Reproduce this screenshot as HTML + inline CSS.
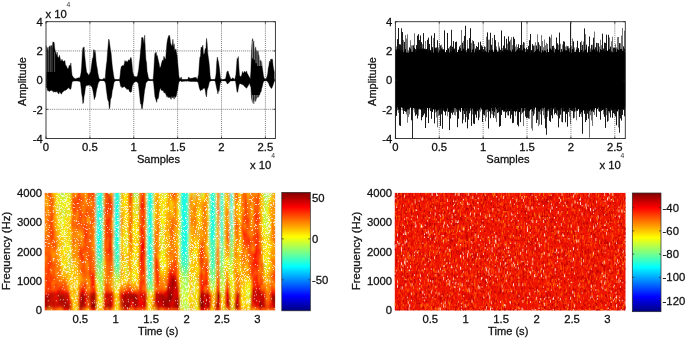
<!DOCTYPE html>
<html lang="en"><head><meta charset="utf-8"><title>Speech and noise: waveforms and spectrograms</title>
<style>html,body{margin:0;padding:0;background:#fff}svg{display:block}text{font-family:"Liberation Sans", Arial, sans-serif;fill:#111;stroke:#111;stroke-width:.28px}</style>
</head><body>
<svg width="685" height="339" viewBox="0 0 685 339">
<defs><linearGradient id="jet" x1="0" y1="1" x2="0" y2="0">
<stop offset="0" stop-color="#000080"/>
<stop offset="0.125" stop-color="#0000ff"/>
<stop offset="0.25" stop-color="#0080ff"/>
<stop offset="0.375" stop-color="#00ffff"/>
<stop offset="0.5" stop-color="#80ff80"/>
<stop offset="0.625" stop-color="#ffff00"/>
<stop offset="0.75" stop-color="#ff8000"/>
<stop offset="0.875" stop-color="#ff0000"/>
<stop offset="1" stop-color="#800000"/>
</linearGradient></defs>
<rect width="685" height="339" fill="#fff"/>
<path d="M89.88 21.7V138.5M133.76 21.7V138.5M177.64 21.7V138.5M221.52 21.7V138.5M265.4 21.7V138.5M46 50.9H275.4M46 80.1H275.4M46 109.3H275.4" stroke="#3a3a3a" stroke-width="0.75" stroke-dasharray="0.85 1.1" fill="none"/>
<path d="M46.3 45.63 46.9 48.15 47.5 47.59 48.1 51.07 48.7 46.96 49.3 46.73 49.9 45.73 50.5 46.87 51.1 45.27 51.7 46.08 52.3 47.76 52.9 41.84 53.5 42.32 54.1 42.37 54.7 48.17 55.3 51.01 55.9 53.1 56.5 55.92 57.1 52.08 57.7 56.73 58.3 57.71 58.9 56.92 59.5 55.13 60.1 58.02 60.7 60.77 61.3 61.09 61.9 59.21 62.5 60.31 63.1 61.29 63.7 61.43 64.3 61.08 64.9 60.55 65.5 65.24 66.1 65.4 66.7 66.44 67.3 68.82 67.9 68.24 68.5 68.58 69.1 65.42 69.7 65.43 70.3 66.1 70.9 62.96 71.5 70.2 72.1 75.39 72.7 76.11 73.3 77.25 73.9 78.06 74.5 78.22 75.1 78.77 75.7 78.64 76.3 78.38 76.9 78.27 77.5 78.11 78.1 77.98 78.7 77.79 79.3 78.07 79.9 77.3 80.5 75.57 81.1 72.25 81.7 65.21 82.3 53.34 82.9 47.68 83.5 47.95 84.1 46.82 84.7 55.38 85.3 60.96 85.9 66.78 86.5 71.47 87.1 73.36 87.7 73.35 88.3 75.14 88.9 74.58 89.5 74.37 90.1 72.91 90.7 71.42 91.3 67.27 91.9 62.83 92.5 58.2 93.1 57.38 93.7 49.46 94.3 53.52 94.9 50.09 95.5 53.69 96.1 61.2 96.7 65.65 97.3 68.68 97.9 73.3 98.5 76.11 99.1 78.42 99.7 78.97 100.3 79.24 100.9 79.54 101.5 79.63 102.1 79.59 102.7 79.62 103.3 78.92 103.9 77.94 104.5 78.6 105.1 79.52 105.7 72.01 106.3 65.37 106.9 61.24 107.5 52.66 108.1 45.86 108.7 39.07 109.3 40.73 109.9 45.59 110.5 49.9 111.1 53.11 111.7 59.82 112.3 66.18 112.9 70.52 113.5 74.7 114.1 78.04 114.7 79.59 115.3 79.56 115.9 79.56 116.5 79.58 117.1 79.63 117.7 79.55 118.3 79.62 118.9 79.59 119.5 79.63 120.1 75.66 120.7 69.7 121.3 66.6 121.9 66.12 122.5 65.46 123.1 66.11 123.7 65.43 124.3 63.92 124.9 60.52 125.5 61.35 126.1 62.6 126.7 60.8 127.3 61.96 127.9 61.76 128.5 59.81 129.1 59.93 129.7 60.47 130.3 58.47 130.9 57.34 131.5 59.3 132.1 65.17 132.7 72.29 133.3 73.82 133.9 75.94 134.5 76.4 135.1 76.46 135.7 76.75 136.3 76.89 136.9 76.24 137.5 75.95 138.1 72.38 138.7 69.26 139.3 63.06 139.9 58.69 140.5 51.62 141.1 45.89 141.7 37.54 142.3 37.81 142.9 37.23 143.5 40.33 144.1 44.49 144.7 35.12 145.3 49.49 145.9 59.61 146.5 62.5 147.1 71.52 147.7 74.1 148.3 77.54 148.9 78.6 149.5 79.32 150.1 79.62 150.7 79.6 151.3 79.66 151.9 79.64 152.5 79.6 153.1 79.56 153.7 72.73 154.3 61.82 154.9 53.31 155.5 53.38 156.1 51.88 156.7 56.04 157.3 55.54 157.9 58.41 158.5 61.19 159.1 63.59 159.7 67.45 160.3 67.37 160.9 66.35 161.5 63.13 162.1 61.37 162.7 60.03 163.3 61 163.9 56.29 164.5 57.46 165.1 59.34 165.7 58.97 166.3 51.03 166.9 43.76 167.5 39.65 168.1 37.45 168.7 35.84 169.3 35.1 169.9 37.11 170.5 42.86 171.1 44.19 171.7 46.09 172.3 45.51 172.9 39.26 173.5 47.56 174.1 43.86 174.7 50.74 175.3 50.13 175.9 48.81 176.5 52.76 177.1 55.75 177.7 62.61 178.3 69.27 178.9 76.09 179.5 78.52 180.1 78.82 180.7 77.86 181.3 76.97 181.9 79.69 182.5 79.6 183.1 79.57 183.7 79.6 184.3 79.54 184.9 79.55 185.5 79.58 186.1 79.55 186.7 79.46 187.3 79.55 187.9 79.07 188.5 77.37 189.1 77.35 189.7 78.17 190.3 78.6 190.9 78.31 191.5 78.33 192.1 78.25 192.7 78.07 193.3 77.82 193.9 77.85 194.5 77.47 195.1 77.48 195.7 77.49 196.3 77.51 196.9 78.92 197.5 79.47 198.1 76.38 198.7 73.87 199.3 63.52 199.9 57.13 200.5 56.2 201.1 47.01 201.7 47.48 202.3 47.43 202.9 45.1 203.5 55.07 204.1 53.73 204.7 52.81 205.3 48.43 205.9 48.75 206.5 38.33 207.1 42.64 207.7 52.78 208.3 57.13 208.9 61.16 209.5 67.04 210.1 75.48 210.7 79.2 211.3 79.56 211.9 79.53 212.5 79.64 213.1 79.58 213.7 79.61 214.3 79.58 214.9 79.6 215.5 77.54 216.1 74.05 216.7 62.69 217.3 57.05 217.9 59.78 218.5 61.9 219.1 65.91 219.7 70.95 220.3 77.37 220.9 79.61 221.5 79.6 222.1 79.62 222.7 79.63 223.3 79.61 223.9 79.32 224.5 79.2 225.1 78.79 225.7 78.62 226.3 75.04 226.9 72 227.5 71.17 228.1 70.89 228.7 73.27 229.3 75.08 229.9 76.65 230.5 78.31 231.1 79.61 231.7 78.87 232.3 78.35 232.9 77.74 233.5 78.53 234.1 79.04 234.7 79.4 235.3 77.6 235.9 74.75 236.5 66.84 237.1 58.42 237.7 59.27 238.3 56.56 238.9 67.44 239.5 74.9 240.1 76.54 240.7 76.52 241.3 76.28 241.9 74.57 242.5 71.53 243.1 73.02 243.7 73.25 244.3 71.17 244.9 71.88 245.5 72.81 246.1 71.25 246.7 71.47 247.3 73.71 247.9 74.29 248.5 75.64 249.1 76.68 249.7 78.05 250.3 79.03 250.9 70.72 251.5 51.41 252.1 40.63 252.7 38.55 253.3 44.2 253.9 40.89 254.5 52.7 255.1 48.45 255.7 46.82 256.3 50.63 256.9 50.64 257.5 51.49 258.1 50.69 258.7 54.78 259.3 56.49 259.9 60.78 260.5 60.46 261.1 60.68 261.7 61.99 262.3 67.87 262.9 71.55 263.5 76.05 264.1 78.08 264.7 78.63 265.3 79.29 265.9 79 266.5 77.91 267.1 76.26 267.7 73.68 268.3 67.93 268.9 65.84 269.5 61 270.1 62.85 270.7 58.96 271.3 59.84 271.9 58.87 272.5 59.56 273.1 65.87 273.7 69.2 274.3 72.11 L274.3 81.73 273.7 82.74 273.1 85.06 272.5 86.39 271.9 88.02 271.3 88.46 270.7 87.53 270.1 86.39 269.5 85.88 268.9 83.73 268.3 82.73 267.7 81.94 267.1 81.13 266.5 80.63 265.9 80.68 265.3 80.72 264.7 80.95 264.1 80.88 263.5 81.63 262.9 83.46 262.3 86.5 261.7 88.3 261.1 91.54 260.5 92.33 259.9 94.22 259.3 95.43 258.7 96.8 258.1 97.13 257.5 97.04 256.9 98.45 256.3 98.97 255.7 101.65 255.1 100.49 254.5 100.16 253.9 103.8 253.3 100 252.7 103.29 252.1 101.06 251.5 98.07 250.9 86.89 250.3 85.94 249.7 83.39 249.1 83.74 248.5 85.2 247.9 86.04 247.3 87.2 246.7 87.92 246.1 88.28 245.5 86.92 244.9 86.67 244.3 86.26 243.7 85.26 243.1 84.91 242.5 84.59 241.9 84.3 241.3 84.22 240.7 83.69 240.1 83.72 239.5 83.67 238.9 85.56 238.3 88.55 237.7 92.08 237.1 92.24 236.5 87.73 235.9 83.41 235.3 80.61 234.7 80.74 234.1 80.66 233.5 80.67 232.9 80.77 232.3 80.89 231.7 80.9 231.1 80.79 230.5 80.95 229.9 81.39 229.3 82.29 228.7 82.94 228.1 83.57 227.5 83.91 226.9 83.2 226.3 81.79 225.7 80.92 225.1 81.01 224.5 80.76 223.9 80.9 223.3 80.78 222.7 80.76 222.1 80.68 221.5 80.77 220.9 81.72 220.3 83.03 219.7 86.71 219.1 91.35 218.5 90.55 217.9 93.89 217.3 90.77 216.7 88.41 216.1 85.5 215.5 82.4 214.9 80.6 214.3 80.65 213.7 80.57 213.1 80.65 212.5 80.58 211.9 80.66 211.3 80.72 210.7 81.05 210.1 81.45 209.5 81.52 208.9 84.33 208.3 86.86 207.7 88.56 207.1 90.37 206.5 96.98 205.9 95.1 205.3 90.43 204.7 88.11 204.1 88.17 203.5 88.45 202.9 88.38 202.3 89.89 201.7 89.52 201.1 90.42 200.5 90.85 199.9 89.62 199.3 88.06 198.7 84.93 198.1 82.15 197.5 81.92 196.9 81.58 196.3 81.54 195.7 81.47 195.1 81.63 194.5 81.41 193.9 81.52 193.3 81.46 192.7 81.6 192.1 81.56 191.5 81.51 190.9 81.46 190.3 81.46 189.7 81.38 189.1 81.37 188.5 81.22 187.9 81.06 187.3 81.04 186.7 81.15 186.1 81.18 185.5 81.12 184.9 81.22 184.3 81.28 183.7 81.37 183.1 81.29 182.5 81.44 181.9 81.51 181.3 81.47 180.7 81.11 180.1 80.7 179.5 81.26 178.9 82.52 178.3 85.04 177.7 90.21 177.1 91.56 176.5 95.36 175.9 96.81 175.3 97.57 174.7 95.59 174.1 99.28 173.5 95.89 172.9 97.98 172.3 96.91 171.7 96.33 171.1 99.38 170.5 98.03 169.9 97.11 169.3 97.57 168.7 96.41 168.1 97.93 167.5 95.51 166.9 96.96 166.3 95.26 165.7 94.07 165.1 92.35 164.5 93.13 163.9 92.38 163.3 90.68 162.7 90.46 162.1 90.86 161.5 90.36 160.9 89.17 160.3 87.82 159.7 90.14 159.1 92.75 158.5 97.8 157.9 99.04 157.3 98.43 156.7 102.39 156.1 100.22 155.5 98.6 154.9 96.43 154.3 90.19 153.7 83.86 153.1 80.69 152.5 80.59 151.9 80.56 151.3 80.59 150.7 80.6 150.1 80.63 149.5 80.64 148.9 80.55 148.3 80.58 147.7 80.89 147.1 81.53 146.5 82.28 145.9 83.17 145.3 86.9 144.7 89.86 144.1 94.56 143.5 99.98 142.9 104.02 142.3 108.82 141.7 108.66 141.1 103.95 140.5 103.76 139.9 98.05 139.3 92.02 138.7 87.02 138.1 82.97 137.5 82.47 136.9 82.07 136.3 81.63 135.7 81.83 135.1 81.83 134.5 82.22 133.9 82.7 133.3 83.68 132.7 84.71 132.1 86.67 131.5 91.78 130.9 92.02 130.3 92.17 129.7 91.77 129.1 90.44 128.5 89 127.9 89.06 127.3 89.43 126.7 89.23 126.1 87.88 125.5 88.02 124.9 86.83 124.3 86.45 123.7 86.89 123.1 86.95 122.5 87.45 121.9 87.69 121.3 86.32 120.7 86.47 120.1 83.44 119.5 80.6 118.9 80.63 118.3 80.59 117.7 80.69 117.1 80.55 116.5 80.65 115.9 80.69 115.3 81.04 114.7 81.44 114.1 82.35 113.5 85.04 112.9 88.77 112.3 90.4 111.7 95.89 111.1 98.27 110.5 99.3 109.9 106.87 109.3 109 108.7 101.52 108.1 100.66 107.5 98.44 106.9 93.75 106.3 89.44 105.7 83.84 105.1 81.99 104.5 81.28 103.9 80.79 103.3 80.64 102.7 80.64 102.1 80.63 101.5 80.59 100.9 80.59 100.3 80.59 99.7 81.04 99.1 81.7 98.5 82.2 97.9 84.55 97.3 87.23 96.7 89.23 96.1 92.59 95.5 96.58 94.9 97.86 94.3 99.69 93.7 94.96 93.1 91.47 92.5 88.99 91.9 86.91 91.3 86.15 90.7 85.91 90.1 84.9 89.5 85.13 88.9 85.38 88.3 84.95 87.7 85.17 87.1 85.77 86.5 85.54 85.9 86.04 85.3 88.45 84.7 93.85 84.1 95.92 83.5 102.79 82.9 103.61 82.3 97.19 81.7 93.75 81.1 88.01 80.5 82.84 79.9 81.4 79.3 81.19 78.7 81.24 78.1 81.13 77.5 81.03 76.9 80.9 76.3 81.05 75.7 81.03 75.1 80.94 74.5 81.08 73.9 81.03 73.3 81.17 72.7 81.55 72.1 82.09 71.5 85.52 70.9 88.92 70.3 89.32 69.7 89.16 69.1 87.77 68.5 87.84 67.9 88.57 67.3 88.38 66.7 89.69 66.1 89.72 65.5 90.35 64.9 90.82 64.3 90.34 63.7 91.15 63.1 91.46 62.5 92.16 61.9 93.13 61.3 94.22 60.7 92.99 60.1 92.45 59.5 91.78 58.9 93.98 58.3 93.56 57.7 92.64 57.1 91.45 56.5 91.87 55.9 91.73 55.3 92.12 54.7 91.7 54.1 91.84 53.5 92.29 52.9 90.13 52.3 91.33 51.7 90.62 51.1 90.2 50.5 90.38 49.9 91.45 49.3 91.16 48.7 90.82 48.1 90.98 47.5 90.53 46.9 87.24 46.3 87.83Z" fill="#000" stroke="#000" stroke-width="0.4" stroke-linejoin="round"/>
<path d="M46 80.1H275.4" stroke="#000" stroke-width="0.8" fill="none"/>
<path d="M46.9 45V72M48.6 47V72M50.3 45.5V72M52 46.5V72M54.6 52V72" stroke="#fff" stroke-opacity="0.45" stroke-width="0.7" fill="none"/>
<path d="M252.6 40.93V58.43M252.6 95V104.63M254.3 42.37V59.87M254.3 95V103.24M256.1 45.72V63.22M256.1 95V102.07M257.9 50.55V66M257.9 95V99.17M259.6 55.8V66M259.6 95V95.93M261.2 58.73V66M261.2 95V92.71" stroke="#fff" stroke-opacity="0.75" stroke-width="0.7" fill="none"/>
<rect x="46" y="21.7" width="229.4" height="116.8" fill="none" stroke="#2a2a2a" stroke-width="0.9"/>
<path d="M46 138.5v-2M46 21.7v2M89.88 138.5v-2M89.88 21.7v2M133.76 138.5v-2M133.76 21.7v2M177.64 138.5v-2M177.64 21.7v2M221.52 138.5v-2M221.52 21.7v2M265.4 138.5v-2M265.4 21.7v2M46 21.7h2M275.4 21.7h-2M46 50.9h2M275.4 50.9h-2M46 80.1h2M275.4 80.1h-2M46 109.3h2M275.4 109.3h-2M46 138.5h2M275.4 138.5h-2" stroke="#2a2a2a" stroke-width="0.8" fill="none"/>
<text x="46" y="151.4" text-anchor="middle" font-size="11.3">0</text>
<text x="89.88" y="151.4" text-anchor="middle" font-size="11.3">0.5</text>
<text x="133.76" y="151.4" text-anchor="middle" font-size="11.3">1</text>
<text x="177.64" y="151.4" text-anchor="middle" font-size="11.3">1.5</text>
<text x="221.52" y="151.4" text-anchor="middle" font-size="11.3">2</text>
<text x="265.4" y="151.4" text-anchor="middle" font-size="11.3">2.5</text>
<text x="42.8" y="25.9" text-anchor="end" font-size="11.3">4</text>
<text x="42.8" y="55.1" text-anchor="end" font-size="11.3">2</text>
<text x="42.8" y="84.3" text-anchor="end" font-size="11.3">0</text>
<text x="42.8" y="113.5" text-anchor="end" font-size="11.3">-2</text>
<text x="42.8" y="142.7" text-anchor="end" font-size="11.3">-4</text>
<text x="45.4" y="17.7" text-anchor="start" font-size="11.3">x 10</text>
<text x="66.5" y="6.6" text-anchor="start" font-size="6.8" style="stroke:none;fill:#333">4</text>
<text x="250" y="168.5" text-anchor="start" font-size="11.3">x 10</text>
<text x="271.2" y="158" text-anchor="start" font-size="6.8" style="stroke:none;fill:#333">4</text>
<text x="158.5" y="163.1" text-anchor="middle" font-size="11.1">Samples</text>
<text transform="translate(26.4 81.5) rotate(-90)" text-anchor="middle" font-size="11">Amplitude</text>
<path d="M439.28 21.7V138.5M483.16 21.7V138.5M527.04 21.7V138.5M570.92 21.7V138.5M614.8 21.7V138.5M395.4 50.9H625.3M395.4 80.1H625.3M395.4 109.3H625.3" stroke="#3a3a3a" stroke-width="0.75" stroke-dasharray="0.85 1.1" fill="none"/>
<rect x="395.4" y="53.09" width="229.9" height="54.02" fill="#000"/>
<path d="M395.5 49.75V52.8M395.5 110.69V137.77M396.5 110.8V115.89M397.5 39.15V48.8M398.5 28.05V50.03M399.5 44.22V49.56M399.5 108.51V125.42M400.5 44.48V51.01M400.5 110.41V125.95M402.5 32.08V49.96M403.5 108.49V113.99M404.5 41.96V51.75M404.5 107.82V110.99M409.5 47.35V52.55M411.5 109.11V120.3M413.5 45.27V51.16M415.5 49.1V53.04M415.5 108.32V115.76M416.5 45.05V50.65M416.5 108.53V114.49M417.5 35.64V48.86M417.5 110.92V118.52M418.5 34.14V48.84M419.5 40.03V50.33M420.5 35.53V48.69M421.5 42.12V49.33M421.5 110.02V120.31M422.5 109.21V117.12M423.5 33.12V49.48M423.5 107.73V115.39M424.5 109.02V113.58M425.5 109.58V128.02M426.5 109.67V117.31M427.5 39.77V48.55M428.5 37.61V51.62M428.5 111.2V123.08M429.5 44.01V48.95M430.5 107.25V111.01M431.5 35.67V52.66M431.5 107.75V118.81M432.5 47.14V49.59M434.5 33.17V49.08M434.5 110.4V123.45M435.5 47.63V50.05M436.5 47.48V51.68M437.5 40.19V50.88M439.5 107.8V114.87M440.5 45.43V51.29M440.5 108.71V125.94M441.5 107.88V114.3M442.5 110.97V128.79M443.5 108.33V110.66M444.5 30.33V51.11M445.5 111.2V115.39M447.5 32.94V51.84M449.5 111.33V130.08M450.5 45.73V51.4M450.5 111.28V118.46M451.5 109.73V112.83M452.5 46.73V50.13M452.5 108.85V114.67M453.5 41.09V49.88M453.5 109.48V112.43M454.5 48.57V51.44M455.5 42.02V52.78M456.5 41.58V50.49M457.5 109.87V127.19M458.5 108.62V118.72M459.5 46.43V49.09M459.5 107.65V110.49M462.5 42.77V50.97M462.5 109.77V123.35M464.5 35.9V51.11M464.5 107.63V114.01M465.5 25.74V51.38M465.5 107.53V122.22M467.5 107.66V128.39M468.5 110.31V119.6M469.5 38.16V52.24M469.5 108.52V113.38M470.5 28.16V49.24M471.5 109.61V125.87M473.5 41.15V49.06M473.5 108.98V123.53M474.5 111.4V124.08M475.5 48.62V51.05M475.5 111.05V114.64M476.5 46.05V51.24M476.5 109.73V117.71M477.5 47.04V50.48M477.5 107.92V111.17M478.5 42.32V51.36M478.5 109V120.21M480.5 41.66V50.54M481.5 45.37V48.89M482.5 46.56V52.43M482.5 109.62V122.03M483.5 49.32V51.74M483.5 109.99V114.52M484.5 46.36V51.65M484.5 111.43V115.36M487.5 32.36V49.01M488.5 109.79V128.49M490.5 32.75V50.86M490.5 111.14V118.19M491.5 44.79V49.9M493.5 107.44V117.81M494.5 34.89V50.26M495.5 40.16V48.9M497.5 108.88V113.03M498.5 107.06V112.33M499.5 110.91V126.81M500.5 49.8V52.91M500.5 107.19V126.01M501.5 30.45V51.76M501.5 109.63V114.97M503.5 45.55V51.87M503.5 109.29V111.7M504.5 36.25V50.23M505.5 48.35V50.98M505.5 108.6V117.94M506.5 38.84V51.04M506.5 108.15V112.3M508.5 36.45V50.6M508.5 107.92V115.54M509.5 41.5V51.3M510.5 108.49V118.57M511.5 109.27V114.73M512.5 110.52V123.12M513.5 36.77V51.92M513.5 110.51V122.76M514.5 38.81V48.68M517.5 108V124.79M518.5 44.22V48.97M518.5 111.71V126.41M519.5 48V51.51M520.5 45.01V50.36M520.5 110V122.12M522.5 107.64V112.68M523.5 42.16V48.71M525.5 107.47V116.62M526.5 47.73V51.09M526.5 108.77V118.28M527.5 49.18V51.44M527.5 109.68V117.73M528.5 45.88V49.91M528.5 110.6V118.45M529.5 40.16V48.78M530.5 33.99V52.74M532.5 44.13V52.17M533.5 45.68V53.08M533.5 107.28V115.67M536.5 45.5V49.82M536.5 109.84V123.01M537.5 108.06V119.78M538.5 42.21V48.59M540.5 46.1V48.88M541.5 107.65V124.78M545.5 111.52V128.26M549.5 36.61V49.14M549.5 109.48V120.77M550.5 107.73V121.88M551.5 107.38V115.26M552.5 45.97V48.55M552.5 111.45V118.42M553.5 45.71V52.1M554.5 107.29V114.55M555.5 107.15V113.01M556.5 37.5V48.49M556.5 109.07V114.56M557.5 43.31V50.49M558.5 110.28V127.4M559.5 32.59V49.19M559.5 109.52V118.34M560.5 108.03V114.66M561.5 48.98V51.76M562.5 111.67V122.29M563.5 41.27V50.01M563.5 107.19V111.47M564.5 41.66V49.91M565.5 109.55V122.25M566.5 111.05V113.92M567.5 46.25V51.42M567.5 109V126.66M568.5 109.05V112.05M570.5 47.35V51.09M572.5 107.67V111.14M573.5 41.31V49.75M573.5 108.35V118.26M577.5 40.87V50.15M579.5 110.52V116.98M580.5 42.16V51.25M580.5 109.68V113.87M582.5 44.92V52.73M582.5 111.47V133.79M584.5 28.38V50.66M584.5 109.6V113.82M585.5 111.19V122.09M586.5 44.62V48.49M586.5 108.7V120.16M587.5 110.46V113.71M588.5 46.39V49.27M588.5 110.04V118.64M589.5 36.53V51.67M591.5 44.86V51.7M593.5 37.66V48.6M593.5 107.46V112.17M595.5 47.31V51.8M596.5 42.89V50.26M596.5 110.35V116.94M598.5 43.23V50.51M600.5 108.96V119.72M601.5 107.95V111.04M602.5 33.67V49.77M603.5 48.54V52.34M604.5 42.6V51.04M604.5 111.71V116.85M605.5 42.94V51.66M605.5 107.25V127.94M606.5 34.64V50.16M607.5 108.37V121.73M608.5 34.83V49.68M610.5 46.6V51.74M610.5 108.2V117.5M611.5 107.86V110.48M612.5 110.18V117.78M613.5 47.6V52.58M613.5 109.01V113.19M614.5 47.77V52.63M614.5 109.14V114.26M615.5 108.68V116.44M616.5 109.91V125.31M619.5 43.07V50.78M619.5 109.82V115.9M620.5 109.64V118.46M621.5 108.72V120.6M622.5 108.58V114.94M623.5 46.34V50.92M624.5 109.51V116.27" stroke="#000" stroke-opacity="0.9" stroke-width="1" fill="none"/>
<path d="M396.5 46.35V49.98M397.5 107.16V110.29M398.5 109.23V112.91M401.5 47.14V51.21M402.5 107.3V110.35M403.5 40.18V52.54M405.5 35.09V49.52M406.5 38.56V52.96M406.5 111.14V114.38M407.5 34.34V52.83M407.5 108.72V122.72M408.5 50.34V53.12M408.5 109.01V116.94M409.5 108.12V114.31M410.5 40.31V49.15M411.5 45.48V52.23M412.5 45.34V52.38M412.5 107.21V109.65M414.5 33.3V48.51M414.5 108.18V112.41M418.5 108.84V115.81M422.5 44.07V48.97M425.5 41.03V49.63M433.5 38.01V52.93M435.5 108.8V112.46M436.5 111.22V117.44M437.5 110.12V127.32M438.5 47.57V53.02M438.5 109.44V115.96M439.5 43.17V50.83M441.5 44.67V48.81M442.5 47.31V49.82M447.5 107.95V116.32M449.5 46.87V52.92M454.5 107.46V115.02M455.5 107.81V115.61M456.5 108.77V112.05M460.5 44.95V48.68M461.5 30.04V51.4M463.5 40.91V49.12M463.5 110.33V119.61M466.5 50.21V52.57M466.5 110.7V117.01M467.5 39.96V49.03M470.5 107.81V110.93M471.5 42.97V52.76M472.5 40.14V50.02M472.5 108.24V114.4M474.5 43.93V52.88M479.5 108.92V117.5M480.5 107.1V111.51M485.5 46.91V51.62M485.5 109.62V121.39M486.5 36.6V52.21M486.5 109.2V117.35M487.5 108.57V112.02M488.5 39.8V52.82M489.5 39.52V50.46M491.5 107.7V113.87M492.5 37.96V50.18M492.5 110.52V114.68M494.5 111.41V115.85M495.5 107.06V118.28M496.5 46.46V50.16M496.5 108.78V122.22M498.5 42.2V51.94M499.5 46.39V48.77M502.5 48.1V51.32M507.5 43.65V50.36M507.5 110.5V115.25M510.5 39.77V51.05M511.5 37.16V52.4M512.5 45.08V49.88M515.5 46.6V52.27M515.5 111.64V116.18M516.5 44.38V51.18M517.5 47.01V49.78M521.5 45.36V51.28M521.5 107.61V114.26M522.5 44.7V50.76M523.5 111.07V126.13M524.5 42.61V48.57M524.5 107.72V111.06M525.5 49.08V52.56M529.5 110.66V118.84M531.5 108.5V128.48M532.5 111.13V130.7M534.5 45.45V52.55M534.5 108.78V113.77M535.5 42.29V51.47M537.5 34.39V49.61M538.5 110.99V126.12M539.5 44.69V51.79M539.5 111.28V124.54M540.5 108.98V114.27M541.5 35.08V53.05M542.5 41.09V50.75M542.5 107.55V111.2M543.5 47.21V51.91M543.5 108.29V115.2M544.5 39.51V50.7M544.5 107.24V118.56M545.5 45.23V51.38M546.5 42.9V52.99M546.5 109.75V119.52M547.5 44.04V49.62M547.5 110.19V116.79M548.5 108.51V111.26M550.5 37.79V49.04M551.5 34.64V50.32M554.5 47.79V52.8M557.5 110.09V115.87M558.5 44.72V50.51M560.5 43.77V52.57M561.5 107.81V121.92M562.5 44.56V51.99M565.5 46.64V51.15M566.5 45.77V50.77M568.5 46.19V49.02M569.5 48.11V52.26M569.5 107.68V116.64M570.5 109.56V124.18M571.5 46.04V52.99M572.5 38.5V49.51M574.5 47.49V52.47M574.5 111.21V117.73M575.5 107.09V111.46M576.5 47.24V49.98M576.5 110.18V120.26M581.5 40.82V50.45M581.5 111.51V116.81M583.5 41.57V51.83M585.5 34.13V50.07M589.5 110.65V137.77M590.5 48.42V52.22M590.5 109.06V115.35M591.5 111.01V120.42M592.5 44.72V50.23M592.5 110.25V125.9M594.5 31.55V49.91M594.5 109.17V114.97M597.5 42.89V51.83M598.5 107.16V111.26M599.5 46.64V52.73M600.5 39.68V49.59M601.5 45.22V50.42M603.5 108.84V114.47M606.5 107.64V115.27M608.5 110.57V120.9M609.5 37.4V49.51M609.5 111V113.31M611.5 41.24V51.99M612.5 36.71V52.62M615.5 44.11V48.75M616.5 47.37V52.38M617.5 37.08V49.32M618.5 36.99V50.44M618.5 108.77V127.41M620.5 43.22V49.43M621.5 35.57V49.46M622.5 28V51.38M624.5 30.7V49.16" stroke="#000" stroke-opacity="0.55" stroke-width="1" fill="none"/>
<path d="M395.5 52.3V111.19M396.5 49.48V111.3M397.5 48.3V107.66M398.5 49.53V109.73M399.5 49.06V109.01M400.5 50.51V110.91M401.5 50.71V107.55M402.5 49.46V107.8M403.5 52.04V108.99M404.5 51.25V108.32M405.5 49.02V111.69M406.5 52.46V111.64M407.5 52.33V109.22M408.5 52.62V109.51M409.5 52.05V108.62M410.5 48.65V107.71M411.5 51.73V109.61M412.5 51.88V107.71M413.5 50.66V108.18M414.5 48.01V108.68M415.5 52.54V108.82M416.5 50.15V109.03M417.5 48.36V111.42M418.5 48.34V109.34M419.5 49.83V108.89M420.5 48.19V109.53M421.5 48.83V110.52M422.5 48.47V109.71M423.5 48.98V108.23M424.5 48.7V109.52M425.5 49.13V110.08M426.5 49.13V110.17M427.5 48.05V108.09M428.5 51.12V111.7M429.5 48.45V108.32M430.5 50.17V107.75M431.5 52.16V108.25M432.5 49.09V111.93M433.5 52.43V109.37M434.5 48.58V110.9M435.5 49.55V109.3M436.5 51.18V111.72M437.5 50.38V110.62M438.5 52.52V109.94M439.5 50.33V108.3M440.5 50.79V109.21M441.5 48.31V108.38M442.5 49.32V111.47M443.5 49.32V108.83M444.5 50.61V111.73M445.5 52.13V111.7M446.5 49.99V111.3M447.5 51.34V108.45M448.5 48.38V111.96M449.5 52.42V111.83M450.5 50.9V111.78M451.5 51.61V110.23M452.5 49.63V109.35M453.5 49.38V109.98M454.5 50.94V107.96M455.5 52.28V108.31M456.5 49.99V109.27M457.5 52.12V110.37M458.5 49.71V109.12M459.5 48.59V108.15M460.5 48.18V111.83M461.5 50.9V108.09M462.5 50.47V110.27M463.5 48.62V110.83M464.5 50.61V108.13M465.5 50.88V108.03M466.5 52.07V111.2M467.5 48.53V108.16M468.5 48.58V110.81M469.5 51.74V109.02M470.5 48.74V108.31M471.5 52.26V110.11M472.5 49.52V108.74M473.5 48.56V109.48M474.5 52.38V111.9M475.5 50.55V111.55M476.5 50.74V110.23M477.5 49.98V108.42M478.5 50.86V109.5M479.5 49.71V109.42M480.5 50.04V107.6M481.5 48.39V108.88M482.5 51.93V110.12M483.5 51.24V110.49M484.5 51.15V111.93M485.5 51.12V110.12M486.5 51.71V109.7M487.5 48.51V109.07M488.5 52.32V110.29M489.5 49.96V111.37M490.5 50.36V111.64M491.5 49.4V108.2M492.5 49.68V111.02M493.5 51.73V107.94M494.5 49.76V111.91M495.5 48.4V107.56M496.5 49.66V109.28M497.5 51.54V109.38M498.5 51.44V107.56M499.5 48.27V111.41M500.5 52.41V107.69M501.5 51.26V110.13M502.5 50.82V110.21M503.5 51.37V109.79M504.5 49.73V111.55M505.5 50.48V109.1M506.5 50.54V108.65M507.5 49.86V111M508.5 50.1V108.42M509.5 50.8V111.18M510.5 50.55V108.99M511.5 51.9V109.77M512.5 49.38V111.02M513.5 51.42V111.01M514.5 48.18V111.29M515.5 51.77V112.14M516.5 50.68V111.3M517.5 49.28V108.5M518.5 48.47V112.21M519.5 51.01V112.08M520.5 49.86V110.5M521.5 50.78V108.11M522.5 50.26V108.14M523.5 48.21V111.57M524.5 48.07V108.22M525.5 52.06V107.97M526.5 50.59V109.27M527.5 50.94V110.18M528.5 49.41V111.1M529.5 48.28V111.16M530.5 52.24V109.5M531.5 50.16V109M532.5 51.67V111.63M533.5 52.58V107.78M534.5 52.05V109.28M535.5 50.97V107.58M536.5 49.32V110.34M537.5 49.11V108.56M538.5 48.09V111.49M539.5 51.29V111.78M540.5 48.38V109.48M541.5 52.55V108.15M542.5 50.25V108.05M543.5 51.41V108.79M544.5 50.2V107.74M545.5 50.88V112.02M546.5 52.49V110.25M547.5 49.12V110.69M548.5 52.05V109.01M549.5 48.64V109.98M550.5 48.54V108.23M551.5 49.82V107.88M552.5 48.05V111.95M553.5 51.6V108.76M554.5 52.3V107.79M555.5 49.2V107.65M556.5 47.99V109.57M557.5 49.99V110.59M558.5 50.01V110.78M559.5 48.69V110.02M560.5 52.07V108.53M561.5 51.26V108.31M562.5 51.49V112.17M563.5 49.51V107.69M564.5 49.41V111.54M565.5 50.65V110.05M566.5 50.27V111.55M567.5 50.92V109.5M568.5 48.52V109.55M569.5 51.76V108.18M570.5 50.59V110.06M571.5 52.49V110.71M572.5 49.01V108.17M573.5 49.25V108.85M574.5 51.97V111.71M575.5 51.74V107.59M576.5 49.48V110.68M577.5 49.65V110.78M578.5 48.21V109.04M579.5 52.11V111.02M580.5 50.75V110.18M581.5 49.95V112.01M582.5 52.23V111.97M583.5 51.33V110.42M584.5 50.16V110.1M585.5 49.57V111.69M586.5 47.99V109.2M587.5 52.33V110.96M588.5 48.77V110.54M589.5 51.17V111.15M590.5 51.72V109.56M591.5 51.2V111.51M592.5 49.73V110.75M593.5 48.1V107.96M594.5 49.41V109.67M595.5 51.3V108.15M596.5 49.76V110.85M597.5 51.33V108.9M598.5 50.01V107.66M599.5 52.23V111.78M600.5 49.09V109.46M601.5 49.92V108.45M602.5 49.27V110.14M603.5 51.84V109.34M604.5 50.54V112.21M605.5 51.16V107.75M606.5 49.66V108.14M607.5 50.77V108.87M608.5 49.18V111.07M609.5 49.01V111.5M610.5 51.24V108.7M611.5 51.49V108.36M612.5 52.12V110.68M613.5 52.08V109.51M614.5 52.13V109.64M615.5 48.25V109.18M616.5 51.88V110.41M617.5 48.82V111.41M618.5 49.94V109.27M619.5 50.28V110.32M620.5 48.93V110.14M621.5 48.96V109.22M622.5 50.88V109.08M623.5 50.42V109.7M624.5 48.66V110.01" stroke="#000" stroke-width="1" fill="none"/>
<path d="M412.5 80.1V138.5M521.5 21.7V80.1M570.5 22.43V80.1M401.5 28.27V80.1M546.5 80.1V134.85M619.5 80.1V132.66M451.5 29.73V80.1" stroke="#000" stroke-opacity="0.85" stroke-width="1" fill="none"/>
<rect x="395.4" y="21.7" width="229.9" height="116.8" fill="none" stroke="#2a2a2a" stroke-width="0.9"/>
<path d="M395.4 138.5v-2M395.4 21.7v2M439.28 138.5v-2M439.28 21.7v2M483.16 138.5v-2M483.16 21.7v2M527.04 138.5v-2M527.04 21.7v2M570.92 138.5v-2M570.92 21.7v2M614.8 138.5v-2M614.8 21.7v2M395.4 21.7h2M625.3 21.7h-2M395.4 50.9h2M625.3 50.9h-2M395.4 80.1h2M625.3 80.1h-2M395.4 109.3h2M625.3 109.3h-2M395.4 138.5h2M625.3 138.5h-2" stroke="#2a2a2a" stroke-width="0.8" fill="none"/>
<text x="395.4" y="151.4" text-anchor="middle" font-size="11.3">0</text>
<text x="439.28" y="151.4" text-anchor="middle" font-size="11.3">0.5</text>
<text x="483.16" y="151.4" text-anchor="middle" font-size="11.3">1</text>
<text x="527.04" y="151.4" text-anchor="middle" font-size="11.3">1.5</text>
<text x="570.92" y="151.4" text-anchor="middle" font-size="11.3">2</text>
<text x="614.8" y="151.4" text-anchor="middle" font-size="11.3">2.5</text>
<text x="392.2" y="25.9" text-anchor="end" font-size="11.3">4</text>
<text x="392.2" y="55.1" text-anchor="end" font-size="11.3">2</text>
<text x="392.2" y="84.3" text-anchor="end" font-size="11.3">0</text>
<text x="392.2" y="113.5" text-anchor="end" font-size="11.3">-2</text>
<text x="392.2" y="142.7" text-anchor="end" font-size="11.3">-4</text>
<text x="599.4" y="168.5" text-anchor="start" font-size="11.3">x 10</text>
<text x="620.6" y="158" text-anchor="start" font-size="6.8" style="stroke:none;fill:#333">4</text>
<text x="507.9" y="163.1" text-anchor="middle" font-size="11.1">Samples</text>
<text transform="translate(375.8 81.5) rotate(-90)" text-anchor="middle" font-size="11">Amplitude</text>
<clipPath id="c1"><rect x="44.8" y="192.9" width="230.3" height="117.3"/></clipPath>
<filter id="bl" x="-2%" y="-2%" width="104%" height="104%"><feGaussianBlur stdDeviation="0.8"/></filter>
<rect x="44.8" y="192.9" width="230.3" height="117.3" fill="#ff7a00"/>
<g clip-path="url(#c1)"><g filter="url(#bl)">
<g fill="none" stroke-width="1.06" transform="translate(44.3 190.91) scale(1.00130 1.98814)">
<path stroke="#00f0ff" d="M58 0v2M70 0v4M73 4v1M73 6v3M103 30v3M105 37v2M107 16v1M139 26v1M139 28v3M141 14v6M141 23v1M142 0v3M186 0v4"/>
<path stroke="#1affe5" d="M52 0v7M52 8v24M53 3v31M54 0v9M54 11v4M54 17v13M55 0v34M56 0v5M56 7v22M56 30v1M57 0v13M57 16v11M57 28v6M58 2v10M58 18v4M58 23v1M58 28v1M70 4v16M70 23v8M71 0v33M72 0v28M73 0v4M73 5v1M73 9v18M73 28v4M74 0v34M75 0v27M75 28v11M103 2v3M103 6v7M103 18v1M103 20v10M103 33v7M104 3v31M104 35v5M105 0v8M105 9v28M105 39v4M106 0v25M106 29v10M107 0v10M107 11v1M107 13v3M107 17v19M107 41v1M108 0v2M108 3v17M108 23v19M137 0v15M137 20v3M137 24v1M137 26v6M138 0v20M138 21v15M139 0v17M139 18v8M139 27v1M139 31v2M139 34v1M140 0v27M140 28v4M141 0v14M141 20v3M141 24v11M142 3v3M142 13v23M143 0v29M166 0v27M167 0v6M167 10v7M167 18v7M168 3v23M168 27v3M169 0v20M169 21v3M170 0v3M170 4v7M170 12v1M170 15v9M176 0v3M176 4v23M177 0v23M178 0v24M186 4v12M186 19v1M187 0v19M188 0v19M224 0v2"/>
<path stroke="#42ffbd" d="M52 7v1M52 32v3M52 36v2M53 0v3M53 34v2M53 39v1M54 9v2M54 15v2M54 30v5M55 34v2M55 37v2M56 5v2M56 29v1M56 31v4M57 13v3M57 27v1M57 34v3M57 45v1M58 12v6M58 22v1M58 24v4M58 29v7M70 20v3M70 31v6M70 46v1M71 33v6M72 28v11M73 27v1M73 32v6M74 34v6M75 27v1M75 39v3M103 0v2M103 5v1M103 13v5M103 19v1M103 40v6M104 0v3M104 34v1M104 40v6M105 8v1M105 43v3M106 25v4M106 39v7M107 10v1M107 12v1M107 36v5M107 42v3M108 2v1M108 20v3M108 42v5M119 0v2M136 2v1M136 32v1M137 15v5M137 23v1M137 25v1M137 32v5M138 20v1M138 36v2M139 17v1M139 33v1M139 35v3M140 27v1M140 32v7M140 41v1M141 35v4M142 6v7M142 36v3M143 29v12M143 46v2M144 12v9M166 27v8M166 36v4M167 6v4M167 17v1M167 25v15M168 0v3M168 26v1M168 30v10M169 20v1M169 24v14M170 3v1M170 11v1M170 13v2M170 24v15M171 7v7M176 3v1M176 27v6M177 23v14M178 24v5M179 0v3M186 16v3M186 20v5M187 19v8M187 28v1M188 19v6M221 0v2M227 0v2"/>
<path stroke="#6bff94" d="M17 16v1M18 0v2M25 0v2M25 31v3M25 36v2M27 34v1M27 36v1M52 35v1M52 38v2M53 36v3M53 40v1M54 35v2M55 36v1M55 39v6M56 35v4M57 37v5M57 46v3M58 36v5M58 50v1M59 8v1M59 10v1M70 37v3M70 44v2M70 47v1M71 39v2M72 39v3M73 38v4M74 40v1M75 42v2M82 26v1M91 0v2M93 0v2M93 3v1M103 46v3M104 46v4M105 46v3M106 46v2M107 45v5M108 47v3M136 0v2M136 3v9M136 17v15M136 33v5M137 37v4M138 38v3M139 38v3M140 39v2M140 42v2M141 39v6M141 56v5M142 39v2M143 41v1M143 45v1M144 0v12M144 21v17M144 59v2M149 49v2M150 2v2M156 0v3M165 10v1M165 16v9M166 35v1M166 40v5M167 40v5M168 40v6M168 49v1M169 38v7M170 39v4M171 0v7M171 14v18M171 33v1M171 35v1M171 39v1M172 16v1M176 33v10M177 37v3M178 29v8M178 40v1M179 3v7M179 23v3M179 28v8M179 45v2M186 25v4M186 32v3M187 27v1M187 29v4M188 25v3M188 34v1M220 9v1M221 2v1M222 0v6M224 2v1M224 17v1M227 2v1"/>
<path stroke="#94ff6b" d="M13 8v2M15 7v3M15 12v1M17 0v2M17 18v1M18 2v1M18 9v4M18 14v1M19 4v1M19 9v1M20 24v1M20 26v3M21 9v1M22 3v1M24 9v1M25 12v1M25 30v1M25 34v2M25 38v1M27 33v1M27 35v1M52 40v3M53 41v2M54 37v4M55 45v1M56 39v7M56 49v1M57 42v3M57 49v1M57 53v1M58 41v9M58 51v3M59 0v3M59 9v1M59 11v5M70 40v4M70 48v1M71 41v1M72 42v1M72 48v1M73 42v1M73 44v1M74 41v3M75 44v1M76 0v2M76 4v1M80 17v1M81 30v1M82 20v1M82 22v1M82 25v1M82 27v1M82 34v1M82 40v2M82 43v2M89 0v2M90 0v3M90 10v1M91 2v1M93 2v1M93 4v2M93 7v2M93 34v1M103 49v1M104 50v3M105 49v1M106 48v2M108 50v1M109 0v5M109 6v1M109 8v1M109 28v2M117 19v1M117 21v1M117 23v1M117 26v1M118 19v1M119 2v1M119 28v2M134 6v2M136 12v5M136 38v2M137 41v4M137 50v7M137 58v3M138 41v1M138 57v1M139 41v3M139 48v1M139 53v1M140 44v3M141 45v5M141 55v1M142 41v2M142 57v2M143 42v3M143 48v4M144 38v2M144 45v1M144 58v1M146 35v1M150 0v2M151 59v2M153 21v1M153 44v1M158 0v2M165 0v10M165 11v5M165 25v3M165 29v1M166 45v2M167 45v2M168 46v3M168 50v1M169 45v4M170 43v4M171 32v1M171 34v1M171 36v3M171 40v2M172 15v1M172 17v1M176 43v2M176 46v1M177 40v5M178 37v3M178 41v2M179 10v13M179 26v2M179 36v3M179 40v1M179 44v1M179 47v1M179 50v2M180 43v1M185 35v2M185 39v2M186 29v3M186 35v2M187 33v1M188 28v6M188 35v1M205 55v1M219 28v1M220 4v5M220 10v4M221 36v2M222 6v1M222 15v3M222 21v1M223 14v1M224 3v1M224 16v1M224 18v1M224 20v3M225 44v1"/>
<path stroke="#bdff42" d="M11 5v1M15 6v1M15 10v2M15 13v2M16 0v5M17 2v1M17 5v1M17 7v1M17 15v1M17 17v1M17 19v2M18 13v1M18 35v1M19 0v4M19 5v2M19 11v1M19 27v1M20 0v2M20 3v2M20 10v2M20 22v2M20 25v1M20 29v1M21 3v2M21 10v2M21 13v1M21 17v1M21 20v3M21 38v3M22 2v1M22 20v1M22 31v1M23 6v1M23 8v1M24 0v2M24 8v1M24 10v2M24 37v4M25 2v1M25 23v1M25 27v3M25 39v1M26 3v1M26 5v1M26 23v4M26 30v1M27 0v2M27 37v2M33 51v2M52 43v3M53 43v1M54 41v4M54 46v1M55 46v5M56 46v3M56 50v1M57 50v3M58 54v1M58 56v2M59 3v2M59 6v1M59 16v1M59 22v2M59 26v1M59 30v1M59 32v3M70 49v1M71 42v2M72 43v3M72 47v1M72 49v1M73 43v1M73 45v2M74 44v1M74 56v1M75 45v1M76 2v2M76 5v2M80 0v2M80 16v1M80 18v1M81 25v1M81 27v1M81 31v2M81 36v2M82 19v1M82 21v1M82 24v1M82 28v1M82 35v2M82 38v2M82 42v1M83 26v1M83 38v4M88 45v1M89 2v1M89 13v1M89 20v1M89 43v1M90 3v1M90 9v1M90 32v1M90 35v3M91 3v3M91 7v2M91 10v2M91 14v1M92 0v4M92 32v2M93 6v1M93 24v1M93 35v1M94 0v2M94 7v7M94 22v2M102 14v2M104 53v1M105 50v1M105 57v1M107 50v1M109 5v1M109 7v1M109 9v1M109 17v2M109 21v4M109 30v1M109 34v1M109 48v3M111 59v2M116 3v1M116 18v1M116 23v2M116 30v1M117 18v1M117 20v1M117 22v1M117 24v2M117 27v2M117 31v1M117 35v3M118 7v4M118 17v2M118 20v2M118 37v1M119 3v1M119 25v3M119 30v1M121 25v1M134 8v1M134 25v1M135 25v1M135 31v1M136 40v1M136 47v2M137 45v5M137 57v1M138 42v2M138 45v9M138 55v2M138 58v1M139 44v4M139 49v4M139 56v1M139 58v1M140 47v3M140 55v2M141 50v4M142 43v14M142 59v2M143 52v3M144 40v2M144 43v2M144 46v1M144 49v1M144 56v2M145 0v2M145 59v2M146 36v1M149 31v3M149 43v3M149 47v2M149 51v2M150 4v1M150 32v2M150 46v1M150 49v2M151 46v1M151 56v3M153 19v2M153 22v1M153 43v1M153 45v1M153 56v1M156 3v1M158 2v1M165 28v1M165 30v2M165 34v3M165 38v1M165 40v1M165 42v1M166 47v2M167 47v3M168 51v1M169 49v1M170 47v2M171 42v2M172 12v1M172 14v1M172 18v1M176 45v1M176 47v3M177 45v5M177 51v1M177 53v1M178 43v4M178 48v3M179 39v1M179 41v3M179 48v2M179 52v1M179 58v3M180 42v1M180 44v1M180 59v2M181 37v1M182 37v1M185 37v1M186 37v3M186 41v1M186 47v4M187 34v10M187 58v3M188 36v1M188 38v5M188 45v1M188 50v1M188 52v1M189 3v2M189 24v1M189 32v1M189 58v3M190 45v1M195 0v2M196 27v1M196 38v1M202 52v1M203 49v4M204 52v2M204 59v2M205 56v1M219 0v3M219 14v4M219 27v1M219 29v1M220 0v4M220 14v3M220 35v1M220 37v3M221 3v4M221 12v3M221 38v1M222 7v8M222 19v2M223 7v3M223 13v1M223 33v1M224 4v2M224 19v1M224 23v2M225 33v1M225 45v1M227 3v1"/>
<path stroke="#e5ff1a" d="M4 59v2M11 0v5M11 6v2M12 6v1M13 6v2M13 10v1M13 18v1M14 0v5M14 16v2M14 30v1M15 0v6M15 15v1M16 5v4M16 18v1M16 21v5M16 33v1M16 35v1M17 3v2M17 6v1M17 14v1M17 21v1M18 3v2M18 7v2M18 15v5M18 36v3M19 7v2M19 10v1M19 12v4M19 26v1M19 28v1M19 34v3M19 38v2M20 2v1M20 5v2M20 9v1M20 12v4M20 20v2M21 2v1M21 5v2M21 8v1M21 12v1M21 14v3M21 18v2M21 23v2M21 41v1M22 0v2M22 4v2M22 16v1M22 18v2M22 21v1M22 28v3M22 32v7M23 3v3M23 7v1M23 9v1M24 2v1M24 12v2M24 31v3M24 35v2M24 42v1M25 3v4M25 10v2M25 16v3M25 20v3M25 24v2M25 40v5M26 2v1M26 4v1M26 6v7M26 17v1M26 22v1M26 27v1M26 29v1M26 31v2M27 32v1M27 39v2M27 47v1M28 47v3M28 52v2M29 41v1M29 53v2M29 57v1M30 57v1M31 36v1M31 47v1M32 46v5M32 52v2M33 46v3M33 53v1M33 58v1M35 43v1M51 22v3M52 46v1M53 44v3M53 57v1M54 45v1M54 47v3M55 51v1M56 51v6M56 58v1M57 54v2M58 55v1M58 58v1M59 5v1M59 7v1M59 17v5M59 24v2M59 27v3M59 31v1M59 35v12M60 36v1M69 26v3M70 50v1M70 59v2M71 44v1M71 51v1M71 56v1M72 46v1M73 47v3M73 56v2M74 55v1M74 57v4M75 46v1M76 7v1M76 24v2M76 36v2M77 0v2M77 23v2M77 35v1M78 6v1M79 4v1M80 2v1M80 14v1M80 19v1M80 21v4M80 26v2M81 0v2M81 24v1M81 26v1M81 28v2M81 33v2M81 38v1M81 45v1M82 9v1M82 12v3M82 18v1M82 23v1M82 29v2M82 32v2M82 37v1M82 45v1M83 11v1M83 21v2M83 24v1M83 42v1M84 25v1M84 30v1M87 42v3M88 44v1M88 46v1M89 3v3M89 10v3M89 15v1M89 19v1M89 21v1M89 25v2M89 31v1M89 35v2M89 38v1M89 40v3M89 44v2M90 4v5M90 11v1M90 15v2M90 21v2M90 34v1M90 38v5M90 44v1M91 6v1M91 9v1M91 12v2M91 15v1M91 29v1M92 4v2M92 17v1M92 34v2M92 37v3M93 9v1M93 20v2M93 23v1M93 25v1M93 27v1M93 33v1M93 36v1M93 42v2M94 2v2M94 5v2M94 14v4M94 21v1M94 24v2M94 28v2M102 0v4M102 13v1M102 16v1M102 27v1M102 29v1M102 34v4M103 50v1M104 54v1M105 54v3M105 58v3M106 50v1M106 58v1M107 51v1M108 51v1M109 10v7M109 19v2M109 25v3M109 31v3M109 35v1M109 40v1M109 42v1M109 45v2M110 9v1M110 13v1M115 3v3M116 0v3M116 7v2M116 19v1M116 25v2M116 29v1M116 31v1M117 16v2M117 29v2M117 32v3M117 38v3M118 6v1M118 11v6M118 32v2M118 36v1M118 38v2M119 10v5M119 16v1M119 23v2M119 31v2M119 35v3M120 12v1M120 31v1M121 0v7M121 24v1M121 29v3M121 35v1M121 37v1M122 2v3M122 10v1M123 0v2M124 27v1M126 3v5M131 19v1M134 5v1M134 10v1M134 12v1M134 18v7M134 29v1M135 8v2M135 21v1M135 23v1M135 26v2M135 30v1M135 32v2M136 41v3M136 45v2M136 49v3M138 44v1M138 54v1M139 54v2M139 57v1M140 50v5M140 57v2M141 54v1M143 55v4M144 42v1M144 47v2M144 50v2M144 55v1M145 58v1M146 22v3M146 34v1M146 37v1M146 52v1M146 54v1M147 38v1M147 43v1M147 45v1M148 32v2M148 54v4M149 29v2M149 42v1M149 46v1M149 53v1M150 34v1M150 40v6M150 47v2M150 51v1M151 45v1M151 47v1M151 51v1M151 54v2M152 26v1M153 13v2M153 23v2M153 38v1M153 40v1M153 42v1M153 46v3M153 50v1M153 54v2M153 57v4M154 8v5M154 40v1M154 49v1M156 17v1M159 2v2M163 30v1M164 9v1M164 14v1M164 18v3M164 22v1M165 32v2M165 37v1M165 39v1M165 41v1M165 43v1M166 49v1M168 52v1M168 55v2M169 50v1M170 49v1M171 44v4M172 11v1M172 13v1M172 19v1M177 50v1M177 52v1M177 54v1M178 47v1M178 51v2M179 53v1M179 56v2M180 0v3M180 9v1M180 15v1M180 45v1M181 34v3M181 38v1M182 36v1M183 0v3M185 8v1M185 38v1M185 41v3M186 40v1M186 42v5M187 44v4M187 50v8M188 37v1M188 43v2M188 46v4M188 51v1M189 5v3M189 16v3M189 20v1M189 22v2M189 25v1M189 31v1M189 33v1M189 57v1M190 47v3M194 29v2M195 6v2M195 36v2M196 0v2M196 11v1M196 13v1M196 25v2M196 28v3M196 37v1M196 39v2M199 49v1M202 37v1M202 44v6M202 51v1M202 53v2M203 47v2M203 53v1M204 0v3M204 5v1M204 49v3M204 54v1M204 57v2M205 48v1M205 50v3M205 54v1M217 0v4M218 33v1M219 3v1M219 10v4M219 18v4M219 23v1M219 25v2M219 30v2M220 17v7M220 25v1M220 36v1M220 40v1M220 43v1M221 7v5M221 15v4M221 25v2M221 33v3M221 40v2M222 18v1M222 22v2M222 27v1M222 35v1M222 37v4M223 2v5M223 10v3M223 15v3M223 32v1M223 34v1M223 37v1M224 6v1M224 15v1M224 25v4M224 34v1M224 38v1M225 2v2M225 15v2M225 29v2M225 32v1M225 43v1M226 20v1M226 37v1M229 4v1"/>
<path stroke="#fff000" d="M3 6v1M3 10v1M8 0v2M11 8v2M11 17v1M12 0v2M12 5v1M12 8v1M12 12v1M13 2v1M13 4v2M13 11v4M13 16v2M13 19v1M14 5v2M14 10v1M14 14v2M14 18v2M14 28v2M14 31v1M14 34v1M15 16v2M16 9v9M16 19v2M16 26v7M16 34v1M17 8v2M17 11v1M17 13v1M17 22v1M17 29v1M17 31v1M18 5v2M18 20v3M18 24v1M18 29v2M18 33v2M18 39v1M19 16v2M19 19v5M19 25v1M19 29v5M19 37v1M19 40v3M20 7v2M20 16v4M20 30v2M20 35v3M21 0v2M21 7v1M21 25v6M21 35v3M21 42v1M22 6v4M22 14v2M22 17v1M22 22v6M22 39v1M22 44v1M23 0v3M23 10v4M23 19v3M23 24v1M23 26v4M23 31v1M23 33v2M24 3v5M24 14v3M24 25v6M24 34v1M24 41v1M24 43v2M25 7v3M25 13v3M25 19v1M25 26v1M25 45v3M26 0v2M26 13v1M26 16v1M26 19v1M26 21v1M26 28v1M26 33v1M26 49v1M27 2v2M27 20v2M27 28v2M27 31v1M27 41v2M27 44v3M27 48v2M27 51v3M28 41v2M28 46v1M28 50v2M28 54v1M29 38v1M29 40v1M29 42v2M29 55v2M29 58v1M30 49v2M30 55v2M30 58v1M31 37v1M31 59v2M32 45v1M32 54v2M32 59v2M33 39v1M33 45v1M33 49v2M33 56v2M33 59v2M34 23v1M35 42v1M35 44v1M35 46v1M37 22v3M42 0v3M42 5v1M44 13v3M44 59v2M51 21v1M51 25v2M51 29v1M52 47v2M53 47v3M53 58v3M54 50v2M54 53v2M54 57v1M55 52v4M56 57v1M57 56v3M59 47v3M60 35v1M68 45v3M69 14v3M69 24v2M71 45v2M71 49v2M71 55v1M71 57v1M72 50v3M72 59v2M73 50v2M73 54v2M73 58v3M74 45v4M74 54v1M75 47v2M76 8v3M76 14v1M76 23v1M76 26v3M76 35v1M76 38v2M76 44v1M77 2v1M77 25v2M77 28v1M78 7v2M78 18v3M78 31v1M78 38v1M78 45v2M79 3v1M79 5v2M79 27v1M79 35v2M79 43v3M80 3v8M80 12v2M80 15v1M80 20v1M80 25v1M80 28v4M80 38v2M80 42v3M81 2v4M81 9v2M81 12v1M81 16v1M81 20v4M81 35v1M81 39v3M81 44v1M82 0v9M82 10v2M82 15v2M82 31v1M82 46v1M83 0v2M83 3v1M83 7v2M83 12v9M83 23v1M83 25v1M83 27v2M83 37v1M83 43v1M83 45v1M84 23v2M84 26v4M85 12v2M85 40v1M85 42v1M86 34v1M87 40v2M88 17v4M88 32v3M88 47v1M89 6v2M89 9v1M89 14v1M89 16v3M89 22v3M89 27v4M89 32v3M89 37v1M89 39v1M90 12v3M90 17v4M90 23v9M90 33v1M90 43v1M90 45v1M91 16v1M91 18v5M91 28v1M91 30v2M91 33v1M91 35v3M91 41v3M92 6v1M92 13v4M92 18v2M92 21v3M92 27v1M92 29v3M92 36v1M92 40v4M92 45v1M93 10v4M93 18v2M93 22v1M93 26v1M93 28v2M93 31v2M93 37v5M93 44v4M94 4v1M94 18v3M94 26v2M94 30v2M94 37v1M94 45v1M102 4v2M102 17v1M102 20v3M102 24v3M102 28v1M102 30v1M102 33v1M102 38v3M102 44v1M103 59v2M104 55v2M104 58v1M105 51v1M105 53v1M106 51v1M106 56v2M109 36v4M109 41v1M109 43v2M109 47v1M109 51v3M109 59v2M110 7v2M110 10v3M110 14v1M111 0v3M111 7v1M111 10v1M112 0v2M115 0v3M115 32v1M116 4v3M116 9v7M116 20v3M116 28v1M116 32v5M116 40v1M117 4v1M117 6v2M117 10v1M117 14v2M117 41v1M118 0v4M118 5v1M118 22v2M118 27v2M118 30v2M118 34v2M118 40v1M118 42v1M119 4v2M119 9v1M119 15v1M119 17v2M119 21v2M119 33v2M119 38v1M120 3v2M120 6v3M120 10v2M120 13v6M120 30v1M120 32v5M120 38v1M121 7v1M121 9v1M121 14v1M121 20v1M121 23v1M121 26v3M121 33v2M121 36v1M121 38v1M121 41v1M122 0v2M122 5v1M122 8v2M122 38v1M122 40v1M123 2v1M123 8v3M123 14v1M123 20v5M123 27v2M124 12v1M124 25v2M126 2v1M127 7v2M128 9v3M131 18v1M131 21v2M133 6v2M133 11v2M134 4v1M134 9v1M134 11v1M134 13v2M134 26v3M134 30v2M135 0v5M135 7v1M135 10v3M135 15v3M135 20v1M135 22v1M135 24v1M135 28v2M135 34v3M135 41v1M136 44v1M136 52v2M136 58v3M139 59v2M143 59v2M144 52v3M145 2v1M145 14v1M145 45v2M145 48v3M146 21v1M146 25v1M146 27v1M146 33v1M146 38v2M146 49v2M146 53v1M147 8v1M147 10v1M147 39v1M147 41v2M147 47v1M147 54v1M148 0v2M148 36v1M148 58v3M149 28v1M149 38v1M149 54v1M150 5v1M150 24v2M150 30v2M150 35v1M150 37v3M150 59v2M151 23v1M151 29v4M151 44v1M151 48v3M151 52v2M152 27v5M152 33v6M152 40v1M152 53v1M152 56v3M153 12v1M153 15v1M153 17v2M153 25v3M153 31v2M153 37v1M153 39v1M153 41v1M153 49v1M153 51v3M154 4v1M154 7v1M154 36v1M154 38v2M154 41v1M154 48v1M154 51v2M154 59v2M155 15v1M155 18v1M156 4v1M156 9v3M156 13v4M156 18v1M156 25v1M157 11v2M158 3v1M159 0v2M160 0v2M162 26v1M163 10v1M163 26v1M163 31v1M164 8v1M164 10v4M164 15v2M164 23v3M164 28v1M165 44v2M166 50v1M167 59v2M168 53v2M168 57v4M169 51v1M170 50v1M171 48v2M171 53v1M172 0v3M172 10v1M172 20v1M173 24v5M175 19v3M175 31v4M175 37v1M177 55v4M178 53v1M179 54v2M180 3v3M180 10v1M180 13v2M180 16v1M180 28v4M180 33v1M180 35v2M180 41v1M180 46v4M180 58v1M181 4v1M181 6v2M181 19v1M181 25v3M181 33v1M181 39v1M182 3v1M182 31v1M182 34v2M182 38v1M183 3v2M183 34v3M183 38v2M184 13v3M184 34v2M185 7v1M185 33v2M185 44v1M186 51v1M187 48v2M188 53v4M189 0v3M189 8v4M189 14v2M189 19v1M189 21v1M189 26v1M189 28v3M189 34v1M189 54v3M190 42v3M190 46v1M190 50v1M192 34v2M193 8v1M193 11v2M194 7v3M194 28v1M195 2v1M195 5v1M195 8v1M195 11v1M195 19v1M195 33v1M195 35v1M195 38v1M196 2v3M196 12v1M196 14v2M196 21v2M196 31v1M196 36v1M196 41v1M196 43v1M196 50v1M197 25v1M197 51v2M197 54v3M198 39v2M198 48v8M198 57v2M199 45v1M199 47v2M199 50v2M199 55v3M200 56v3M201 48v5M202 34v3M202 38v2M202 43v1M202 50v1M202 55v4M203 46v1M203 54v3M204 3v2M204 45v4M204 55v2M205 47v1M205 49v1M205 53v1M205 57v4M206 45v7M207 11v1M207 15v1M208 6v1M209 29v1M209 59v2M216 17v1M216 24v1M217 4v3M217 8v4M217 13v1M217 20v1M218 14v4M219 4v1M219 9v1M219 22v1M219 24v1M219 32v2M220 24v1M220 26v4M220 32v3M220 42v1M220 44v1M221 19v3M221 23v2M221 27v6M221 39v1M221 42v1M222 24v3M222 28v2M222 31v4M222 36v1M222 41v2M222 44v3M223 0v2M223 18v5M223 27v5M223 35v2M223 38v1M224 7v8M224 29v3M224 33v1M224 35v3M224 39v1M224 41v1M225 0v2M225 4v1M225 14v1M225 17v1M225 27v2M225 31v1M225 34v1M225 40v1M225 42v1M226 0v4M226 14v6M226 21v2M226 36v1M227 4v1M227 39v1M228 26v1M228 32v2M229 0v2M229 3v1M229 5v1"/>
<path stroke="#ffc700" d="M0 3v1M0 18v1M1 3v1M1 18v1M2 14v1M2 22v1M2 33v1M3 4v2M3 7v1M3 9v1M4 5v1M5 11v1M7 30v1M7 59v2M8 2v1M9 31v3M10 0v2M10 8v1M10 12v4M11 15v2M11 18v2M12 2v3M12 7v1M12 9v3M12 13v1M12 40v2M13 0v2M13 3v1M13 15v1M13 20v3M14 7v3M14 11v3M14 20v8M14 32v2M14 35v1M15 18v1M15 27v2M17 10v1M17 12v1M17 23v6M17 30v1M17 32v6M17 44v1M17 59v2M18 23v1M18 25v2M18 31v2M18 40v4M19 18v1M19 24v1M20 32v3M20 38v1M21 31v4M21 43v1M22 10v4M22 40v1M22 42v2M22 45v1M23 14v1M23 16v3M23 22v2M23 25v1M23 30v1M23 32v1M23 35v5M24 17v2M24 21v4M24 45v2M25 48v1M26 14v2M26 18v1M26 20v1M26 34v7M26 48v1M27 5v1M27 9v3M27 13v2M27 18v2M27 22v6M27 30v1M27 43v1M27 50v1M28 37v4M28 43v3M29 36v2M29 39v1M29 44v3M29 52v1M29 59v2M30 18v2M30 22v2M30 29v2M30 34v6M30 41v1M30 43v3M30 48v1M30 51v1M30 53v1M30 59v2M31 0v3M31 32v1M31 34v2M31 38v3M31 42v5M31 48v2M31 51v3M31 57v2M32 0v2M32 27v2M32 37v8M32 51v1M32 56v3M33 11v1M33 25v4M33 34v2M33 38v1M33 40v5M33 54v2M34 20v3M34 40v1M34 44v3M35 45v1M36 43v1M37 21v1M37 25v3M38 0v3M39 10v2M39 14v2M41 0v5M42 3v1M42 6v1M42 59v2M43 37v2M43 59v2M44 46v5M44 57v1M46 20v1M47 5v2M48 27v1M48 39v1M51 16v1M51 18v1M51 27v1M51 30v1M51 33v2M52 49v1M53 50v1M53 53v1M53 55v2M54 52v1M54 55v2M54 58v1M55 56v5M56 59v2M57 59v2M58 59v2M59 50v1M60 34v1M60 37v2M60 40v2M62 41v3M63 59v2M66 0v2M66 49v1M67 0v2M67 43v1M68 17v2M68 36v1M68 44v1M68 48v1M68 59v2M69 0v2M69 12v1M69 17v4M69 29v1M69 38v1M69 41v3M69 48v2M70 51v2M70 58v1M71 47v2M71 52v3M71 58v1M72 53v6M73 52v2M74 49v5M75 49v1M76 11v3M76 15v8M76 29v6M76 40v4M76 45v3M77 3v1M77 7v1M77 10v1M77 22v1M77 27v1M77 29v2M77 36v3M77 41v2M77 59v2M78 5v1M78 9v4M78 17v1M78 22v1M78 25v1M78 27v1M78 30v1M78 32v1M78 34v4M78 39v1M78 43v2M79 0v3M79 7v2M79 11v16M79 28v7M79 37v6M79 46v3M80 11v1M80 35v3M80 40v2M80 45v1M81 6v3M81 11v1M81 13v3M81 17v3M81 42v2M81 46v1M82 17v1M82 47v1M83 2v1M83 4v3M83 9v2M83 29v3M83 35v2M83 44v1M84 4v1M84 14v1M84 18v1M84 20v3M84 31v2M84 36v3M84 42v2M85 11v1M85 31v1M85 34v1M85 39v1M85 41v1M85 43v3M86 29v1M86 32v2M86 35v3M87 35v3M87 45v1M88 9v1M88 21v2M88 25v3M88 31v1M88 35v9M88 48v1M89 8v1M89 46v1M90 46v1M91 17v1M91 23v5M91 32v1M91 34v1M91 38v3M91 44v4M91 49v1M92 7v6M92 20v1M92 24v3M92 28v1M92 44v1M92 46v1M93 14v4M93 30v1M93 48v1M94 32v5M94 38v2M94 41v4M94 46v2M102 6v1M102 8v5M102 18v2M102 23v1M102 31v2M102 41v3M102 45v1M104 57v1M104 59v2M105 52v1M106 52v4M106 59v2M107 52v5M107 59v2M108 52v1M108 54v1M108 59v2M110 2v3M110 6v1M110 15v1M111 3v4M111 8v2M111 11v2M111 15v1M111 17v3M112 2v1M112 16v1M112 27v2M113 5v6M113 12v1M113 32v1M114 13v1M114 25v1M114 33v1M115 6v2M115 9v2M115 22v3M115 28v1M115 33v1M116 16v2M116 27v1M116 37v2M116 41v2M116 44v3M117 0v4M117 5v1M117 8v2M117 11v3M118 4v1M118 24v3M118 29v1M118 41v1M118 43v1M119 6v3M119 19v2M119 39v2M119 43v1M120 0v3M120 5v1M120 9v1M120 19v2M120 23v7M120 37v1M120 39v2M120 42v1M121 8v1M121 10v1M121 13v1M121 15v1M121 17v3M121 21v2M121 32v1M121 39v2M121 42v1M121 48v1M122 7v1M122 11v2M122 34v4M122 39v1M122 41v2M123 3v2M123 6v2M123 13v1M123 15v2M123 25v2M123 29v1M123 35v4M123 40v1M124 9v1M124 11v1M124 15v3M124 20v1M124 22v1M124 28v1M124 31v3M125 17v1M125 21v3M125 29v1M125 33v3M125 38v1M126 0v2M126 8v3M126 17v1M127 5v2M127 9v2M127 12v1M128 5v2M128 12v1M128 33v3M129 6v2M130 5v1M131 12v4M131 20v1M131 23v4M132 2v2M132 26v1M133 5v1M133 8v3M133 13v1M134 0v4M134 15v3M134 32v2M134 37v1M135 5v2M135 13v2M135 18v2M135 37v4M136 54v4M138 59v2M140 59v2M145 3v1M145 12v1M145 21v2M145 24v9M145 37v3M145 44v1M145 47v1M145 51v7M146 16v1M146 18v1M146 26v1M146 28v5M146 40v3M146 45v4M146 51v1M146 55v2M147 0v3M147 23v3M147 33v5M147 40v1M147 44v1M147 46v1M147 48v2M147 53v1M147 55v1M148 2v6M148 17v4M148 30v2M148 34v2M148 37v2M148 40v5M148 46v1M148 48v1M148 52v2M149 6v1M149 11v3M149 19v1M149 25v3M149 34v2M149 37v1M149 40v2M149 55v3M150 6v1M150 8v1M150 21v3M150 26v1M150 28v2M150 36v1M150 52v1M150 57v2M151 0v3M151 24v2M151 27v2M151 33v1M151 43v1M152 9v4M152 25v1M152 32v1M152 39v1M152 41v2M152 49v4M152 54v2M152 59v2M153 10v2M153 16v1M153 28v3M153 33v4M154 0v4M154 5v2M154 13v2M154 26v3M154 31v1M154 33v1M154 35v1M154 37v1M154 47v1M154 50v1M154 53v1M155 0v3M155 4v1M155 6v1M155 8v1M155 12v1M155 14v1M155 16v2M155 19v1M155 28v1M156 5v1M156 12v1M156 19v6M156 39v1M157 2v1M157 4v1M157 8v3M157 13v1M157 16v1M158 4v4M158 13v1M159 4v1M159 17v1M159 21v4M160 2v3M160 14v1M160 29v1M161 3v3M162 7v1M162 11v1M162 13v1M162 25v1M162 27v2M163 2v1M163 4v1M163 6v1M163 9v1M163 11v1M163 18v1M163 20v2M163 23v1M163 25v1M163 28v2M163 32v1M164 0v8M164 17v1M164 21v1M164 26v2M164 29v2M164 33v1M165 46v3M167 50v1M170 51v1M171 50v3M172 3v2M172 8v2M172 21v5M172 38v3M173 20v1M173 22v1M173 30v1M175 4v4M175 17v2M175 22v2M175 25v3M175 30v1M175 35v1M175 38v2M176 50v1M177 59v2M178 54v4M180 8v1M180 11v2M180 17v1M180 22v1M180 24v4M180 32v1M180 34v1M180 37v4M180 50v1M181 5v1M181 8v1M181 11v1M181 17v2M181 20v5M181 28v2M181 32v1M181 40v1M181 42v1M182 2v1M182 4v3M182 32v2M182 39v1M183 5v4M183 33v1M183 37v1M183 40v1M183 59v2M184 7v3M184 11v2M184 16v1M184 19v1M184 29v1M184 33v1M184 36v1M184 38v3M185 6v1M185 9v1M185 25v1M185 45v1M186 52v1M188 57v4M189 12v2M189 27v1M189 35v4M189 40v1M189 42v3M189 47v7M190 6v3M190 12v1M190 22v3M190 34v1M190 37v3M190 41v1M190 51v3M191 24v4M191 35v1M191 37v1M192 33v1M192 36v1M192 40v2M193 7v1M193 9v2M193 13v2M193 28v4M193 34v1M193 38v3M193 45v1M193 47v1M193 49v1M194 5v2M194 27v1M194 34v1M194 36v1M194 39v2M195 3v2M195 9v2M195 12v5M195 18v1M195 20v2M195 31v2M195 34v1M195 39v3M196 5v6M196 16v2M196 19v2M196 23v2M196 32v4M196 42v1M196 44v2M196 49v1M197 23v2M197 27v3M197 45v6M197 53v1M197 57v4M198 8v2M198 38v1M198 41v1M198 43v5M198 56v1M199 42v3M199 46v1M199 52v3M199 58v3M200 30v2M200 37v4M200 50v6M200 59v2M201 42v6M201 53v3M202 30v4M202 42v1M202 59v2M203 37v9M203 57v2M204 6v2M204 20v1M204 44v1M205 42v5M206 52v1M207 9v2M207 12v3M207 16v3M208 3v1M208 5v1M208 7v5M209 27v2M211 0v2M215 19v1M216 0v2M216 3v1M216 5v2M216 10v2M216 16v1M216 25v1M216 34v1M216 40v1M217 7v1M217 12v1M217 14v1M217 19v1M217 21v1M218 5v9M218 18v2M218 21v2M218 27v6M218 34v1M218 48v1M219 5v4M219 34v2M220 30v2M220 41v1M220 45v1M221 22v1M221 43v1M222 30v1M222 43v1M222 48v1M223 23v4M223 39v1M224 32v1M224 40v1M225 5v1M225 7v7M225 18v9M225 35v5M225 41v1M225 49v1M226 4v4M226 23v3M226 27v3M226 32v1M226 35v1M227 12v1M227 25v4M227 37v2M227 40v1M227 45v1M228 10v1M228 27v5M229 2v1M229 6v1M229 22v1M229 25v2M229 37v1M230 0v2M230 13v1M230 15v3M230 30v1M231 0v2M231 13v1M231 15v3M231 30v1"/>
<path stroke="#ff9e00" d="M0 2v1M0 4v4M0 13v2M0 19v2M0 34v1M1 2v1M1 4v4M1 13v2M1 19v2M1 34v1M2 3v11M2 16v1M2 18v1M2 20v2M2 24v1M2 26v1M3 0v4M3 8v1M3 11v1M4 3v2M4 6v2M4 9v2M4 25v1M4 29v1M4 31v1M5 7v1M5 12v1M7 26v1M7 28v2M7 40v2M8 3v2M8 8v2M9 0v2M9 28v1M9 30v1M9 34v2M9 43v1M9 45v2M10 2v1M10 7v1M10 9v3M10 16v3M10 22v2M10 31v2M10 35v1M11 10v1M11 12v3M11 20v1M12 14v1M12 21v5M12 27v1M12 30v1M12 32v1M12 37v3M12 42v1M12 44v2M13 24v1M13 26v1M13 30v4M13 37v1M14 36v2M14 42v1M15 19v8M15 29v2M15 59v2M16 36v4M17 38v6M18 27v2M18 44v2M19 43v1M20 39v4M21 45v1M22 41v1M22 46v1M23 15v1M23 40v2M24 19v2M24 47v1M24 49v1M25 49v1M26 41v5M26 47v1M26 50v1M27 4v1M27 6v2M27 12v1M27 54v1M27 59v2M28 11v2M28 30v7M28 55v1M29 20v2M29 23v1M29 29v1M29 34v2M29 47v3M29 51v1M30 15v3M30 20v1M30 28v1M30 31v3M30 40v1M30 42v1M30 46v2M30 52v1M30 54v1M31 13v3M31 26v3M31 30v2M31 33v1M31 41v1M31 50v1M31 54v3M32 2v1M32 12v1M32 14v1M32 20v3M32 29v2M32 33v4M33 12v2M33 22v1M33 24v1M33 29v5M33 36v2M34 19v1M34 24v1M34 29v1M34 33v3M34 38v2M34 41v3M34 47v1M35 21v1M35 35v2M35 41v1M35 47v2M36 19v4M36 37v2M36 40v3M36 44v1M37 5v4M37 20v1M37 28v1M37 44v1M38 3v1M38 22v3M38 44v2M39 8v2M39 13v1M39 16v1M39 19v1M39 41v1M39 43v3M39 59v2M40 5v2M40 8v2M41 33v1M41 35v1M41 44v1M42 4v1M42 7v1M42 34v3M43 14v2M43 36v1M43 40v1M43 43v3M43 48v1M44 10v1M44 12v1M44 16v1M44 35v2M44 40v1M44 44v2M44 51v1M44 55v2M44 58v1M45 44v3M46 4v5M46 16v1M46 18v1M46 21v2M47 7v1M47 29v1M48 12v1M48 23v4M48 28v1M48 40v1M49 7v1M49 9v1M49 16v3M49 25v2M49 29v5M50 17v3M50 29v1M51 0v4M51 10v6M51 17v1M51 19v2M51 28v1M51 31v2M51 35v1M53 51v2M53 54v1M54 59v2M60 0v3M60 22v1M60 33v1M60 39v1M60 42v5M60 50v1M61 33v1M62 12v2M62 39v2M62 44v1M64 24v1M64 33v1M64 38v2M64 44v3M65 11v2M65 44v1M66 38v1M66 42v1M66 46v3M67 2v1M67 44v2M68 4v2M68 12v3M68 16v1M68 26v1M68 33v2M68 37v2M68 41v3M68 49v1M69 2v3M69 6v1M69 8v4M69 13v1M69 21v3M69 30v2M69 35v3M69 39v2M69 44v4M70 54v1M70 56v1M71 59v2M75 50v2M76 48v1M77 4v1M77 6v1M77 8v2M77 11v1M77 21v1M77 34v1M77 39v2M77 43v4M78 4v1M78 13v4M78 21v1M78 23v2M78 26v1M78 28v2M78 33v1M78 40v3M78 47v4M79 9v2M79 49v1M80 32v3M80 46v1M81 47v1M82 48v1M83 32v3M83 46v1M84 0v3M84 6v8M84 15v3M84 19v1M84 33v3M84 39v3M84 44v1M85 6v1M85 10v1M85 14v3M85 27v1M85 29v2M85 33v1M85 35v1M85 38v1M85 46v1M86 28v1M86 30v2M86 38v5M87 7v3M87 19v1M87 30v3M87 34v1M87 38v2M87 46v2M87 59v2M88 6v1M88 8v1M88 10v2M88 16v1M88 23v2M88 28v1M88 49v1M88 59v2M89 47v1M90 47v3M91 48v1M92 47v3M94 40v1M94 49v1M95 39v1M96 3v1M97 0v2M97 12v1M99 42v2M100 17v3M101 2v1M101 4v1M101 6v1M101 8v2M102 7v1M102 46v2M103 51v1M103 56v3M107 57v2M108 53v1M108 55v4M109 54v5M110 0v2M110 5v1M110 16v1M110 18v3M110 41v1M111 13v2M111 16v1M111 20v1M111 44v1M111 46v2M111 49v1M111 58v1M112 4v1M112 14v2M112 17v3M112 25v2M112 29v2M113 0v5M113 11v1M113 13v1M113 24v1M113 31v1M114 3v1M114 9v4M114 14v1M114 23v2M114 31v2M115 8v1M115 11v6M115 20v2M115 25v3M115 29v3M115 34v3M116 39v1M116 43v1M116 47v2M117 42v1M117 59v2M118 44v1M119 41v2M119 44v2M120 21v2M120 41v1M120 43v6M121 11v2M121 16v1M121 43v1M121 46v2M121 49v1M122 6v1M122 13v6M122 21v1M122 29v2M122 33v1M122 43v3M123 5v1M123 11v2M123 18v2M123 30v2M123 33v2M123 39v1M123 42v1M124 4v2M124 7v2M124 10v1M124 13v2M124 18v2M124 21v1M124 23v2M124 29v1M124 34v1M125 13v1M125 15v2M125 18v1M125 24v1M125 28v1M125 30v1M125 36v2M125 39v1M126 11v3M126 16v1M126 18v1M127 3v2M127 11v1M127 13v2M127 27v4M127 32v1M128 7v2M128 13v1M128 31v1M129 8v6M129 20v2M129 24v3M129 28v2M129 39v1M130 4v1M130 6v1M130 8v1M130 20v1M130 25v3M130 30v2M131 7v2M131 11v1M131 17v1M131 27v3M132 0v2M132 4v1M132 9v1M132 27v1M133 14v14M133 31v7M134 34v3M134 38v2M134 42v2M135 42v4M145 4v4M145 10v2M145 13v1M145 15v4M145 20v1M145 23v1M145 33v4M145 40v4M146 8v1M146 14v2M146 17v1M146 19v2M146 43v2M146 57v2M147 6v2M147 9v1M147 11v2M147 18v5M147 26v3M147 31v2M147 50v3M147 56v3M148 9v5M148 21v2M148 24v6M148 39v1M148 45v1M148 47v1M148 49v3M149 4v2M149 7v1M149 14v5M149 20v5M149 36v1M149 39v1M149 58v3M150 7v1M150 15v1M150 20v1M150 27v1M150 53v4M151 17v3M151 21v2M151 26v1M151 34v9M152 0v9M152 13v1M152 24v1M152 43v6M153 0v10M154 15v3M154 19v1M154 25v1M154 29v2M154 32v1M154 34v1M154 42v5M154 54v5M155 3v1M155 5v1M155 7v1M155 9v3M155 13v1M155 20v4M155 27v1M155 29v1M156 6v3M156 38v1M157 3v1M157 5v3M157 14v2M157 17v1M158 8v5M158 14v1M158 20v2M159 16v1M159 18v3M159 25v1M159 39v3M160 5v1M160 10v1M160 12v1M160 15v2M160 18v2M160 21v1M160 27v2M160 30v2M160 33v1M160 36v2M161 2v1M161 6v1M161 32v4M161 48v3M162 0v2M162 6v1M162 8v2M162 12v1M162 14v2M162 29v2M163 0v2M163 3v1M163 5v1M163 7v2M163 12v2M163 16v2M163 19v1M163 22v1M163 24v1M163 27v1M163 33v1M164 31v2M164 35v2M164 40v1M165 49v1M166 51v1M167 58v1M169 52v9M170 52v7M171 54v2M172 5v3M172 26v3M172 34v1M172 37v1M172 44v2M173 4v1M173 12v3M173 16v2M173 19v1M173 21v1M173 23v1M173 29v1M173 31v1M173 38v1M173 41v2M174 4v5M174 12v3M174 24v1M174 28v1M175 2v2M175 8v2M175 14v3M175 24v1M175 28v2M175 36v1M175 41v1M178 58v3M180 6v2M180 18v1M180 20v2M180 23v1M180 51v7M181 3v1M181 9v2M181 12v1M181 16v1M181 30v2M181 41v1M181 43v3M182 0v2M182 7v1M182 9v1M182 15v1M182 29v2M182 40v6M183 9v1M183 13v1M183 30v3M183 41v3M184 5v2M184 10v1M184 17v2M184 27v2M184 30v3M184 37v1M184 41v3M185 0v3M185 4v2M185 10v2M185 14v1M185 24v1M185 27v6M185 46v1M186 55v1M189 39v1M189 41v1M189 45v2M190 0v6M190 9v3M190 13v2M190 16v1M190 18v4M190 25v5M190 33v1M190 35v2M190 40v1M190 59v2M191 5v2M191 10v1M191 22v2M191 28v1M191 30v1M191 32v2M191 36v1M191 45v3M192 11v1M192 32v1M192 37v1M192 39v1M192 42v1M193 5v2M193 15v1M193 21v1M193 27v1M193 32v1M193 35v3M193 44v1M193 50v1M194 0v3M194 4v1M194 10v2M194 13v3M194 21v1M194 24v3M194 31v3M194 35v1M194 37v2M195 17v1M195 22v9M195 42v4M196 18v1M196 46v3M196 51v1M196 53v4M197 21v2M197 26v1M197 31v1M197 35v3M197 41v4M198 5v1M198 10v1M198 42v1M198 59v2M199 0v6M199 8v4M199 37v1M199 40v2M200 17v1M200 29v1M200 32v2M200 35v2M200 41v9M201 17v2M201 41v1M201 56v3M202 0v2M202 40v2M203 28v2M203 59v2M204 8v6M204 19v1M204 21v1M204 43v1M205 38v4M206 0v2M206 44v1M206 53v1M206 55v1M206 59v2M207 7v2M207 19v6M207 44v1M207 46v2M208 2v1M208 4v1M208 12v6M208 21v1M209 0v3M209 26v1M209 30v1M210 16v3M210 59v2M212 0v2M213 59v2M215 7v1M215 17v2M215 20v1M215 38v3M215 42v3M216 2v1M216 4v1M216 7v3M216 12v2M216 15v1M216 18v1M216 22v2M216 26v3M216 33v1M216 35v2M216 38v2M217 15v4M217 22v1M217 25v1M217 27v2M218 0v5M218 20v1M218 23v1M218 25v2M218 35v1M218 41v3M218 49v1M219 36v2M220 46v2M221 44v4M222 47v1M222 49v2M223 41v1M223 43v11M223 59v2M224 42v1M224 44v4M224 49v1M225 6v1M225 46v3M225 50v1M226 8v6M226 26v1M226 30v2M226 33v2M226 38v2M227 5v1M227 9v3M227 13v1M227 29v1M227 36v1M227 44v1M227 46v2M228 4v6M228 11v3M228 25v1M228 34v1M229 7v5M229 14v2M229 20v2M229 23v2M229 27v2M229 33v1M229 38v3M229 46v2M230 2v2M230 5v1M230 9v4M230 14v1M230 18v1M230 28v2M230 31v4M230 47v1M231 2v2M231 5v1M231 9v4M231 14v1M231 18v1M231 28v2M231 31v4M231 47v1"/>
<path stroke="#ff7500" d="M0 0v2M0 8v1M0 15v3M0 21v1M0 29v2M0 32v2M0 35v2M0 40v3M0 45v3M1 0v2M1 8v1M1 15v3M1 21v1M1 29v2M1 32v2M1 35v2M1 40v3M1 45v3M2 2v1M2 15v1M2 17v1M2 19v1M2 23v1M2 25v1M2 27v4M2 32v1M2 34v1M2 37v2M3 12v12M3 39v1M4 0v3M4 8v1M4 11v2M4 14v1M4 16v3M4 22v3M4 26v2M4 30v1M4 32v2M4 42v1M4 49v2M4 58v1M5 6v1M5 8v3M5 13v2M5 17v12M5 34v1M5 44v1M6 17v1M7 4v3M7 27v1M7 31v2M7 35v1M7 37v3M8 6v2M8 10v2M8 26v1M8 30v5M8 39v2M8 46v4M8 59v2M9 2v3M9 16v1M9 29v1M9 36v1M9 38v1M9 42v1M9 44v1M9 47v1M9 49v1M10 3v4M10 19v3M10 24v2M10 29v2M10 33v2M10 46v1M11 11v1M11 21v3M11 31v2M11 34v2M11 39v4M11 49v1M11 59v2M12 15v6M12 26v1M12 28v2M12 31v1M12 33v4M12 43v1M12 46v1M13 23v1M13 25v1M13 27v3M13 34v3M13 38v2M13 41v3M13 47v2M13 59v2M14 38v4M14 43v2M14 59v2M15 31v6M15 38v10M16 40v6M16 47v1M17 45v1M18 46v1M19 44v1M20 43v2M20 47v1M21 44v1M22 47v3M23 42v5M24 48v1M25 50v1M26 46v1M26 51v1M27 8v1M27 15v1M27 17v1M27 55v1M27 57v2M28 0v2M28 10v1M28 15v1M28 27v3M28 56v1M28 59v2M29 6v1M29 10v3M29 19v1M29 22v1M29 24v5M29 30v4M29 50v1M30 0v2M30 14v1M30 21v1M30 24v1M30 26v2M31 3v2M31 11v2M31 19v4M31 24v2M31 29v1M32 3v2M32 7v3M32 11v1M32 13v1M32 17v1M32 19v1M32 23v4M32 31v2M33 9v2M33 20v2M33 23v1M34 10v2M34 17v2M34 25v1M34 27v2M34 30v3M34 36v2M34 48v4M34 59v2M35 7v1M35 14v5M35 20v1M35 22v1M35 34v1M35 37v4M35 49v2M36 0v2M36 18v1M36 35v2M36 39v1M36 45v2M37 0v2M37 9v1M37 36v1M37 42v2M37 45v3M38 4v2M38 18v1M38 20v2M38 25v3M38 37v1M38 41v3M39 6v2M39 12v1M39 17v2M39 20v3M39 26v2M39 30v1M39 42v1M39 46v2M40 7v1M40 10v1M40 26v1M40 31v2M40 37v1M40 39v1M41 5v1M41 31v2M41 34v1M41 45v1M42 8v1M42 13v1M42 24v1M42 26v1M42 31v3M42 37v3M42 41v5M42 49v2M43 6v2M43 13v1M43 16v4M43 30v1M43 39v1M43 41v2M43 46v2M44 6v1M44 8v2M44 11v1M44 17v3M44 21v1M44 23v12M44 37v3M44 41v3M44 52v3M45 14v1M45 42v2M45 47v3M46 0v4M46 9v2M46 14v2M46 17v1M46 19v1M46 23v3M46 30v1M46 32v1M46 34v1M47 2v3M47 8v1M47 12v3M47 21v1M47 26v3M47 30v3M47 35v3M47 49v2M48 11v1M48 13v2M48 17v3M48 21v1M48 29v1M48 37v2M48 41v1M49 6v1M49 8v1M49 10v2M49 19v6M49 28v1M49 34v1M49 36v2M50 3v3M50 10v1M50 12v1M50 14v1M50 16v1M50 20v3M50 27v2M50 30v1M50 35v3M51 4v6M51 36v6M52 50v1M52 59v2M59 52v3M60 3v3M60 15v2M60 18v3M60 23v1M60 29v4M60 47v3M61 3v4M61 9v1M61 35v3M61 40v3M62 14v1M62 27v1M62 31v1M62 36v3M62 45v5M63 3v1M63 25v4M63 33v1M63 44v2M64 0v3M64 4v1M64 7v2M64 19v1M64 23v1M64 25v1M64 35v3M64 40v2M64 43v1M64 47v1M65 10v1M65 13v1M65 18v1M65 42v2M65 45v2M65 48v1M66 2v1M66 15v2M66 36v1M66 40v2M66 43v3M66 50v1M67 3v1M67 41v2M67 46v2M68 0v4M68 6v2M68 9v3M68 15v1M68 19v6M68 29v4M68 35v1M68 39v2M69 5v1M69 7v1M69 32v3M69 50v1M69 59v2M70 53v1M70 55v1M70 57v1M76 49v1M76 59v2M77 5v1M77 12v1M77 17v2M77 20v1M77 31v1M77 33v1M77 47v2M77 55v1M77 58v1M78 0v4M79 50v1M80 47v2M82 49v1M83 47v3M84 3v1M84 5v1M84 45v3M85 0v2M85 8v1M85 17v1M85 21v4M85 28v1M85 32v1M85 36v2M85 47v1M85 59v2M86 26v2M86 43v6M87 6v1M87 10v2M87 13v2M87 20v2M87 23v2M87 29v1M87 33v1M87 48v1M88 4v2M88 7v1M88 12v4M88 29v2M88 50v1M89 48v2M93 49v1M94 48v1M94 59v2M95 2v4M95 7v2M95 15v1M95 20v4M95 29v2M95 40v3M95 59v2M96 0v3M96 4v2M96 16v1M97 2v1M97 9v3M97 13v4M97 43v2M98 23v2M99 41v1M99 47v3M99 59v2M100 11v1M100 16v1M100 20v2M100 48v2M101 0v2M101 3v1M101 5v1M101 7v1M101 10v1M101 25v1M102 48v2M102 59v2M103 53v3M110 17v1M110 21v7M110 48v2M111 21v3M111 42v2M111 45v1M111 48v1M111 57v1M112 3v1M112 5v5M112 11v3M112 20v5M112 31v3M112 40v1M113 14v5M113 20v1M113 22v2M113 25v6M113 33v1M113 49v1M114 0v3M114 4v5M114 15v8M114 26v5M114 34v1M114 48v2M114 59v2M115 17v3M115 37v4M115 43v1M115 49v1M117 43v6M118 45v3M118 49v1M118 59v2M119 46v4M120 59v2M121 44v2M122 19v2M122 22v1M122 27v2M122 31v2M122 46v2M123 17v1M123 32v1M123 41v1M124 0v4M124 6v1M124 30v1M124 35v2M124 38v1M125 5v3M125 9v4M125 14v1M125 19v2M125 25v3M125 31v2M126 14v2M126 19v1M126 24v6M126 32v1M126 35v2M127 0v3M127 15v2M127 21v6M127 31v1M127 33v2M128 3v2M128 14v4M128 21v1M128 23v8M128 32v1M128 36v1M128 59v2M129 4v2M129 14v3M129 18v2M129 22v2M129 27v1M129 30v3M129 37v2M129 40v1M130 2v2M130 7v1M130 9v2M130 15v5M130 21v1M130 24v1M130 28v2M130 32v2M131 3v4M131 9v2M131 16v1M131 30v4M131 59v2M132 5v4M132 10v1M132 13v2M132 19v4M132 25v1M132 28v2M132 32v3M133 0v5M133 28v3M133 38v1M133 40v3M134 40v2M134 44v4M135 46v4M145 8v2M145 19v1M146 0v8M146 9v5M146 59v2M147 3v3M147 13v2M147 16v2M147 29v2M147 59v2M148 8v1M148 14v3M148 23v1M149 0v4M149 8v3M150 9v3M150 16v4M151 3v5M151 11v1M151 13v1M151 15v2M151 20v1M152 14v5M152 22v2M154 18v1M154 20v2M154 23v2M155 24v3M155 30v1M155 38v1M156 26v2M156 40v1M156 45v1M157 0v2M157 18v5M157 24v1M158 15v2M158 19v1M158 22v2M158 36v2M159 5v3M159 11v1M159 15v1M159 26v2M159 32v2M159 43v3M160 6v1M160 8v2M160 11v1M160 13v1M160 17v1M160 20v1M160 22v5M160 32v1M160 34v2M160 38v1M160 40v2M161 0v2M161 7v8M161 17v1M161 20v12M161 36v1M162 2v4M162 10v1M162 16v9M162 31v1M163 14v2M163 34v1M163 48v1M164 34v1M164 37v3M164 41v2M164 59v2M165 50v1M167 51v1M167 54v1M167 56v2M170 59v2M171 56v1M172 29v2M172 32v2M172 35v2M172 41v1M172 43v1M173 0v4M173 5v2M173 8v1M173 11v1M173 15v1M173 18v1M173 32v4M173 40v1M174 0v2M174 15v1M174 18v3M174 22v2M174 25v3M175 0v2M175 10v4M175 40v1M175 42v5M176 51v1M180 19v1M181 2v1M181 13v3M181 46v3M181 59v2M182 8v1M182 10v5M182 16v2M182 19v1M182 21v1M182 23v3M182 27v2M182 46v3M183 10v3M183 14v8M183 25v5M183 44v3M184 0v5M184 20v2M184 25v2M184 44v3M184 59v2M185 3v1M185 12v2M185 15v7M185 23v1M185 26v1M185 47v1M186 53v2M186 56v1M190 15v1M190 17v1M190 30v3M190 54v2M191 0v5M191 7v3M191 11v5M191 17v5M191 29v1M191 31v1M191 34v1M191 38v2M191 41v4M191 48v2M192 4v7M192 12v2M192 25v7M192 38v1M192 43v7M193 0v5M193 16v1M193 19v2M193 22v5M193 33v1M193 41v3M193 46v1M193 48v1M193 51v1M194 3v1M194 12v1M194 16v5M194 22v2M194 41v2M194 44v5M194 59v2M195 46v3M195 59v2M196 52v1M196 57v1M197 2v1M197 14v3M197 18v1M197 30v1M197 32v3M197 38v3M198 4v1M198 6v2M198 11v2M198 29v1M198 33v5M199 6v2M199 12v2M199 15v3M199 23v1M199 25v3M199 31v3M199 35v2M199 38v2M200 18v1M200 27v2M200 34v1M201 0v2M201 19v2M201 28v3M201 32v1M201 37v4M201 59v2M202 2v2M202 9v1M202 11v1M202 29v1M203 26v2M203 32v5M204 17v2M204 32v5M204 42v1M205 9v1M205 15v3M205 21v2M205 34v4M206 2v1M206 8v1M206 12v3M206 18v2M206 21v1M206 26v1M206 28v2M206 40v1M206 42v2M206 54v1M206 56v3M207 0v7M207 25v7M207 33v3M207 43v1M207 45v1M207 48v1M208 0v2M208 18v3M208 22v1M208 38v1M209 3v1M209 6v6M209 25v1M209 58v1M210 14v2M210 19v1M210 21v1M210 40v2M211 2v1M211 4v2M211 7v1M211 20v1M211 59v2M212 2v2M212 7v5M212 17v1M212 24v1M213 0v4M213 41v1M214 10v1M214 14v1M214 59v2M215 3v4M215 8v3M215 16v1M215 21v2M215 37v1M215 41v1M215 45v2M216 14v1M216 19v3M216 32v1M216 37v1M216 41v1M216 45v1M217 23v2M217 26v1M217 29v2M218 24v1M218 38v3M218 44v1M218 47v1M218 59v2M219 39v1M219 41v1M219 45v1M219 47v1M219 59v2M221 48v3M222 51v1M222 53v4M222 59v2M223 40v1M223 42v1M223 54v4M224 43v1M224 48v1M224 50v1M224 52v3M225 51v1M225 53v3M225 59v2M226 40v2M226 43v1M227 6v3M227 14v1M227 17v5M227 23v2M227 30v4M227 35v1M227 41v3M227 48v1M227 59v2M228 2v2M228 14v3M228 19v3M228 24v1M228 35v7M228 45v1M228 59v2M229 12v2M229 16v4M229 29v4M229 34v3M229 41v1M229 44v2M229 48v1M230 4v1M230 6v3M230 19v4M230 27v1M230 35v2M230 38v1M230 46v1M230 48v1M231 4v1M231 6v3M231 19v4M231 27v1M231 35v2M231 38v1M231 46v1M231 48v1"/>
<path stroke="#ff4c00" d="M0 9v4M0 22v2M0 25v4M0 31v1M0 37v2M0 43v2M0 48v3M0 59v2M1 9v4M1 22v2M1 25v4M1 31v1M1 37v2M1 43v2M1 48v3M1 59v2M2 0v2M2 31v1M2 35v2M3 24v6M3 34v5M3 40v1M4 13v1M4 15v1M4 19v3M4 28v1M4 35v3M4 41v1M4 43v2M4 48v1M5 0v6M5 15v2M5 29v3M5 33v1M5 35v1M5 43v1M5 45v3M6 6v11M6 18v4M6 24v10M6 40v1M7 0v4M7 7v8M7 22v4M7 33v2M7 36v1M7 42v1M7 58v1M8 5v1M8 12v9M8 24v2M8 27v3M8 35v1M8 37v2M8 41v1M8 45v1M8 50v1M9 5v6M9 12v4M9 17v2M9 24v4M9 37v1M9 39v3M9 48v1M10 26v3M10 36v4M10 45v1M10 47v3M11 24v7M11 33v1M11 36v3M11 45v1M12 59v2M13 40v1M13 44v1M13 46v1M13 49v1M14 45v2M14 48v1M15 37v1M16 46v1M16 49v1M16 59v2M17 46v2M18 47v1M18 49v1M18 59v2M19 45v4M20 45v2M20 48v2M21 46v4M23 47v3M24 50v1M26 52v1M26 59v2M27 16v1M27 56v1M28 2v8M28 13v2M28 22v5M28 57v2M29 3v3M29 7v3M29 13v1M29 16v3M30 2v2M30 12v2M30 25v1M31 5v6M31 16v3M31 23v1M32 5v2M32 10v1M32 15v2M32 18v1M33 0v3M33 7v2M33 14v6M34 5v2M34 9v1M34 12v5M34 26v1M34 52v2M34 55v4M35 2v5M35 8v2M35 11v3M35 19v1M35 23v3M35 29v5M36 2v2M36 5v7M36 14v4M36 23v6M36 33v2M36 47v2M37 2v3M37 10v6M37 17v3M37 29v1M37 34v2M37 37v5M37 48v2M38 6v6M38 13v5M38 19v1M38 28v2M38 31v2M38 36v1M38 38v3M38 46v2M39 0v6M39 23v3M39 28v2M39 31v4M39 36v5M39 48v1M40 0v2M40 4v1M40 11v6M40 22v4M40 27v2M40 30v1M40 35v2M40 38v1M40 40v7M40 59v2M41 6v6M41 14v4M41 20v1M41 27v4M41 36v5M41 42v2M41 46v1M41 48v2M41 59v2M42 9v4M42 14v1M42 23v1M42 25v1M42 27v4M42 40v1M42 46v1M42 48v1M43 2v4M43 8v5M43 20v4M43 25v5M43 31v3M43 35v1M43 49v1M43 58v1M44 5v1M44 7v1M44 20v1M44 22v1M45 0v14M45 15v8M45 25v3M45 38v1M45 59v2M46 11v3M46 27v3M46 31v1M46 33v1M46 35v2M46 45v3M47 0v2M47 9v3M47 15v1M47 19v2M47 24v2M47 33v2M47 38v1M47 48v1M47 59v2M48 0v3M48 4v1M48 6v5M48 15v2M48 20v1M48 22v1M48 31v6M49 4v2M49 12v2M49 15v1M49 27v1M49 35v1M49 39v2M49 44v1M50 0v3M50 6v4M50 11v1M50 13v1M50 15v1M50 23v4M50 31v4M50 39v1M51 42v5M51 49v1M52 51v6M59 51v1M59 55v6M60 6v4M60 12v3M60 17v1M60 21v1M60 24v5M61 2v1M61 7v2M61 10v2M61 16v1M61 30v3M61 34v1M61 38v2M61 43v7M62 4v1M62 11v1M62 15v2M62 20v1M62 24v3M62 28v3M62 32v4M62 59v2M63 2v1M63 4v4M63 20v5M63 31v2M63 34v7M63 43v1M63 46v5M63 58v1M64 3v1M64 5v2M64 9v1M64 12v1M64 18v1M64 20v3M64 26v4M64 31v2M64 34v1M64 42v1M64 48v2M65 8v2M65 17v1M65 32v1M65 35v7M65 47v1M65 49v1M66 17v2M66 20v2M66 32v1M66 34v2M66 37v1M66 39v1M66 59v2M67 4v1M67 17v1M67 24v1M67 39v2M67 48v2M67 59v2M68 8v1M68 25v1M68 28v1M68 50v1M75 52v9M76 50v1M77 13v4M77 19v1M77 32v1M77 49v1M77 56v2M80 49v1M80 59v2M81 48v2M84 48v1M85 2v4M85 7v1M85 9v1M85 18v3M85 25v2M85 48v1M86 2v7M86 13v9M86 25v1M86 49v1M87 0v4M87 5v1M87 12v1M87 15v4M87 22v1M87 25v4M87 49v1M90 50v1M91 50v1M92 50v1M92 59v2M93 50v1M94 50v2M95 0v2M95 6v1M95 9v2M95 12v3M95 16v2M95 24v2M95 28v1M95 31v1M95 36v3M95 43v2M96 6v1M96 10v1M96 15v1M96 17v1M96 21v7M96 36v1M97 17v2M97 39v2M97 42v1M97 45v2M98 11v1M98 17v2M98 21v1M98 47v4M98 59v2M99 0v5M99 31v8M99 40v1M99 44v3M99 50v1M100 12v2M100 15v1M100 22v1M100 44v4M100 50v1M100 59v2M101 11v3M101 23v1M101 26v1M101 36v1M101 48v2M101 59v2M102 50v1M102 52v2M102 58v1M103 52v1M110 28v1M110 30v1M110 34v7M110 42v6M110 50v1M111 24v5M111 30v1M111 50v1M112 10v1M112 34v6M112 41v1M112 48v2M113 19v1M113 21v1M113 34v1M113 47v2M113 50v1M114 35v7M114 47v1M115 41v2M115 44v5M116 49v2M116 59v2M117 49v1M118 48v1M119 50v1M120 49v1M122 23v4M123 43v2M123 59v2M124 37v1M124 39v1M125 0v5M125 8v1M125 40v1M125 59v2M126 20v2M126 23v1M126 30v2M126 33v2M126 37v1M127 17v4M127 35v4M127 59v2M128 0v3M128 18v3M128 22v1M128 37v1M129 2v2M129 17v1M129 33v4M129 41v1M130 0v2M130 11v4M130 22v2M130 34v2M131 0v3M131 34v2M132 12v1M132 15v1M132 17v2M132 23v2M132 30v2M132 35v6M133 39v1M133 43v2M134 48v1M135 50v1M135 59v2M147 15v1M150 12v3M151 8v3M151 12v1M151 14v1M152 19v3M154 22v1M155 31v7M155 39v3M156 28v6M156 35v1M156 37v1M156 41v1M156 43v2M156 46v3M156 50v1M157 23v1M157 25v4M157 32v1M158 17v2M158 24v4M158 33v3M159 8v3M159 12v3M159 28v2M159 38v1M159 42v1M160 7v1M160 39v1M160 42v2M161 15v2M161 18v2M161 37v1M161 47v1M161 51v1M162 32v2M162 43v1M162 59v2M163 35v4M163 43v1M163 47v1M163 49v1M164 43v4M165 51v1M166 52v1M166 59v2M167 55v1M171 57v1M172 31v1M172 42v1M172 46v1M172 59v2M173 7v1M173 9v2M173 36v2M173 39v1M173 43v1M174 2v2M174 9v3M174 16v2M174 21v1M174 29v2M174 32v9M175 59v2M176 59v2M181 0v2M181 49v1M181 58v1M182 18v1M182 20v1M182 22v1M182 26v1M182 49v2M183 22v1M183 24v1M183 47v2M183 58v1M184 22v2M184 47v3M185 22v1M185 48v1M186 57v1M186 59v2M190 57v2M191 16v1M191 40v1M192 2v2M192 14v3M192 18v7M192 50v1M193 17v2M194 43v1M194 49v1M195 49v1M196 58v3M197 0v2M197 3v2M197 8v6M197 17v1M197 20v1M198 0v2M198 3v1M198 13v3M198 25v1M198 27v2M198 30v3M199 14v1M199 18v2M199 24v1M199 28v3M199 34v1M200 6v4M200 13v4M200 19v2M201 2v4M201 15v2M201 22v1M201 24v4M201 31v1M201 33v4M202 4v1M202 6v3M202 10v1M202 12v6M202 24v1M202 28v1M203 0v5M203 7v3M203 22v3M203 30v2M204 14v3M204 22v1M204 30v2M204 37v5M205 0v2M205 3v3M205 7v2M205 10v2M205 18v1M205 20v1M205 23v1M205 30v4M206 3v5M206 10v2M206 15v3M206 20v1M206 22v4M206 27v1M206 30v1M206 34v6M206 41v1M207 32v1M207 42v1M208 33v2M208 37v1M208 59v2M209 4v2M209 12v3M209 16v3M209 21v2M209 24v1M209 31v1M209 42v3M209 57v1M210 2v5M210 11v3M210 20v1M210 22v1M210 38v2M210 42v1M211 3v1M211 6v1M211 8v2M211 14v1M211 18v2M211 21v4M211 39v1M211 41v1M211 45v4M212 4v3M212 12v1M212 16v1M212 18v4M212 25v1M212 41v1M212 59v2M213 4v2M213 7v3M213 16v1M213 18v1M213 28v1M213 32v3M213 40v1M214 9v1M214 11v3M214 15v3M214 27v1M215 2v1M215 11v2M215 14v2M215 24v3M215 29v4M215 35v2M215 47v1M216 42v2M217 31v3M217 35v1M217 37v1M217 41v1M217 47v3M218 36v2M218 45v2M218 50v2M219 38v1M219 40v1M219 42v3M219 46v1M219 48v2M220 48v1M221 51v1M222 52v1M222 57v2M223 58v1M224 51v1M225 52v1M225 56v2M226 42v1M226 44v2M226 47v1M226 49v1M227 15v2M227 22v1M227 34v1M227 49v1M228 0v2M228 17v2M228 22v2M228 43v2M228 46v1M229 42v2M229 49v1M229 59v2M230 23v4M230 37v1M230 43v1M230 45v1M230 49v1M231 23v4M231 37v1M231 43v1M231 45v1M231 49v1"/>
<path stroke="#ff2400" d="M0 24v1M0 39v1M1 24v1M1 39v1M2 39v4M2 46v1M2 48v2M3 30v4M3 41v3M3 48v3M4 34v1M4 38v3M4 45v3M4 57v1M5 32v1M5 36v1M5 39v1M5 41v2M5 48v2M6 3v3M6 22v2M6 34v6M6 41v8M6 59v2M7 15v2M7 18v1M7 20v2M7 43v1M7 45v1M7 49v1M7 57v1M8 21v3M8 36v1M8 42v3M9 11v1M9 19v5M9 59v2M10 40v5M10 59v2M11 43v2M11 46v3M11 50v1M11 57v2M12 47v4M13 45v1M14 47v1M14 49v1M15 48v1M15 58v1M16 48v1M16 50v2M17 48v2M17 58v1M18 48v1M19 49v1M20 50v1M21 50v1M22 50v1M22 59v2M25 51v4M28 16v6M29 2v1M29 14v2M30 4v3M30 11v1M33 3v4M34 0v5M34 7v2M34 54v1M35 0v2M35 10v1M35 26v3M35 51v1M35 59v2M36 4v1M36 12v2M36 29v1M36 49v2M37 16v1M37 30v4M37 59v2M38 12v1M38 30v1M38 33v3M38 48v1M39 35v1M39 49v1M40 2v2M40 17v5M40 29v1M40 33v2M40 47v2M41 12v2M41 18v2M41 21v6M41 41v1M41 47v1M41 50v1M42 15v8M42 47v1M42 51v1M42 55v4M43 0v2M43 24v1M43 34v1M43 50v1M43 57v1M44 0v5M45 23v2M45 28v4M45 36v2M45 40v2M45 51v1M46 26v1M46 37v2M46 41v1M46 43v2M46 48v2M46 59v2M47 16v3M47 22v2M47 39v2M47 42v3M47 46v2M48 3v1M48 5v1M48 30v1M48 42v2M48 46v4M49 0v4M49 14v1M49 38v1M49 41v3M49 45v2M49 48v1M50 38v1M50 40v3M50 48v2M51 47v2M52 57v2M60 10v2M60 51v1M60 54v2M61 0v2M61 12v4M61 17v1M61 20v7M61 28v2M61 50v1M61 59v2M62 0v4M62 5v6M62 17v3M62 21v1M62 23v1M63 0v2M63 8v3M63 17v3M63 29v2M63 41v2M63 51v1M63 54v3M64 10v2M64 13v5M64 30v1M65 7v1M65 14v3M65 28v1M65 30v2M65 33v2M65 50v1M66 3v8M66 12v3M66 19v1M66 22v2M66 30v2M66 33v1M66 51v1M67 5v1M67 9v2M67 12v5M67 18v6M67 25v6M67 35v1M67 37v2M67 50v1M68 27v1M68 51v2M68 58v1M69 57v2M77 54v1M78 51v1M79 51v1M80 50v1M82 50v1M83 50v1M84 49v1M84 59v2M85 49v2M86 0v2M86 9v4M86 22v3M86 59v2M87 4v1M87 50v1M87 56v1M87 58v1M88 3v1M88 57v2M89 59v2M90 59v2M91 59v2M92 51v1M93 59v2M94 52v3M95 11v1M95 18v2M95 26v2M95 32v4M95 45v3M95 49v1M95 58v1M96 7v1M96 9v1M96 11v4M96 18v3M96 28v2M96 31v1M96 35v1M96 37v1M96 42v1M96 47v4M96 59v2M97 3v3M97 8v1M97 19v3M97 23v2M97 37v2M97 41v1M97 47v3M97 59v2M98 6v2M98 9v2M98 12v2M98 19v2M98 22v1M98 25v2M98 35v1M98 38v2M98 43v1M98 51v1M98 54v1M99 5v2M99 15v5M99 29v2M99 39v1M99 55v1M100 0v4M100 5v3M100 9v2M100 14v1M100 23v1M100 37v1M100 41v3M101 14v2M101 18v5M101 24v1M101 27v4M101 35v1M101 37v1M101 41v3M101 45v3M101 50v1M102 51v1M102 54v4M110 29v1M110 31v3M111 29v1M111 31v4M111 41v1M111 54v1M111 56v1M112 42v6M112 50v1M112 59v2M113 35v2M113 39v1M113 43v4M114 42v1M114 46v1M114 50v1M115 50v1M117 50v1M118 50v2M119 51v1M119 59v2M120 50v1M121 50v1M121 59v2M122 48v1M123 45v1M124 40v3M124 45v2M124 59v2M125 41v3M126 22v1M126 38v3M126 59v2M127 39v2M128 38v1M129 0v2M129 42v1M130 36v3M131 36v5M132 11v1M132 16v1M132 41v1M133 45v1M134 49v3M135 51v1M155 42v4M155 47v1M156 34v1M156 36v1M156 42v1M156 49v1M157 29v3M157 33v1M157 44v3M157 48v1M158 28v2M158 31v2M158 38v5M158 49v1M159 30v2M159 34v2M159 37v1M159 46v4M160 44v1M160 47v3M161 38v1M161 42v5M161 53v2M161 59v2M162 34v9M162 44v2M162 49v1M163 39v1M163 41v2M163 44v3M164 47v3M165 59v2M166 53v1M167 52v2M171 58v3M172 47v3M173 44v5M174 31v1M174 41v6M174 48v1M175 47v1M175 56v1M175 58v1M181 50v1M181 57v1M182 59v2M183 23v1M183 49v2M183 57v1M184 24v1M184 50v1M185 49v2M185 59v2M186 58v1M190 56v1M191 50v1M192 0v2M192 17v1M192 51v1M192 59v2M193 52v1M194 50v1M195 50v1M197 5v3M197 19v1M198 2v1M198 16v1M198 19v3M198 23v2M198 26v1M199 20v3M200 0v6M200 10v3M200 21v6M201 6v4M201 11v4M201 21v1M201 23v1M202 5v1M202 18v6M202 25v3M203 5v2M203 10v4M203 15v2M203 20v2M203 25v1M204 23v7M205 2v1M205 6v1M205 12v3M205 19v1M205 28v2M206 9v1M206 31v3M207 36v2M207 39v3M207 49v1M208 23v6M208 30v3M208 35v2M208 39v4M208 48v1M209 15v1M209 19v2M209 23v1M209 32v5M209 41v1M209 45v3M209 56v1M210 0v2M210 7v4M210 23v7M210 31v7M210 43v1M210 58v1M211 10v4M211 15v3M211 25v3M211 34v1M211 37v2M211 40v1M211 42v3M211 49v3M212 13v2M212 22v2M212 26v1M212 28v3M212 34v5M212 40v1M212 42v4M213 6v1M213 10v1M213 12v4M213 17v1M213 19v4M213 26v2M213 29v3M213 35v5M213 42v2M213 58v1M214 2v1M214 6v3M214 18v2M214 24v3M214 28v8M214 39v3M214 44v2M214 55v1M214 57v1M215 0v2M215 13v1M215 23v1M215 27v2M215 33v2M215 48v1M216 29v3M216 44v1M216 46v2M217 34v1M217 36v1M217 38v3M217 42v5M218 52v1M218 56v1M218 58v1M220 49v2M220 59v2M221 52v3M221 59v2M224 55v1M224 59v2M225 58v1M226 46v1M226 48v1M226 53v1M226 55v1M226 59v2M227 50v1M228 42v1M228 47v3M229 50v1M230 39v1M230 42v1M230 44v1M230 50v1M231 39v1M231 42v1M231 44v1M231 50v1"/>
<path stroke="#fa0000" d="M0 51v1M1 51v1M2 43v3M2 47v1M2 50v1M2 59v2M3 44v4M4 51v1M4 55v2M5 37v2M5 40v1M5 50v2M6 2v1M6 49v2M7 17v1M7 19v1M7 44v1M7 46v3M7 56v1M8 51v1M8 53v2M9 50v1M10 50v1M11 51v1M11 53v1M11 56v1M12 51v5M13 50v2M13 54v2M14 50v1M14 58v1M18 50v2M19 50v1M20 51v1M20 59v2M21 53v1M21 59v2M22 51v1M23 50v1M23 59v2M24 51v1M26 53v4M29 0v2M30 7v4M35 52v5M36 30v3M37 50v1M38 49v1M39 50v1M39 58v1M40 49v3M41 51v5M43 56v1M45 32v4M45 39v1M45 50v1M46 39v2M46 42v1M46 56v1M47 41v1M47 45v1M47 51v1M48 44v2M48 50v1M48 59v2M49 47v1M49 49v2M50 43v5M50 50v1M50 59v2M51 50v2M51 59v2M60 52v1M60 56v2M60 59v2M61 18v2M61 27v1M61 51v1M62 22v1M62 50v1M63 11v6M63 57v1M64 50v1M64 59v2M65 6v1M65 19v2M65 22v6M65 29v1M65 59v2M66 11v1M66 24v1M66 27v1M66 52v2M67 6v3M67 11v1M67 31v3M67 36v1M68 53v4M69 51v1M69 54v3M76 51v2M76 58v1M77 50v1M77 53v1M78 53v2M80 58v1M81 50v1M81 59v2M82 51v1M83 51v1M84 50v1M86 50v1M87 54v2M87 57v1M88 0v3M88 51v1M88 55v2M89 50v1M90 51v1M91 51v1M94 55v2M94 58v1M95 48v1M95 51v1M95 53v1M95 55v3M96 8v1M96 30v1M96 32v3M96 38v4M96 43v4M96 52v4M97 6v2M97 22v1M97 25v2M97 28v4M97 33v4M97 50v1M97 55v4M98 0v6M98 8v1M98 14v1M98 16v1M98 27v3M98 32v3M98 36v2M98 40v3M98 44v3M98 52v2M98 55v4M99 7v5M99 13v2M99 20v3M99 25v4M99 51v1M99 54v1M99 56v3M100 4v1M100 8v1M100 24v7M100 33v1M100 35v2M100 38v3M100 51v2M101 16v2M101 31v4M101 38v1M101 40v1M101 44v1M110 51v1M110 59v2M111 35v2M111 38v3M111 51v1M111 53v1M111 55v1M113 37v2M113 40v3M113 51v1M113 54v1M113 59v2M114 43v3M114 58v1M115 51v1M116 51v1M116 54v3M117 58v1M122 49v4M122 59v2M123 46v1M124 43v2M124 47v1M125 44v1M126 41v3M127 41v1M128 39v2M128 56v3M129 54v1M129 59v2M130 39v4M130 48v4M130 53v1M131 41v2M131 44v1M131 48v2M131 58v1M132 42v1M132 51v2M132 59v2M133 46v2M133 59v2M134 52v1M135 52v2M155 46v1M155 48v2M155 59v2M156 51v1M156 59v2M157 34v1M157 37v4M157 42v2M157 47v1M157 49v1M157 59v2M158 30v1M158 43v1M158 46v3M158 50v1M159 36v1M159 59v2M160 45v1M160 55v1M160 57v1M160 59v2M161 39v3M161 52v1M161 55v1M161 58v1M162 46v3M162 50v1M163 40v1M163 50v1M163 59v2M164 50v1M165 52v1M166 54v4M172 50v1M172 54v1M173 49v2M174 47v1M174 49v1M175 48v3M175 54v2M175 57v1M176 52v3M176 56v3M181 51v1M181 53v4M182 51v2M182 54v1M183 53v1M183 56v1M184 51v1M184 53v2M185 51v1M191 54v1M193 53v2M195 51v1M195 58v1M198 17v2M198 22v1M201 10v1M203 14v1M203 17v3M205 24v4M207 38v1M207 50v1M207 59v2M208 29v1M208 43v5M208 49v1M208 54v5M209 37v4M209 48v1M209 51v2M209 54v2M210 30v1M210 44v4M211 28v6M211 35v2M211 52v3M211 56v1M211 58v1M212 15v1M212 27v1M212 31v3M212 39v1M212 46v3M213 11v1M213 23v3M213 44v6M213 55v3M214 0v2M214 3v3M214 20v4M214 36v3M214 42v2M214 46v1M214 56v1M214 58v1M215 49v2M215 52v3M215 59v2M216 48v1M216 50v1M216 59v2M217 59v2M218 53v3M218 57v1M219 50v2M220 51v1M220 54v1M221 55v2M224 56v2M226 50v2M226 54v1M226 56v1M227 51v2M227 55v1M227 57v1M228 50v1M228 56v3M229 51v1M230 40v2M230 51v1M230 59v2M231 40v2M231 51v1M231 59v2"/>
<path stroke="#d10000" d="M0 52v1M0 58v1M1 52v1M1 58v1M2 51v1M3 51v1M3 59v2M4 52v2M5 52v1M5 59v2M6 0v2M6 51v1M6 54v2M6 57v1M7 50v1M7 55v1M8 52v1M8 55v1M8 58v1M9 51v1M9 53v2M9 57v1M10 51v1M10 53v2M11 52v1M11 55v1M12 56v3M13 53v1M13 58v1M14 51v1M14 55v3M15 49v1M15 57v1M16 52v1M16 58v1M17 50v1M17 57v1M18 52v7M19 51v1M19 59v2M20 57v1M21 51v2M21 54v1M22 52v1M22 54v1M22 56v1M23 51v1M24 52v5M24 59v2M25 55v2M25 59v2M26 57v2M35 57v2M36 51v4M37 51v1M38 50v2M38 59v2M39 57v1M40 52v1M40 58v1M41 56v2M42 52v3M43 51v1M43 54v2M45 52v7M46 50v2M46 55v1M46 57v1M47 52v1M47 54v5M48 51v1M49 51v1M49 55v2M49 59v2M51 52v1M60 53v1M60 58v1M61 52v6M62 51v1M62 53v1M63 52v2M64 51v1M64 53v1M65 5v1M65 21v1M65 51v1M65 54v2M66 25v2M66 28v2M66 54v1M66 57v1M67 34v1M67 51v1M67 54v1M67 56v3M68 57v1M69 53v1M76 53v1M76 57v1M77 51v1M78 52v1M78 55v2M78 59v2M79 52v1M80 51v1M80 57v1M81 51v1M81 55v1M81 57v1M82 55v1M82 59v2M83 53v2M83 59v2M84 51v1M84 53v1M85 51v1M85 58v1M86 51v1M86 56v1M87 51v1M88 52v1M89 51v1M89 57v2M90 58v1M91 55v1M92 52v2M92 58v1M93 51v1M93 58v1M94 57v1M95 50v1M95 52v1M95 54v1M96 51v1M96 56v1M97 27v1M97 32v1M97 51v1M97 54v1M98 15v1M98 30v2M99 12v1M99 23v2M99 52v2M100 31v2M100 34v1M100 58v1M101 39v1M101 51v1M110 53v5M111 37v1M111 52v1M112 51v1M112 57v2M113 52v2M113 55v2M114 51v1M114 53v1M114 56v2M115 59v2M116 57v2M117 51v1M117 53v1M117 56v2M118 56v3M120 51v2M120 58v1M121 51v3M121 58v1M122 53v2M123 47v2M123 58v1M125 45v1M125 49v1M126 44v2M126 47v3M126 55v3M127 42v6M127 49v3M127 56v3M128 41v1M128 55v1M129 43v1M129 51v3M129 55v2M130 43v1M130 45v3M130 52v1M130 54v2M130 59v2M131 43v1M131 46v2M131 50v2M131 56v2M132 43v2M132 50v1M132 53v1M134 53v1M134 59v2M135 54v5M155 50v2M155 55v1M155 57v1M156 52v1M157 35v2M157 41v1M157 50v1M158 44v2M158 51v1M158 53v2M159 50v1M160 46v1M160 50v5M160 56v1M160 58v1M161 56v2M162 51v1M162 57v2M163 54v1M164 51v2M164 54v1M164 57v2M165 53v4M166 58v1M172 51v1M172 53v1M172 55v1M173 51v1M173 55v1M173 59v2M174 50v1M174 59v2M175 51v1M176 55v1M181 52v1M182 53v1M183 51v2M183 54v1M184 52v1M184 55v1M184 57v2M191 51v1M191 53v1M191 59v2M192 52v5M193 55v2M193 59v2M194 54v3M194 58v1M195 54v4M208 50v4M209 49v2M209 53v1M210 48v1M210 56v2M211 55v1M211 57v1M212 49v2M212 57v2M213 50v2M213 53v2M214 47v2M214 53v2M215 51v1M215 55v1M216 49v1M217 50v1M219 56v1M219 58v1M220 52v2M220 58v1M221 57v2M224 58v1M226 52v1M226 57v1M227 53v2M227 56v1M227 58v1M228 51v1"/>
<path stroke="#a80000" d="M0 53v5M1 53v5M2 52v5M3 52v5M4 54v1M5 53v1M6 52v2M6 56v1M6 58v1M7 51v1M7 53v2M8 56v2M9 52v1M9 55v2M9 58v1M10 52v1M10 55v4M11 54v1M13 52v1M13 56v2M14 52v3M15 50v3M15 55v2M16 53v5M17 51v1M17 56v1M20 52v5M20 58v1M21 55v4M22 53v1M22 55v1M22 57v2M23 52v6M24 57v1M25 57v2M36 55v1M36 59v2M37 52v4M37 57v2M38 52v1M38 56v1M39 51v1M39 55v2M40 53v5M41 58v1M43 52v2M46 52v3M46 58v1M47 53v1M48 52v1M48 54v1M49 52v3M50 54v1M50 56v1M51 53v3M61 58v1M62 52v1M62 54v5M64 52v1M64 54v3M65 3v2M65 53v1M65 56v1M66 55v2M66 58v1M67 52v2M67 55v1M69 52v1M76 54v3M77 52v1M78 57v1M79 53v1M79 59v2M80 52v5M81 52v3M81 56v1M81 58v1M82 52v3M82 56v2M83 52v1M83 55v1M84 52v1M84 54v5M85 55v3M86 53v3M86 57v2M87 52v2M88 53v2M89 55v2M90 52v1M90 56v2M91 53v2M91 56v3M92 54v4M93 57v1M96 57v2M97 52v2M100 53v5M101 52v1M101 54v5M110 52v1M110 58v1M112 52v1M112 56v1M113 57v2M114 52v1M114 54v2M115 52v2M115 57v1M116 52v2M117 52v1M117 54v2M118 52v4M119 52v1M119 54v5M120 53v5M121 54v1M121 56v2M122 55v1M123 49v4M123 56v2M124 48v5M124 54v1M124 56v3M125 46v3M125 50v2M125 55v4M126 46v1M126 50v1M126 58v1M127 48v1M127 52v1M127 55v1M128 42v1M128 53v2M129 44v7M129 57v1M130 44v1M130 56v1M131 45v1M131 52v4M132 45v1M132 54v2M132 57v2M133 48v9M134 54v4M155 52v3M155 56v1M155 58v1M156 53v3M156 58v1M157 51v2M157 58v1M158 52v1M158 55v1M159 51v1M159 53v1M162 52v5M163 51v3M163 55v2M164 53v1M164 55v2M165 57v2M172 52v1M172 56v3M173 52v3M173 56v2M174 51v1M174 55v2M175 52v2M182 55v4M183 55v1M184 56v1M185 53v1M185 58v1M191 52v1M191 55v1M192 57v2M193 57v1M194 51v1M194 53v1M194 57v1M195 52v2M207 51v5M207 58v1M210 49v1M210 52v1M210 54v2M212 51v6M213 52v1M214 49v4M216 51v2M216 54v1M216 58v1M217 51v4M219 52v4M219 57v1M220 55v3M226 58v1M228 52v1M228 55v1M229 52v1M229 55v4M230 52v2M230 57v2M231 52v2M231 57v2"/>
<path stroke="#800000" d="M2 57v2M3 57v2M5 54v5M7 52v1M15 53v2M17 52v4M19 52v7M23 58v1M24 58v1M36 56v3M37 56v1M38 53v3M38 57v2M39 52v3M48 53v1M48 55v4M49 57v2M50 51v3M50 55v1M50 57v2M51 56v3M64 57v2M65 0v3M65 52v1M65 57v2M78 58v1M79 54v5M82 58v1M83 56v3M85 52v3M86 52v1M89 52v3M90 53v3M91 52v1M93 52v5M101 53v1M112 53v3M115 54v3M115 58v1M119 53v1M121 55v1M122 56v3M123 53v3M124 53v1M124 55v1M125 52v3M126 51v4M127 53v2M128 43v10M129 58v1M130 57v2M132 46v4M132 56v1M133 57v2M134 58v1M156 56v2M157 53v5M158 56v5M159 52v1M159 54v5M163 57v2M173 58v1M174 52v3M174 57v2M185 52v1M185 54v4M191 56v3M193 58v1M194 52v1M207 56v2M210 50v2M210 53v1M215 56v3M216 53v1M216 55v3M217 55v4M228 53v2M229 53v2M230 54v3M231 54v3"/>
</g>
</g>
<path fill="none" stroke="#fff" stroke-width="1" stroke-opacity="0.72" transform="translate(45.3 192.9) scale(1.00130 1.00256)" d="M0 10v1M0 19v1M0 31v2M0 46v1M0 49v1M0 52v2M1 6v1M1 21v2M1 30v1M1 34v1M1 37v1M1 44v1M1 49v1M1 80v1M1 87v1M1 100v1M2 0v1M2 2v1M2 10v1M2 12v1M2 26v1M2 42v1M2 46v1M2 103v1M3 3v1M3 17v1M3 19v1M3 21v1M3 27v1M3 36v1M3 42v2M3 50v1M3 53v1M3 70v1M3 95v1M3 101v1M3 107v1M4 7v1M4 12v1M4 22v1M4 32v1M4 34v1M4 39v1M4 43v1M4 50v1M4 113v1M5 4v2M5 12v1M5 19v1M5 68v1M5 76v1M6 9v1M6 28v1M6 37v1M6 41v1M6 52v1M6 77v1M6 116v1M7 4v1M7 28v1M7 49v1M7 54v1M8 13v1M8 17v3M8 27v1M8 47v1M8 65v3M9 4v1M9 12v1M9 48v2M9 53v1M9 65v1M9 86v1M9 93v1M10 9v1M10 13v1M10 29v1M10 33v1M11 2v1M11 5v1M11 7v1M11 16v2M11 19v2M11 36v2M11 48v1M11 57v2M11 60v1M11 70v1M11 107v1M12 2v1M12 4v1M12 6v1M12 8v1M12 11v1M12 13v2M12 17v1M12 19v1M12 23v2M12 31v1M12 43v1M12 47v1M12 56v1M12 60v2M12 66v1M12 73v1M12 80v1M12 84v1M13 0v1M13 3v1M13 9v2M13 17v1M13 19v2M13 26v2M13 29v1M13 32v1M13 36v1M13 43v2M13 51v1M13 54v2M13 57v1M13 67v2M13 71v1M13 79v1M13 82v1M13 102v1M14 4v1M14 11v1M14 13v4M14 22v1M14 24v1M14 26v1M14 28v2M14 33v1M14 42v2M14 45v2M14 56v2M14 61v2M14 66v1M14 82v1M14 87v1M15 0v2M15 6v1M15 8v2M15 11v1M15 15v1M15 17v2M15 23v1M15 27v1M15 36v1M15 39v1M15 42v1M15 44v1M15 49v1M15 54v3M15 58v2M15 61v1M15 63v1M15 65v1M15 67v1M15 72v1M15 76v2M15 82v1M15 106v1M16 2v1M16 6v1M16 14v1M16 22v1M16 26v2M16 31v3M16 35v1M16 39v2M16 43v1M16 47v1M16 53v1M16 56v1M16 63v1M16 65v3M16 69v4M16 80v1M16 82v1M16 87v1M17 2v2M17 7v2M17 12v1M17 15v1M17 20v1M17 22v2M17 25v2M17 28v3M17 33v3M17 37v2M17 41v1M17 43v1M17 47v2M17 52v1M17 62v1M17 64v1M17 70v2M17 78v4M17 95v1M18 2v2M18 8v2M18 13v1M18 17v1M18 20v2M18 29v2M18 32v1M18 42v2M18 48v1M18 53v4M18 71v1M18 75v3M18 83v1M18 85v1M18 90v1M18 93v1M18 106v1M19 0v2M19 3v1M19 6v1M19 8v1M19 10v1M19 16v1M19 18v1M19 21v2M19 35v1M19 37v5M19 43v1M19 45v1M19 47v1M19 49v1M19 53v1M19 58v5M19 67v1M19 72v3M19 77v1M19 96v1M19 112v1M20 2v1M20 6v3M20 14v1M20 27v1M20 34v1M20 39v1M20 41v1M20 43v1M20 45v1M20 50v4M20 60v1M20 64v1M20 66v1M20 71v1M20 73v3M20 78v1M20 83v1M20 109v1M21 2v1M21 4v4M21 10v4M21 20v1M21 24v1M21 28v1M21 30v1M21 33v1M21 40v1M21 43v1M21 46v1M21 57v1M21 60v1M21 63v1M21 74v1M21 78v3M21 87v1M22 1v1M22 3v2M22 9v1M22 12v2M22 16v1M22 21v3M22 29v1M22 34v2M22 37v1M22 39v1M22 43v1M22 49v1M22 51v1M22 53v1M22 58v1M22 61v2M22 66v1M22 68v1M22 73v1M22 78v2M22 85v1M22 91v1M22 106v1M23 9v1M23 11v1M23 15v2M23 21v1M23 28v1M23 31v1M23 34v1M23 47v1M23 53v1M23 60v2M23 64v2M23 67v1M23 69v2M23 73v1M23 78v1M23 88v1M23 90v1M24 1v1M24 4v1M24 10v2M24 15v2M24 22v1M24 27v1M24 33v1M24 35v1M24 43v1M24 45v1M24 53v1M24 57v1M24 61v1M24 63v2M24 70v1M24 72v1M24 74v3M24 79v1M24 81v1M24 87v1M24 98v1M24 116v1M25 5v1M25 8v1M25 10v1M25 13v1M25 20v3M25 25v1M25 31v2M25 36v1M25 39v1M25 47v1M25 52v1M25 54v6M25 62v1M25 77v1M25 79v1M25 85v2M25 89v1M25 92v1M25 95v1M25 101v1M25 111v1M26 7v1M26 17v1M26 40v1M26 47v1M26 52v1M26 57v2M26 63v1M26 66v3M26 70v2M26 73v1M26 82v1M26 84v3M26 88v1M26 92v3M26 96v1M26 104v1M27 21v1M27 39v1M27 49v1M27 56v1M27 66v1M27 68v2M27 71v1M27 76v2M27 81v3M27 85v2M27 88v1M27 91v1M27 94v1M27 96v1M27 99v1M27 104v2M28 4v1M28 10v1M28 14v1M28 60v1M28 68v1M28 73v2M28 76v2M28 79v2M28 90v1M28 93v1M28 105v1M28 110v1M28 112v1M28 114v1M29 11v1M29 14v1M29 22v1M29 27v1M29 45v1M29 52v1M29 60v1M29 68v1M29 71v1M29 84v2M29 87v1M29 89v6M29 101v1M29 107v2M29 111v1M30 2v2M30 38v1M30 47v2M30 51v1M30 53v1M30 57v1M30 65v2M30 68v1M30 72v2M30 78v3M30 84v2M30 89v1M30 91v1M30 94v2M30 102v1M30 104v2M30 107v1M30 111v1M30 115v1M31 27v2M31 36v1M31 45v1M31 73v1M31 83v1M31 87v2M31 92v1M31 94v1M31 96v1M31 98v1M31 100v1M31 104v1M31 106v2M31 114v1M31 116v1M32 10v1M32 17v1M32 31v1M32 38v1M32 46v1M32 69v1M32 72v1M32 74v1M32 77v2M32 80v2M32 83v1M32 85v1M32 87v4M32 92v2M32 98v4M32 107v1M32 109v1M32 113v1M33 10v1M33 28v1M33 30v1M33 41v1M33 47v1M33 50v1M33 58v1M33 63v1M33 70v1M33 97v1M33 104v1M33 114v1M34 6v1M34 14v1M34 30v1M34 52v1M34 56v1M34 80v1M34 90v1M35 16v1M35 23v1M35 50v1M35 67v1M35 77v2M36 7v1M36 31v1M36 43v1M36 47v1M36 79v1M36 93v1M36 104v1M36 106v1M37 19v1M37 69v1M38 12v1M38 34v1M38 44v1M38 61v1M38 68v2M38 91v1M39 31v1M39 42v1M39 94v1M39 101v1M40 1v1M40 4v1M40 22v1M40 35v1M40 68v2M40 99v1M40 109v1M41 7v2M41 23v1M41 32v1M41 36v1M41 39v1M41 63v1M41 65v1M41 86v1M41 90v1M41 96v2M41 101v1M41 105v1M42 6v1M42 10v1M42 19v1M42 29v1M42 36v1M42 53v1M42 59v1M42 66v1M42 89v2M42 107v1M43 12v1M43 22v1M43 54v1M43 62v1M43 74v1M43 76v1M43 103v1M43 110v2M43 116v1M44 6v1M44 9v1M44 24v1M44 35v1M44 46v1M44 48v1M44 94v1M45 4v1M45 28v3M45 40v1M45 47v2M46 8v1M46 12v1M46 82v1M47 2v1M47 19v1M47 25v1M47 30v1M47 54v1M47 68v1M47 109v1M48 16v1M48 33v1M48 56v1M48 64v1M48 66v1M48 93v1M49 5v1M49 8v1M49 14v1M49 17v2M49 23v1M49 29v1M49 34v1M49 41v1M49 74v1M49 107v1M49 109v1M50 0v1M50 20v1M50 22v1M50 43v1M50 50v1M50 61v1M50 67v1M50 71v1M50 76v1M50 83v1M50 86v1M50 113v1M51 3v1M51 25v1M51 33v2M51 36v2M51 40v1M51 46v1M51 48v1M51 53v2M51 57v1M51 60v1M51 62v1M51 67v1M51 69v2M51 74v1M51 78v1M51 85v2M51 88v1M51 90v1M51 98v1M51 109v1M51 116v1M52 3v1M52 12v2M52 30v1M52 40v1M52 48v1M52 51v1M52 66v1M52 70v1M52 75v1M52 83v1M52 87v3M52 94v1M52 99v2M52 111v3M52 115v2M53 2v1M53 7v1M53 12v1M53 15v3M53 34v2M53 41v2M53 44v1M53 52v1M53 55v1M53 60v1M53 63v2M53 75v4M53 81v1M53 86v1M53 89v1M53 91v1M53 94v1M53 96v2M53 99v1M53 101v1M53 104v1M53 108v3M53 112v1M53 115v1M54 1v1M54 20v1M54 24v3M54 32v1M54 38v1M54 48v1M54 51v1M54 56v2M54 64v1M54 67v1M54 71v1M54 79v1M54 91v1M54 93v1M54 99v1M54 103v3M54 110v2M54 113v2M55 13v1M55 15v2M55 25v2M55 28v2M55 31v1M55 36v1M55 46v1M55 60v1M55 82v1M55 96v1M55 99v1M55 105v1M55 110v1M55 113v2M56 19v1M56 25v1M56 30v1M56 33v1M56 35v1M56 37v1M56 70v1M56 72v1M56 76v2M56 81v1M56 89v2M56 97v1M56 101v3M56 107v1M56 110v2M56 113v2M57 3v1M57 8v2M57 11v2M57 16v1M57 28v1M57 30v2M57 36v1M57 42v1M57 44v1M57 59v1M57 74v1M57 86v1M57 92v1M57 109v1M57 112v1M57 115v1M58 3v1M58 12v1M58 14v2M58 20v1M58 22v3M58 26v3M58 32v1M58 37v1M58 39v1M58 41v1M58 43v1M58 45v3M58 49v1M58 51v1M58 53v2M58 58v1M58 61v1M58 64v1M58 73v3M58 78v1M58 93v3M58 97v1M58 102v1M58 106v1M58 108v1M58 111v1M58 116v1M59 5v1M59 14v1M59 21v1M59 32v1M59 37v1M59 40v1M59 45v1M59 62v1M59 79v2M59 82v1M59 86v1M59 93v1M59 98v2M59 109v1M59 112v1M60 19v1M60 25v1M60 59v1M60 72v1M60 74v1M60 83v1M60 105v1M61 10v1M61 32v1M61 86v2M61 89v1M62 17v2M62 20v1M62 34v1M62 39v1M63 0v1M63 10v1M63 15v1M63 61v1M63 83v1M64 0v1M64 36v1M64 89v1M65 15v2M65 78v1M65 86v1M66 11v1M66 37v1M66 39v1M66 73v1M66 75v1M66 78v1M66 93v1M66 103v1M66 107v1M67 25v2M67 78v1M67 84v1M67 93v1M67 97v1M68 21v1M68 52v2M68 63v1M68 83v1M69 4v2M69 15v1M69 19v2M69 22v2M69 30v1M69 36v1M69 47v1M69 53v1M69 55v1M69 64v1M69 72v1M69 79v2M69 84v1M69 86v2M69 92v1M69 94v1M70 4v1M70 28v1M70 32v1M70 36v1M70 43v1M70 54v1M70 70v2M70 81v2M70 84v1M70 92v1M70 95v2M70 98v2M70 106v1M70 109v2M70 114v3M71 8v1M71 11v1M71 19v1M71 32v1M71 34v1M71 39v1M71 58v1M71 66v1M71 68v1M71 74v1M71 76v1M71 86v1M71 89v3M71 97v2M71 105v2M72 7v1M72 15v1M72 22v1M72 25v1M72 27v1M72 31v1M72 34v1M72 40v1M72 43v1M72 48v1M72 57v1M72 61v1M72 70v1M72 79v1M72 81v1M72 86v1M72 89v2M72 93v1M72 95v2M72 98v2M72 109v1M72 113v1M72 116v1M73 11v1M73 14v1M73 19v1M73 25v1M73 27v1M73 33v3M73 37v2M73 41v3M73 48v1M73 50v1M73 60v1M73 70v1M73 84v1M73 91v1M73 93v3M73 98v2M73 102v1M73 109v1M74 1v1M74 9v1M74 17v1M74 27v1M74 49v2M74 61v1M74 68v1M74 77v2M74 80v1M74 85v1M74 88v1M74 90v4M74 95v1M74 108v1M75 2v1M75 4v1M75 6v2M75 10v2M75 18v1M75 21v1M75 25v2M75 29v2M75 33v1M75 39v1M75 43v1M75 46v1M75 48v1M75 50v1M75 52v1M75 54v1M75 56v1M75 58v2M75 62v1M75 64v1M75 67v2M75 77v1M75 82v1M75 90v1M75 92v1M76 6v1M76 11v1M76 14v1M76 18v1M76 25v1M76 44v1M76 56v1M76 63v2M76 66v1M76 71v1M76 75v1M76 86v1M76 88v1M76 90v1M77 6v1M77 8v1M77 14v1M77 18v1M77 24v1M77 32v1M77 34v1M77 58v1M77 61v1M77 68v2M77 73v1M77 78v2M77 82v1M77 84v1M77 87v5M77 106v1M78 1v1M78 14v1M78 16v1M78 28v1M78 32v1M78 35v1M78 39v1M78 44v3M78 50v2M78 54v2M78 57v1M78 68v1M78 70v1M78 74v3M78 78v1M78 81v1M78 89v1M78 93v1M78 100v1M78 108v1M78 114v1M79 3v1M79 8v2M79 13v1M79 15v1M79 24v1M79 26v1M79 30v1M79 33v1M79 43v1M79 46v2M79 49v1M79 52v1M79 54v1M79 59v1M79 61v2M79 64v1M79 66v1M79 68v1M79 72v1M79 74v1M79 83v1M79 86v1M79 89v1M79 92v1M79 97v1M80 0v1M80 2v1M80 13v2M80 16v1M80 19v1M80 22v3M80 27v1M80 29v1M80 31v1M80 33v2M80 36v1M80 40v1M80 46v1M80 48v2M80 61v1M80 64v2M80 68v1M80 72v1M80 74v1M80 78v1M80 80v1M80 82v1M80 86v2M80 92v1M80 94v1M80 112v1M81 0v1M81 8v1M81 10v1M81 13v1M81 15v2M81 18v2M81 22v1M81 25v1M81 27v2M81 30v1M81 34v1M81 36v2M81 39v2M81 45v1M81 50v1M81 52v2M81 64v1M81 67v3M81 71v1M81 74v1M81 80v1M81 83v2M81 87v1M81 89v1M81 96v1M82 2v1M82 5v1M82 8v1M82 11v1M82 13v2M82 16v3M82 21v1M82 23v1M82 28v1M82 30v4M82 40v2M82 43v1M82 45v2M82 48v4M82 55v5M82 63v2M82 67v1M82 69v1M82 77v1M82 83v1M82 85v3M82 114v2M83 16v1M83 20v1M83 33v1M83 46v1M83 55v1M83 63v2M83 67v1M83 73v2M83 77v1M83 81v2M83 85v1M83 99v1M83 106v1M83 108v1M84 13v1M84 41v1M84 49v1M84 79v3M84 85v1M84 89v1M84 93v1M84 115v1M85 13v1M85 18v1M85 23v1M85 29v1M85 38v1M85 50v1M85 59v1M85 62v1M85 66v1M85 88v1M85 90v1M85 93v1M86 3v1M86 31v1M86 39v1M86 51v1M86 67v1M86 70v1M86 74v1M86 96v2M86 112v1M87 36v1M87 45v1M87 55v1M87 60v2M87 67v1M87 72v1M87 74v2M87 80v1M87 84v1M87 87v1M87 95v1M87 98v1M87 109v1M88 10v1M88 13v1M88 17v2M88 26v2M88 31v1M88 33v1M88 35v3M88 40v1M88 43v1M88 45v2M88 50v1M88 56v1M88 60v1M88 65v4M88 71v1M88 73v1M88 77v1M88 81v2M88 85v1M88 89v1M88 96v1M88 109v1M89 1v1M89 3v1M89 10v1M89 14v1M89 19v1M89 23v1M89 26v1M89 36v1M89 40v2M89 44v1M89 50v2M89 54v1M89 57v1M89 60v4M89 69v3M89 75v1M89 78v1M89 81v1M89 84v1M89 86v2M89 93v1M90 2v1M90 5v3M90 9v2M90 12v1M90 16v1M90 25v1M90 27v1M90 30v1M90 42v1M90 46v1M90 48v1M90 51v2M90 54v2M90 57v2M90 65v1M90 67v4M90 72v1M90 76v1M90 82v2M90 85v3M90 95v1M90 104v1M90 111v1M91 1v1M91 3v1M91 10v1M91 18v3M91 23v1M91 25v1M91 28v1M91 30v1M91 32v1M91 34v1M91 36v4M91 41v1M91 50v3M91 57v1M91 61v1M91 64v1M91 67v2M91 70v1M91 73v1M91 75v1M91 86v1M91 89v3M91 105v1M92 1v1M92 3v3M92 8v1M92 10v1M92 16v1M92 18v3M92 27v2M92 36v2M92 43v2M92 50v3M92 60v3M92 65v2M92 74v6M92 87v2M92 91v2M93 0v1M93 2v1M93 6v2M93 9v2M93 12v1M93 18v1M93 22v4M93 28v1M93 34v1M93 36v2M93 42v1M93 46v1M93 51v1M93 54v1M93 60v1M93 62v1M93 65v1M93 74v1M93 77v1M93 79v2M93 82v1M93 84v1M93 91v1M93 93v1M93 95v1M94 43v1M94 49v1M94 78v1M94 86v1M95 15v1M95 31v1M95 43v1M95 51v1M95 69v1M95 71v1M95 76v1M96 50v1M96 103v1M97 1v1M97 9v1M97 23v1M97 42v1M97 58v1M97 112v1M97 116v1M98 33v1M98 44v1M98 82v1M98 101v1M99 15v1M99 26v1M99 32v1M99 56v1M100 37v1M101 3v2M101 7v1M101 12v1M101 14v2M101 18v1M101 21v4M101 28v1M101 35v1M101 37v4M101 44v2M101 48v1M101 52v1M101 55v3M101 64v1M101 67v1M101 69v1M101 71v1M101 78v2M101 81v1M101 84v2M101 88v2M101 107v1M102 1v1M102 3v2M102 6v1M102 16v1M102 26v1M102 28v1M102 30v1M102 41v1M102 46v1M102 49v1M102 56v1M102 62v1M102 66v1M102 77v5M102 85v1M102 87v1M102 100v1M102 102v1M102 108v1M103 14v1M103 23v1M103 25v1M103 34v1M103 62v1M103 66v1M103 80v1M103 86v1M103 88v1M103 92v2M103 110v1M103 113v1M103 116v1M104 7v1M104 19v1M104 32v2M104 40v1M104 42v1M104 52v1M104 63v1M104 70v2M104 74v1M104 76v2M104 83v1M104 86v2M104 90v1M104 110v1M104 113v2M105 17v1M105 39v1M105 51v1M105 56v1M105 61v1M105 68v1M105 73v1M105 80v1M105 92v1M105 97v1M105 99v2M105 102v1M105 105v1M105 111v2M105 115v2M106 1v1M106 4v1M106 11v1M106 15v2M106 35v1M106 52v2M106 68v1M106 83v1M106 99v3M106 105v1M106 107v1M106 113v1M107 3v1M107 6v1M107 11v1M107 17v3M107 28v2M107 35v1M107 44v1M107 50v1M107 53v1M107 55v1M107 61v1M107 68v1M107 79v1M107 82v1M107 87v1M107 94v1M107 97v1M107 104v2M107 108v1M107 110v1M107 116v1M108 5v1M108 11v1M108 14v1M108 30v1M108 32v1M108 35v1M108 38v3M108 44v1M108 49v1M108 51v1M108 57v1M108 62v2M108 69v2M108 76v3M108 83v1M108 85v1M108 90v1M108 93v2M108 97v1M108 100v1M108 108v1M108 110v1M109 0v1M109 16v2M109 27v1M109 33v1M109 45v1M109 47v1M109 51v1M109 57v1M109 59v1M109 108v1M109 114v1M110 2v1M110 9v1M110 11v1M110 19v1M110 25v1M110 36v1M110 50v1M110 59v1M110 88v1M111 9v2M111 16v1M111 19v2M111 26v1M111 37v1M111 41v1M111 48v1M111 95v1M112 7v2M112 26v1M112 30v1M112 41v1M112 76v1M113 4v1M113 21v1M113 25v1M113 29v1M113 53v1M113 77v1M113 99v1M113 108v1M114 0v2M114 3v2M114 9v1M114 12v1M114 16v2M114 23v1M114 25v1M114 27v1M114 31v1M114 33v2M114 39v2M114 42v1M114 44v4M114 49v1M114 51v2M114 57v1M114 67v1M114 83v1M114 88v1M114 91v1M115 0v1M115 7v1M115 10v1M115 12v1M115 20v2M115 23v2M115 27v1M115 29v2M115 32v1M115 39v1M115 41v2M115 44v1M115 51v1M115 56v2M115 66v2M115 70v1M115 72v2M116 3v1M116 5v1M116 7v1M116 9v1M116 23v1M116 31v3M116 35v1M116 37v1M116 39v1M116 42v1M116 53v4M116 63v1M116 65v2M116 71v1M116 73v1M116 76v1M117 1v1M117 4v1M117 6v1M117 18v3M117 23v1M117 25v1M117 37v1M117 39v1M117 41v1M117 47v2M117 51v4M117 56v2M117 61v1M117 69v2M117 72v4M117 77v1M118 7v1M118 11v2M118 14v1M118 16v2M118 24v1M118 31v1M118 36v1M118 38v1M118 40v1M118 42v1M118 45v2M118 48v1M118 51v1M118 54v1M118 63v1M118 73v3M118 86v1M118 88v1M118 108v1M118 111v1M119 2v1M119 4v2M119 13v1M119 16v1M119 24v1M119 27v1M119 32v2M119 35v1M119 37v1M119 39v1M119 42v4M119 51v1M119 55v1M119 60v1M119 63v1M119 66v1M119 71v3M119 77v1M119 79v1M119 81v1M119 84v1M119 89v1M120 2v1M120 4v1M120 9v2M120 12v1M120 15v2M120 20v1M120 23v2M120 26v1M120 28v1M120 31v1M120 33v1M120 37v2M120 47v1M120 52v2M120 55v1M120 65v1M120 69v1M120 71v3M120 77v1M120 93v1M121 1v1M121 4v1M121 16v1M121 37v1M121 44v2M121 51v1M121 54v1M121 59v1M121 93v1M122 9v1M122 15v1M122 27v1M122 31v1M122 46v1M122 48v1M122 53v1M122 60v1M122 85v1M123 2v1M123 4v1M123 14v3M123 18v1M123 28v1M123 36v2M123 51v2M123 58v1M123 61v1M123 65v1M123 68v1M123 71v1M123 73v1M123 79v1M123 115v1M124 43v1M124 45v1M124 49v1M124 51v1M124 53v1M124 58v1M124 70v1M124 94v1M124 107v1M125 1v2M125 6v1M125 17v1M125 27v1M125 34v1M125 47v1M125 53v1M125 68v1M125 70v1M125 72v1M125 75v1M126 3v1M126 30v1M126 43v1M126 56v1M126 101v1M127 1v1M127 18v1M127 37v1M127 47v1M127 50v1M127 56v1M127 67v2M127 79v1M128 0v1M128 21v1M128 38v1M128 41v1M128 44v2M128 76v1M129 2v1M129 14v1M129 20v1M129 23v1M129 31v1M129 42v1M129 44v1M129 46v1M129 48v1M129 51v1M129 53v1M129 59v1M130 32v1M130 40v1M130 42v1M130 48v1M130 55v1M130 58v2M130 63v1M130 66v1M130 73v1M130 87v1M130 94v1M130 107v1M131 26v1M131 32v2M131 46v1M131 60v1M131 63v1M132 1v1M132 4v1M132 10v1M132 30v1M132 41v1M132 72v1M132 74v1M132 107v1M132 110v1M133 3v2M133 8v1M133 11v1M133 13v3M133 22v2M133 25v1M133 27v2M133 32v1M133 35v2M133 42v1M133 45v1M133 50v2M133 56v1M133 58v2M133 61v1M133 63v2M133 66v3M133 115v1M134 5v1M134 7v2M134 12v1M134 16v1M134 19v1M134 24v3M134 31v1M134 33v1M134 36v1M134 43v2M134 47v1M134 49v2M134 53v2M134 57v1M134 60v2M134 68v1M134 72v1M134 77v1M134 81v1M134 84v3M134 88v1M134 100v1M134 113v1M135 3v1M135 13v1M135 25v1M135 28v1M135 30v2M135 42v1M135 44v1M135 66v1M135 69v1M135 79v1M135 82v1M135 84v1M135 89v1M135 91v3M135 96v1M135 99v1M135 105v2M135 108v5M135 114v1M136 23v2M136 28v1M136 34v1M136 36v1M136 38v1M136 43v1M136 47v1M136 52v1M136 59v1M136 67v1M136 71v1M136 80v1M136 82v1M136 86v1M136 90v1M136 96v1M136 99v1M136 103v1M136 105v1M136 112v1M136 114v1M137 2v1M137 12v1M137 14v2M137 27v1M137 56v1M137 58v1M137 63v1M137 75v4M137 83v1M137 87v1M137 90v1M137 96v4M137 101v3M137 106v2M137 109v2M137 113v1M138 28v1M138 33v1M138 37v2M138 42v1M138 46v1M138 61v1M138 68v1M138 78v1M138 83v1M138 86v2M138 91v1M138 95v1M138 97v1M138 101v1M138 105v1M138 113v1M139 5v1M139 18v1M139 33v1M139 39v1M139 43v1M139 47v1M139 74v1M139 76v1M139 83v1M139 88v1M139 92v1M139 101v2M139 104v2M139 109v1M139 113v1M139 115v2M140 0v1M140 3v1M140 18v1M140 24v2M140 32v1M140 37v1M140 53v1M140 59v2M140 64v1M140 66v2M140 69v1M140 72v1M140 81v1M140 83v1M140 86v3M140 92v3M140 98v2M140 104v1M140 107v2M140 110v1M140 116v1M141 10v2M141 25v1M141 27v1M141 29v1M141 31v1M141 37v1M141 54v1M141 56v1M141 59v1M141 61v1M141 80v1M141 83v1M141 88v1M141 93v2M141 96v1M141 98v1M141 104v1M141 112v1M142 11v1M142 19v1M142 22v1M142 28v1M142 36v1M142 38v2M142 49v2M142 53v1M142 65v1M142 69v1M142 73v1M142 76v1M142 83v1M142 93v1M142 97v2M142 104v2M142 108v1M142 110v1M142 115v2M143 0v1M143 13v2M143 33v1M143 35v1M143 52v1M143 55v1M143 58v1M143 61v1M143 74v1M143 83v1M143 85v1M143 89v5M143 96v3M143 102v2M143 106v2M143 109v1M143 113v1M143 115v1M144 10v1M144 15v1M144 51v1M144 63v1M144 65v4M144 73v1M144 76v2M144 79v2M144 82v1M144 84v1M144 86v1M144 92v3M144 100v1M144 102v1M144 110v3M144 115v2M145 18v1M145 21v1M145 24v1M145 28v1M145 50v1M145 52v1M145 54v1M145 56v1M145 65v1M145 67v4M145 75v1M145 79v2M145 82v1M145 87v1M145 90v1M145 97v3M145 101v1M145 110v1M145 115v1M146 7v1M146 17v1M146 42v1M146 46v2M146 51v1M146 54v1M146 60v1M146 62v1M146 65v1M146 67v1M146 74v1M146 81v3M146 85v2M146 89v3M146 95v1M146 97v1M146 99v1M146 101v3M146 109v1M146 113v1M146 115v1M147 7v1M147 18v1M147 42v1M147 48v1M147 51v2M147 54v2M147 58v1M147 62v1M147 74v1M147 76v1M147 80v1M147 82v1M147 89v1M147 91v2M147 95v2M147 99v1M147 102v2M147 105v1M147 109v2M147 115v2M148 10v1M148 29v1M148 33v1M148 52v2M148 61v1M148 63v2M148 66v1M148 68v3M148 74v1M148 80v1M148 83v2M148 86v1M148 93v1M148 95v1M148 97v1M148 104v1M148 106v1M148 109v1M148 113v2M148 116v1M149 10v2M149 27v1M149 41v1M149 44v1M149 49v2M149 54v1M149 56v1M149 59v1M149 62v1M149 64v2M149 68v1M149 79v4M149 89v3M149 93v3M149 97v2M149 100v1M149 106v1M149 110v1M149 114v1M149 116v1M150 23v1M150 37v3M150 48v1M150 50v2M150 53v2M150 61v2M150 64v1M150 73v1M150 77v1M150 80v1M150 84v2M150 88v2M150 107v2M150 112v1M150 116v1M151 1v1M151 14v1M151 19v1M151 33v2M151 54v1M151 58v1M151 63v5M151 71v2M151 78v1M151 85v1M151 87v1M151 94v1M151 101v4M151 109v2M151 112v1M152 0v1M152 2v1M152 9v1M152 17v1M152 22v1M152 31v1M152 39v1M152 41v1M152 49v2M152 61v1M152 64v1M152 69v1M152 73v1M152 88v1M152 93v1M152 95v1M152 99v1M152 107v1M152 112v1M153 1v2M153 5v2M153 14v1M153 22v1M153 24v1M153 28v1M153 34v3M153 47v2M153 50v1M153 52v1M153 54v2M153 82v1M153 85v1M153 89v1M153 93v2M154 2v1M154 4v1M154 6v1M154 10v1M154 18v1M154 20v3M154 25v1M154 29v2M154 32v1M154 41v1M154 43v1M154 46v1M154 60v1M154 64v1M155 6v1M155 8v1M155 16v1M155 34v2M155 52v1M155 54v1M155 58v1M155 105v1M155 107v1M156 22v1M156 29v1M156 31v1M156 34v1M156 53v1M156 60v1M156 109v1M157 33v1M157 35v2M157 42v1M157 54v1M157 57v1M157 64v1M157 75v1M157 87v1M157 90v1M158 19v2M158 23v1M158 30v1M158 53v1M158 59v1M158 73v1M158 108v1M159 7v2M159 13v1M159 25v1M159 37v1M159 46v1M159 48v1M159 62v1M159 70v1M159 102v1M159 115v1M160 6v1M160 13v1M160 16v2M160 24v1M160 34v1M160 39v2M160 64v1M160 110v1M161 4v2M161 7v1M161 15v2M161 21v1M161 51v1M161 64v1M161 74v1M161 106v2M162 1v1M162 8v1M162 11v1M162 28v1M162 36v1M162 50v3M162 73v1M162 75v1M162 78v1M162 92v1M162 95v1M162 116v1M163 3v1M163 11v3M163 16v2M163 19v1M163 21v1M163 28v1M163 33v3M163 39v2M163 42v1M163 45v1M163 47v1M163 49v1M163 51v1M163 53v1M163 57v1M163 74v1M163 82v1M163 87v1M163 92v1M164 4v1M164 15v2M164 20v1M164 26v1M164 28v1M164 31v1M164 39v1M164 59v1M164 65v1M164 70v3M164 77v3M164 83v2M164 91v1M164 104v1M164 108v1M165 0v1M165 3v1M165 6v2M165 21v1M165 30v1M165 34v1M165 39v1M165 55v1M165 58v1M165 64v1M165 68v3M165 72v1M165 74v1M165 82v3M165 89v1M165 92v1M165 95v1M166 0v1M166 7v1M166 9v1M166 11v1M166 16v1M166 29v1M166 32v1M166 57v1M166 61v1M166 67v1M166 74v1M166 82v1M166 84v1M166 90v3M166 95v2M167 3v1M167 8v1M167 20v1M167 22v1M167 26v1M167 36v1M167 52v1M167 64v1M167 70v1M167 85v1M167 88v1M167 91v1M167 100v1M167 105v1M167 111v1M168 1v1M168 8v2M168 12v2M168 17v1M168 21v1M168 25v1M168 42v1M168 45v2M168 54v1M168 76v3M168 82v3M168 87v1M168 94v3M168 98v1M168 103v1M168 106v1M168 108v2M168 111v3M169 5v1M169 14v1M169 20v1M169 29v2M169 33v1M169 38v1M169 43v1M169 45v1M169 56v1M169 60v1M169 63v1M169 66v1M169 90v1M169 92v1M169 99v1M169 102v1M169 104v1M169 107v2M169 111v1M169 116v1M170 8v1M170 14v1M170 28v1M170 35v1M170 39v1M170 45v1M170 49v1M170 52v1M170 58v1M170 71v1M170 73v2M170 81v1M170 84v1M170 86v2M170 89v1M170 91v1M170 94v1M170 97v1M170 114v1M171 2v1M171 4v4M171 9v1M171 12v1M171 16v1M171 18v2M171 22v2M171 27v1M171 39v1M171 43v1M171 67v1M171 109v1M172 17v2M172 20v1M172 33v1M172 42v2M172 64v1M172 72v1M172 76v1M172 83v2M172 91v1M173 17v1M173 31v1M173 45v1M174 23v1M174 27v1M174 30v1M174 33v1M174 38v1M174 40v1M174 46v1M174 52v1M174 56v1M174 72v1M174 77v1M174 82v1M174 110v1M175 28v1M175 35v1M175 39v1M175 41v2M175 48v1M175 50v1M175 53v1M175 56v2M175 61v1M175 66v1M175 70v3M175 86v3M175 91v1M175 93v2M175 96v1M175 98v1M176 2v1M176 7v1M176 12v1M176 18v1M176 24v2M176 50v2M176 53v2M176 56v1M176 86v2M176 93v2M176 98v1M176 105v2M176 110v5M176 116v1M177 2v1M177 5v1M177 11v1M177 23v1M177 28v1M177 42v1M177 53v1M177 63v1M177 66v1M177 68v2M177 73v1M177 80v1M177 92v1M177 98v1M177 100v1M177 104v1M177 106v1M177 108v4M178 0v1M178 3v1M178 5v1M178 8v1M178 10v1M178 15v1M178 18v1M178 28v1M178 30v1M178 33v1M178 37v1M178 47v1M178 57v3M178 61v1M178 65v1M178 69v3M178 76v1M178 80v2M178 83v1M178 88v1M178 90v1M178 92v2M178 95v1M178 100v1M178 102v1M178 112v1M178 115v1M179 8v2M179 12v1M179 22v1M179 31v1M179 36v1M179 42v1M179 53v1M179 55v1M179 61v1M179 67v1M179 73v2M179 76v1M179 78v1M179 84v1M179 86v3M179 93v1M179 95v2M179 98v1M179 101v1M179 106v1M179 111v1M180 1v1M180 23v1M180 27v1M180 34v1M180 36v1M180 42v1M180 55v1M180 58v1M180 65v1M180 68v1M180 70v1M180 73v2M180 78v4M180 83v1M180 86v2M180 90v2M181 2v1M181 4v1M181 7v1M181 59v1M181 64v1M181 67v1M181 73v1M181 76v2M181 85v1M181 115v1M182 9v1M182 14v1M182 23v1M182 25v1M182 51v1M182 57v1M182 63v1M182 68v1M182 71v1M182 74v1M182 77v1M182 116v1M183 1v1M183 8v1M183 10v1M183 12v1M183 22v1M183 29v1M183 37v1M183 43v2M183 52v1M183 59v1M183 67v1M183 69v1M183 71v1M183 75v1M183 79v1M183 83v1M183 88v1M183 93v1M184 17v1M184 30v1M184 34v1M184 36v1M184 39v1M184 50v1M184 52v1M184 69v1M184 71v1M184 73v1M184 75v1M184 81v1M184 89v1M184 107v1M185 4v1M185 16v1M185 33v3M185 45v1M185 49v1M185 72v1M185 75v1M185 79v1M185 82v1M185 84v1M185 86v1M185 93v2M185 108v1M185 112v1M186 0v1M186 14v1M186 16v1M186 18v2M186 28v1M186 31v1M186 39v2M186 54v1M186 66v1M186 71v2M186 82v2M186 96v1M186 98v1M186 104v1M186 106v1M186 109v2M186 113v1M187 1v2M187 5v1M187 8v2M187 16v1M187 22v2M187 25v1M187 31v1M187 45v1M187 59v1M187 64v1M187 66v1M187 68v1M187 71v1M187 76v2M187 81v6M187 88v1M187 91v1M187 95v1M187 99v2M187 102v1M187 106v2M187 112v2M188 2v2M188 6v1M188 13v3M188 26v1M188 29v1M188 31v3M188 37v2M188 41v1M188 44v1M188 51v1M188 53v1M188 55v1M188 59v1M188 64v1M188 69v1M188 76v1M188 85v1M188 88v5M188 94v1M188 96v2M188 100v1M188 106v1M188 109v1M188 111v1M189 13v3M189 22v1M189 29v1M189 31v1M189 37v1M189 65v1M189 71v1M189 74v1M189 88v1M189 97v1M189 99v1M189 108v1M189 116v1M190 5v1M190 7v1M190 23v1M190 27v1M190 29v1M190 31v1M190 47v1M190 49v1M190 53v1M190 58v1M190 66v1M190 70v1M190 72v1M190 80v1M190 87v1M191 2v1M191 5v1M191 11v1M191 16v2M191 20v1M191 37v1M191 46v2M191 74v1M191 85v2M191 94v1M191 116v1M192 10v2M192 16v1M192 21v1M192 31v1M192 46v1M192 51v1M192 56v1M192 58v1M192 70v1M192 76v1M192 78v1M192 84v1M192 89v1M192 111v1M193 4v1M193 8v1M193 12v1M193 25v1M193 55v2M193 81v1M193 87v1M193 98v1M194 4v1M194 6v2M194 9v1M194 11v1M194 14v2M194 17v2M194 21v1M194 25v2M194 31v1M194 34v2M194 38v1M194 41v1M194 47v2M194 50v1M194 52v1M194 58v1M194 62v1M194 71v1M194 85v2M194 92v2M195 0v1M195 3v2M195 6v4M195 11v2M195 21v1M195 27v2M195 33v1M195 36v1M195 38v1M195 41v1M195 44v3M195 50v1M195 53v1M195 58v2M195 62v1M195 66v1M195 69v2M195 72v1M195 75v3M195 82v1M195 84v1M195 88v1M195 91v1M196 0v1M196 19v1M196 57v1M196 59v1M196 79v3M196 85v2M196 92v1M196 95v2M196 99v1M196 104v2M196 113v1M196 116v1M197 0v1M197 9v1M197 51v1M197 59v1M197 65v2M197 69v2M197 81v1M197 84v1M197 86v2M197 92v2M197 96v3M197 101v1M197 104v1M197 106v1M197 108v2M197 113v1M197 116v1M198 15v1M198 47v2M198 54v1M198 62v1M198 64v1M198 68v1M198 78v1M198 81v2M198 90v1M198 99v1M198 108v1M198 110v1M198 112v2M198 115v1M199 22v1M199 29v1M199 52v1M199 70v1M199 75v2M199 80v1M199 83v1M199 86v2M199 103v1M199 108v2M199 112v1M199 116v1M200 21v1M200 27v1M200 62v2M200 65v1M200 73v1M200 75v1M200 78v1M200 82v1M200 85v1M200 87v2M200 90v1M200 92v1M200 94v1M200 96v1M200 103v1M200 107v1M200 115v2M201 55v1M201 67v1M201 77v1M201 83v1M201 87v1M201 97v2M201 101v1M201 106v1M201 108v3M202 10v1M202 14v1M202 20v1M202 35v1M202 66v1M202 76v2M202 83v2M202 92v1M202 96v1M202 99v1M202 101v1M202 106v4M202 114v1M202 116v1M203 52v1M203 54v1M203 61v2M203 67v2M203 76v1M203 81v1M203 84v1M203 87v1M203 90v1M203 95v1M203 100v1M203 102v1M203 107v2M203 110v1M203 113v2M203 116v1M204 6v1M204 61v1M204 75v1M204 83v1M204 85v2M204 95v1M204 99v2M204 105v5M204 111v1M204 114v1M205 0v2M205 6v1M205 13v1M205 15v1M205 33v1M205 48v1M205 63v1M205 72v1M205 77v1M205 79v1M205 87v1M205 90v1M205 105v1M205 107v1M205 109v1M206 2v1M206 6v3M206 15v2M206 19v1M206 27v2M206 30v1M206 33v1M206 37v1M207 5v1M207 8v1M207 16v1M207 25v1M207 36v2M207 48v1M208 4v1M208 22v1M208 41v1M208 65v1M209 9v1M209 21v1M209 33v1M209 88v1M209 102v1M209 105v1M210 11v1M210 20v1M210 31v2M210 35v1M210 40v1M210 51v2M210 71v1M210 91v1M210 98v1M210 114v1M211 4v1M211 11v1M211 27v1M211 32v1M211 45v1M211 51v1M211 95v1M211 101v1M211 107v1M212 25v1M212 35v1M212 72v1M213 11v1M213 20v1M213 77v1M214 5v1M214 10v1M214 19v1M214 24v2M214 31v1M214 48v1M214 95v1M214 108v1M215 3v1M215 13v1M215 29v1M215 31v1M216 0v1M216 4v1M216 7v1M216 12v1M216 16v2M216 31v1M216 39v1M216 41v1M216 48v2M216 58v3M216 101v1M216 112v1M217 1v1M217 9v1M217 19v2M217 22v1M217 31v2M217 34v5M217 42v2M217 47v2M217 51v1M217 79v1M217 83v1M218 0v1M218 3v1M218 13v2M218 19v2M218 23v1M218 35v1M218 40v2M218 48v2M218 53v1M218 55v2M218 59v1M218 62v8M218 84v2M218 89v1M219 2v1M219 6v2M219 12v1M219 15v3M219 19v2M219 25v1M219 30v2M219 42v1M219 46v2M219 49v1M219 55v1M219 60v1M219 67v1M219 70v1M219 74v1M219 76v1M219 83v1M219 88v1M219 101v1M219 103v1M220 0v1M220 2v1M220 5v2M220 9v1M220 18v2M220 28v1M220 35v1M220 38v1M220 40v1M220 43v1M220 48v3M220 53v1M220 55v1M220 57v1M220 59v1M220 61v1M220 66v1M220 70v2M220 74v1M220 77v3M220 81v1M220 83v1M220 86v1M220 88v1M221 0v3M221 4v1M221 6v2M221 12v1M221 20v1M221 22v1M221 24v2M221 30v3M221 34v1M221 39v2M221 46v1M221 48v1M221 52v3M221 58v1M221 64v1M221 68v1M221 70v2M221 75v1M221 85v1M221 87v1M221 90v1M221 94v1M221 105v1M222 1v1M222 5v2M222 10v1M222 21v1M222 24v1M222 29v2M222 34v3M222 40v1M222 42v1M222 50v2M222 57v1M222 65v1M222 77v2M222 80v1M222 86v2M223 0v2M223 4v1M223 9v1M223 13v1M223 23v1M223 25v3M223 29v1M223 32v2M223 37v1M223 39v2M223 45v2M223 51v1M223 54v1M223 59v2M223 64v2M223 67v2M223 70v1M223 75v1M223 78v1M223 83v1M223 116v1M224 2v1M224 4v1M224 6v1M224 21v1M224 24v1M224 26v2M224 31v4M224 37v3M224 43v1M224 48v1M224 51v2M224 58v1M224 60v2M224 65v1M224 68v1M224 74v2M224 87v1M224 89v1M224 100v1M225 1v1M225 3v1M225 8v1M225 11v2M225 14v1M225 23v1M225 29v2M225 33v2M225 36v2M225 52v1M225 54v1M225 60v1M225 68v1M225 88v1M225 92v1M225 98v1M226 0v1M226 11v2M226 16v1M226 19v1M226 25v1M226 29v1M226 52v1M226 69v1M226 83v1M226 105v1M227 13v1M227 25v1M227 42v1M227 44v1M227 62v1M227 74v1M227 82v1M227 88v1M228 1v1M228 5v1M228 9v3M228 21v1M228 29v1M228 50v1M228 72v1M228 76v1M229 6v1M229 14v1M229 21v1M229 26v1M229 28v2M229 31v2M229 37v1M229 41v1M229 44v1M229 51v1M229 53v1M229 62v1M229 73v1M229 115v1"/>
</g>
<rect x="394.8" y="192.9" width="230.7" height="117.5" fill="#ee1400"/>
<path fill="none" stroke="#bf0000" stroke-width="0.98" transform="translate(395.18 192.9) scale(0.76900 1.50641)" d="M0 2v1M0 5v1M0 16v1M0 32v3M0 37v1M0 54v2M1 5v2M1 11v1M1 16v2M1 37v1M1 42v1M1 44v1M1 47v2M1 61v1M1 63v1M1 75v3M2 0v3M2 14v1M2 26v1M2 28v2M2 40v1M2 44v3M2 68v1M3 10v1M3 12v1M3 16v1M3 69v1M3 77v1M4 0v2M4 3v2M4 28v1M4 71v4M5 2v2M5 5v2M5 29v5M5 62v2M5 68v1M5 77v1M6 0v1M6 21v2M6 25v4M6 34v2M6 40v2M6 48v3M6 59v3M6 72v1M6 75v3M7 2v1M7 22v1M7 38v2M7 50v1M7 64v2M8 10v5M8 16v2M8 27v1M8 41v2M8 61v3M8 66v1M8 74v1M9 1v3M9 7v1M9 34v1M9 53v3M9 58v1M9 67v1M10 0v2M10 4v1M10 8v2M10 24v2M10 49v1M10 56v1M10 71v1M11 0v2M11 22v2M11 29v2M11 32v1M11 61v1M11 71v2M12 8v1M12 25v1M12 36v2M12 48v2M12 51v3M12 58v1M12 63v1M12 66v1M13 3v3M13 12v2M13 18v2M13 28v1M13 37v1M13 54v3M13 58v2M13 73v1M13 77v1M14 3v1M14 11v1M14 13v1M14 24v2M14 53v1M14 58v1M14 64v1M14 69v1M15 2v1M15 10v2M15 19v1M15 33v3M15 44v1M15 71v2M16 21v2M16 30v2M16 38v1M16 46v1M16 53v1M16 55v2M16 75v3M17 2v1M17 8v1M17 18v1M17 23v1M17 36v2M17 67v2M17 70v2M17 77v1M18 19v1M18 31v2M18 36v1M18 55v1M18 66v1M19 0v3M19 9v1M19 21v1M19 28v1M19 45v1M19 52v1M19 57v2M19 67v1M20 4v1M20 39v1M20 44v1M20 47v1M20 51v1M20 58v2M20 75v2M21 11v4M21 18v2M21 21v4M21 27v2M21 40v2M21 58v1M21 69v1M22 21v1M22 32v3M22 54v2M22 70v2M23 0v3M23 5v2M23 53v2M24 13v1M24 31v1M24 40v2M24 60v1M24 77v1M25 2v2M25 16v1M25 42v1M25 53v1M25 57v3M25 61v1M25 71v1M26 0v1M26 8v3M26 14v1M26 45v1M26 47v2M26 68v2M27 5v3M27 33v1M27 58v2M27 66v2M27 76v1M28 7v1M28 17v1M28 46v2M28 52v2M28 67v2M28 70v4M29 13v1M29 25v1M29 46v1M29 50v2M30 5v2M30 14v2M30 28v1M30 36v2M30 52v1M30 56v2M30 71v1M30 73v2M31 6v1M31 8v2M31 32v2M31 37v1M31 48v2M31 67v2M31 73v1M31 77v1M32 7v4M32 39v2M32 47v1M32 65v2M32 73v3M33 0v2M33 10v2M33 40v1M33 65v2M34 2v1M34 27v1M34 44v1M34 53v2M34 60v1M34 69v1M35 2v1M35 18v1M35 25v1M35 31v3M35 35v1M35 42v1M35 48v1M36 24v3M36 34v1M36 54v2M36 68v1M36 76v1M37 2v1M37 5v1M37 15v2M37 23v1M37 27v1M37 39v1M37 46v1M37 50v1M37 68v1M37 72v1M37 75v2M38 2v2M38 11v2M38 16v1M39 15v1M39 22v2M39 27v2M39 69v1M40 20v2M40 27v2M40 35v1M40 43v2M40 51v1M40 63v2M40 72v1M41 2v2M41 19v1M41 22v3M41 29v1M41 41v2M41 69v1M41 71v2M42 20v2M42 28v1M42 30v2M42 44v2M42 55v2M42 68v2M43 30v1M43 40v5M43 47v2M43 52v1M43 61v2M43 72v1M44 3v2M44 12v2M44 15v1M44 38v2M44 62v2M44 65v1M44 76v1M45 5v1M45 9v2M45 13v1M45 17v6M45 31v1M45 45v2M45 55v2M45 65v2M45 70v1M46 3v2M46 8v1M46 20v2M46 32v3M46 45v1M46 56v1M47 0v2M47 9v1M47 27v2M47 37v1M47 42v2M47 57v1M47 61v1M47 64v1M48 2v2M48 7v1M48 10v1M48 20v1M48 22v1M48 29v3M48 39v1M48 49v2M48 52v1M48 57v1M48 66v1M48 68v2M49 0v1M49 30v2M49 43v1M49 53v1M49 57v1M50 3v1M50 5v1M50 7v3M50 13v3M50 28v2M50 56v4M50 72v1M50 75v2M51 11v1M51 20v4M51 25v1M51 30v2M51 53v1M51 69v1M51 75v1M52 0v2M52 28v1M52 34v1M52 50v1M52 56v1M52 60v2M52 64v1M53 3v1M53 5v2M53 8v1M53 19v2M53 32v1M53 40v3M53 56v2M53 68v2M53 71v2M54 3v1M54 15v2M54 33v1M54 37v1M54 41v2M54 45v1M54 68v1M55 0v1M55 6v1M55 8v1M55 17v1M55 51v1M56 2v1M56 10v1M56 13v1M56 25v2M56 31v3M56 36v1M56 39v3M56 43v1M56 48v1M56 50v1M56 53v2M56 74v1M57 17v2M57 24v2M57 54v2M57 57v2M57 60v3M57 70v1M58 7v4M58 13v1M58 22v2M58 34v2M58 54v1M58 68v2M59 3v1M59 5v1M59 27v1M59 37v1M59 48v1M59 57v2M59 69v4M60 13v1M60 50v2M60 58v2M60 69v2M61 0v2M61 9v1M61 20v1M61 66v2M61 71v1M62 4v2M62 8v2M62 32v2M62 49v2M62 54v1M62 57v1M62 65v1M63 8v1M63 13v1M63 35v1M63 38v2M63 47v1M63 67v2M63 70v1M64 12v2M64 27v1M64 60v2M64 65v1M64 70v2M65 26v2M65 69v1M66 0v1M66 16v1M66 22v1M66 28v1M66 40v1M66 43v3M66 48v2M66 73v1M67 2v1M67 14v2M67 35v1M67 54v4M67 72v1M67 76v2M68 2v1M68 16v2M68 30v1M68 42v1M68 51v1M68 66v1M68 68v3M69 8v1M69 12v1M69 17v1M69 24v2M69 44v3M69 50v2M69 66v2M69 76v2M70 15v2M70 30v1M70 33v3M70 39v1M70 46v1M70 52v1M70 57v1M71 21v1M71 62v1M71 71v2M72 2v2M72 6v2M72 13v1M72 18v1M72 24v1M72 31v3M72 35v2M72 48v1M72 67v2M73 0v1M73 11v1M73 15v1M73 26v2M73 31v2M73 38v5M73 45v1M73 59v1M73 72v1M74 4v2M74 30v3M74 53v2M74 58v4M74 69v2M74 72v1M75 6v2M75 11v1M75 23v1M75 31v1M75 53v1M75 71v1M76 0v1M76 13v2M76 20v2M76 28v1M76 39v1M76 64v2M77 0v2M77 6v1M77 15v2M77 21v1M77 25v1M77 34v2M77 43v3M77 50v1M77 54v2M77 61v1M77 64v1M77 75v1M78 3v2M78 8v2M78 19v3M78 31v1M78 33v2M78 37v1M78 48v2M78 55v2M78 58v1M78 66v1M78 76v2M79 1v1M79 7v1M79 12v2M79 16v1M79 41v1M79 63v2M79 69v1M79 76v2M80 6v1M80 15v1M80 20v3M80 38v2M80 50v1M80 54v1M80 73v3M81 17v2M81 28v2M81 31v2M81 38v1M81 51v1M81 72v1M82 3v2M82 9v2M82 20v1M82 39v2M82 73v2M83 13v2M83 24v1M83 29v1M83 38v1M83 66v1M84 18v1M84 40v1M84 45v2M84 53v1M85 0v3M85 16v2M85 30v1M85 39v2M85 56v1M85 62v1M85 76v2M86 3v2M86 8v1M86 15v3M86 24v1M86 39v2M86 53v1M86 60v1M87 17v2M87 25v1M87 29v2M87 36v2M87 52v1M87 71v1M88 0v3M88 15v1M88 36v2M88 51v2M88 56v2M88 65v4M88 74v2M89 20v1M89 60v1M89 69v1M89 77v1M90 32v2M90 36v5M90 55v2M90 67v1M90 70v1M91 1v1M91 7v1M91 12v1M91 17v2M91 33v1M91 51v1M91 66v2M91 73v1M91 76v2M92 1v2M92 9v3M92 23v4M92 28v2M92 36v1M92 43v2M92 69v1M93 10v1M93 21v2M93 27v5M93 59v2M93 68v1M93 72v2M94 10v1M94 13v1M94 17v2M94 24v1M94 26v1M94 28v4M94 34v4M94 56v1M94 61v2M94 73v1M95 2v2M95 10v2M95 18v3M95 43v3M95 50v3M95 63v1M95 67v1M95 70v1M95 75v2M96 8v1M96 21v1M96 44v1M96 48v1M96 56v1M96 58v3M96 68v3M97 2v1M97 19v3M97 23v1M97 52v2M97 60v1M98 0v2M98 8v1M98 35v2M98 39v1M98 57v2M98 70v3M98 75v1M99 0v2M99 8v4M99 14v2M99 27v2M99 31v1M99 41v2M99 48v1M99 68v2M99 73v1M100 23v2M100 26v2M100 37v1M100 43v2M100 64v2M100 68v2M100 75v2M101 5v2M101 10v1M101 16v2M101 31v1M101 43v2M101 59v2M101 62v1M101 71v1M101 74v1M102 6v2M102 10v1M102 30v2M102 34v1M102 40v2M102 56v1M102 62v2M102 70v2M102 76v2M103 2v1M103 8v1M103 21v2M103 24v1M103 33v1M103 36v2M103 42v2M103 45v2M103 56v1M104 1v2M104 9v2M104 26v1M104 41v2M104 52v1M104 64v2M105 3v1M105 15v1M105 19v1M105 23v1M105 26v1M105 39v3M105 43v1M105 77v1M106 2v2M106 14v1M106 17v1M106 23v1M106 48v1M106 67v1M107 21v1M107 35v1M107 39v1M107 48v2M107 51v6M107 61v1M107 67v2M108 14v1M108 35v2M108 40v1M108 55v1M108 60v1M108 70v1M109 14v1M109 36v3M109 53v1M110 6v1M110 28v1M110 38v2M110 55v1M110 60v2M110 77v1M111 11v1M111 21v1M111 41v2M111 46v2M111 51v1M111 53v3M111 60v1M111 65v1M111 69v1M112 4v1M112 7v2M112 17v1M112 19v2M112 37v2M112 42v1M112 45v1M112 61v1M112 65v1M113 10v1M113 13v2M113 19v1M113 41v2M113 63v1M113 69v2M114 1v2M114 8v2M114 28v2M114 32v1M114 55v1M114 57v2M114 64v2M114 69v2M114 72v1M115 0v2M115 5v3M115 17v1M115 19v2M115 41v2M115 49v2M115 53v2M115 56v2M115 65v1M115 76v2M116 1v2M116 4v1M116 12v1M116 25v1M116 51v1M116 53v2M116 66v1M117 3v2M117 12v1M117 25v1M117 32v1M117 35v1M117 39v2M117 43v3M117 54v2M117 57v4M117 62v2M117 75v1M118 2v1M118 4v1M118 7v1M118 30v1M118 33v3M118 51v1M118 58v2M118 61v1M118 74v1M119 1v1M119 14v1M119 54v2M119 69v1M119 73v2M120 2v2M120 20v1M120 23v1M120 41v3M120 50v1M120 53v1M120 55v2M120 68v2M120 75v2M121 6v1M121 16v2M121 30v1M121 34v1M121 47v1M121 53v1M122 0v1M122 20v1M122 24v1M122 43v1M122 57v1M122 64v1M123 55v2M123 61v1M124 7v1M124 10v1M124 13v2M124 25v2M124 33v1M124 36v1M124 47v1M124 56v2M124 59v2M125 0v2M125 6v2M125 16v1M125 21v1M125 29v3M125 33v1M125 37v1M125 43v1M125 65v2M126 2v1M126 25v2M126 34v1M126 39v1M126 62v1M126 70v1M126 75v1M127 13v1M127 22v1M127 63v1M127 71v2M128 3v1M128 8v2M128 17v3M128 30v1M128 40v1M128 73v1M129 31v1M129 42v1M129 54v1M129 58v1M129 65v1M129 70v2M129 75v1M129 77v1M130 9v1M130 47v1M130 49v1M130 62v1M130 65v2M130 76v2M131 11v1M131 20v2M131 48v2M132 0v2M132 6v1M132 14v2M132 26v2M132 38v2M132 58v2M132 71v2M133 3v2M133 7v1M133 12v1M133 17v1M133 31v2M133 41v2M133 44v1M133 46v1M133 62v1M134 4v2M134 9v1M134 12v1M134 16v1M134 30v2M134 36v2M134 40v1M134 44v1M134 48v1M134 50v2M134 55v1M134 61v1M134 66v2M135 9v1M135 13v1M135 16v1M135 36v1M135 77v1M136 4v1M136 6v1M136 10v1M136 20v2M136 25v2M136 28v1M136 34v1M136 40v2M136 43v1M136 47v2M136 62v5M136 77v1M137 4v1M137 16v2M137 36v1M137 40v1M137 43v1M137 50v2M137 56v1M137 63v4M137 77v1M138 13v2M138 20v3M138 27v2M138 37v1M138 47v2M138 54v2M138 57v2M138 62v1M139 34v2M139 39v1M139 43v1M139 49v1M140 1v1M140 18v1M140 38v1M140 40v2M140 66v1M140 71v1M141 9v1M141 15v2M141 25v2M141 36v2M141 45v2M141 49v2M141 56v2M141 66v2M142 7v2M142 10v1M142 29v1M142 38v1M142 46v1M142 60v1M142 75v3M143 0v1M143 2v2M143 11v1M143 15v1M143 29v2M143 42v4M143 51v3M143 57v1M143 62v1M143 77v1M144 9v3M144 29v2M144 39v1M144 47v2M145 7v1M145 13v1M145 16v1M145 20v2M145 43v1M145 48v1M145 65v2M146 11v1M146 22v1M146 27v2M146 36v1M146 40v1M146 47v1M146 54v1M146 67v1M147 6v1M147 33v1M147 58v1M148 7v1M148 18v1M148 29v2M148 37v2M148 42v2M148 47v1M148 53v1M148 55v3M148 68v2M148 77v1M149 0v1M149 14v1M149 17v1M149 34v1M149 57v1M149 60v1M150 9v2M150 25v1M150 40v4M150 49v1M150 51v2M150 76v2M151 26v1M151 36v1M151 62v1M151 72v2M152 2v2M152 7v3M152 22v1M152 31v1M152 34v2M152 54v1M152 66v1M153 12v1M153 19v1M153 26v2M153 43v2M153 59v2M154 55v2M154 65v2M154 68v1M154 77v1M155 5v2M155 18v1M155 35v1M155 70v1M156 7v1M156 31v1M156 35v1M156 38v1M156 40v2M156 51v1M156 73v2M156 76v1M157 19v2M157 28v3M157 33v1M157 40v1M157 50v1M157 62v2M157 68v1M158 18v1M158 20v1M158 24v4M158 31v1M158 37v1M158 46v1M158 59v1M158 71v1M159 40v2M159 48v3M159 57v1M159 60v1M159 68v2M159 72v1M159 77v1M160 1v5M160 10v1M160 31v1M160 68v2M160 73v2M161 6v2M161 14v3M161 28v1M161 49v2M161 66v2M161 73v2M162 22v2M162 26v1M162 37v2M162 42v2M162 47v2M162 59v1M163 25v2M163 47v1M163 55v1M163 68v1M164 7v1M164 12v1M164 25v1M164 28v2M164 48v2M164 54v1M164 59v1M164 63v1M165 6v1M165 11v2M165 30v2M165 38v1M165 44v1M165 60v1M165 62v3M165 66v1M165 70v1M165 75v1M166 8v1M166 42v1M166 46v2M166 51v1M166 57v1M166 70v1M167 10v1M167 46v2M167 52v5M167 69v2M168 12v1M168 16v1M168 30v2M168 42v1M168 53v1M168 55v1M168 62v2M169 12v2M169 16v3M169 20v1M169 35v1M169 38v1M169 44v1M170 11v2M170 14v2M170 28v2M170 35v4M170 43v1M170 49v2M170 52v4M170 67v2M170 71v2M171 9v2M171 34v1M171 48v1M171 50v1M171 57v1M171 76v1M172 3v1M172 6v1M172 31v3M172 41v1M172 51v1M173 4v1M173 15v2M173 22v1M173 29v1M173 44v1M173 48v1M173 59v1M173 68v1M173 70v4M174 14v1M174 16v2M174 19v2M174 33v1M174 46v2M174 53v1M175 2v1M175 15v1M175 31v1M175 38v2M175 55v2M175 60v1M175 62v2M175 68v1M176 0v2M176 9v1M176 18v1M176 24v2M176 32v1M176 34v1M176 37v1M176 55v2M176 63v1M177 0v2M177 4v2M177 7v2M177 22v3M177 26v1M177 32v3M178 15v1M178 20v1M178 42v1M178 62v2M178 67v1M178 70v2M179 13v3M179 30v2M179 33v2M179 36v5M179 57v1M179 60v1M179 73v2M180 2v4M180 7v2M180 50v2M180 63v1M181 5v2M181 17v1M181 23v1M181 26v1M181 33v1M181 43v1M181 46v1M181 64v1M182 0v2M182 14v1M182 29v1M182 31v1M182 38v1M182 48v1M182 51v1M183 30v2M183 52v1M183 62v1M183 65v2M183 72v1M183 76v1M184 5v1M184 10v1M184 14v2M184 34v4M184 39v1M184 49v2M184 55v1M184 63v2M185 14v1M185 28v1M185 36v1M185 51v2M185 56v1M185 62v2M186 4v1M186 8v1M186 30v2M186 39v1M186 41v2M186 66v2M186 71v2M187 19v1M187 22v2M187 37v2M187 43v1M187 47v1M187 54v1M187 57v1M188 3v1M188 5v1M188 22v1M188 26v2M188 32v1M188 38v1M188 43v1M188 59v2M188 73v1M189 23v2M189 31v1M189 54v1M189 75v1M189 77v1M190 15v2M190 24v1M190 67v3M191 0v2M191 5v2M191 13v3M191 22v3M191 39v1M191 46v1M191 50v1M191 57v1M191 69v2M191 72v2M192 5v2M192 15v1M192 27v1M192 46v1M192 51v4M192 57v2M192 63v1M192 75v2M193 17v1M193 41v1M193 45v1M193 49v2M193 55v1M193 69v1M194 3v2M194 7v2M194 11v5M194 22v2M194 68v1M194 76v1M195 5v2M195 18v4M195 27v1M195 31v1M195 38v1M195 46v1M195 63v1M195 69v1M195 75v2M196 19v1M197 2v1M197 4v3M197 10v2M197 15v3M197 21v1M197 25v1M197 29v2M197 34v1M197 37v1M197 49v1M197 66v5M198 3v5M198 14v2M198 18v1M198 26v1M198 35v1M198 38v2M198 44v2M198 53v1M198 62v1M198 67v4M199 2v1M199 4v1M199 11v1M199 15v2M199 45v1M199 48v1M199 65v2M199 73v2M200 12v2M200 22v2M200 76v2M201 2v2M201 5v1M201 19v3M201 42v1M201 66v1M201 72v1M202 2v2M202 6v2M202 16v2M202 19v1M202 54v1M202 57v3M202 62v2M202 67v2M202 75v2M203 4v1M203 18v2M203 22v2M203 25v2M203 35v1M203 42v1M203 48v1M203 56v2M203 76v1M204 1v3M204 11v1M204 14v1M204 17v1M204 25v1M204 28v1M204 33v1M204 42v1M204 48v1M204 53v1M204 55v2M204 71v1M204 74v1M205 8v1M205 11v1M205 14v2M205 17v2M205 22v2M205 36v1M205 55v2M205 68v2M205 73v2M206 0v2M206 9v1M206 15v1M206 25v1M206 39v2M206 51v1M206 71v1M207 19v1M207 31v1M207 37v1M207 40v1M207 42v1M207 50v1M207 53v2M207 71v2M207 75v3M208 20v1M208 28v1M208 32v2M208 37v1M208 40v1M208 45v1M208 55v2M208 76v1M209 7v2M209 15v2M209 27v1M209 29v2M209 37v1M209 39v3M209 49v1M209 58v2M209 63v2M209 67v1M209 70v1M210 10v1M210 27v2M210 51v2M210 66v2M210 74v2M211 3v1M211 6v2M211 23v1M211 50v1M211 57v2M211 62v1M211 71v3M211 75v2M212 30v1M212 41v2M212 55v1M213 9v2M213 15v1M213 17v1M213 32v1M213 40v1M213 53v3M213 70v1M213 72v2M214 4v2M214 16v1M214 37v1M214 41v2M215 2v2M215 31v1M215 37v1M215 51v2M215 64v1M215 76v2M216 19v1M216 27v1M216 46v1M216 56v2M216 61v1M216 70v1M217 6v1M217 14v1M217 20v1M217 23v1M217 26v1M217 32v2M217 35v1M217 46v3M217 54v1M217 72v1M218 7v2M218 11v2M218 23v1M218 26v1M218 40v1M218 42v1M218 51v1M218 66v2M218 71v1M219 41v1M219 72v1M219 74v2M220 7v1M220 26v2M220 38v3M220 47v2M220 51v1M220 58v2M220 64v2M220 67v1M220 70v2M220 75v2M221 8v1M221 21v1M221 33v3M221 40v1M221 73v2M222 5v1M222 12v2M222 24v2M222 29v1M222 42v2M222 47v2M222 59v1M222 67v1M223 6v2M223 15v1M223 23v1M223 36v1M223 45v2M223 54v1M223 66v2M224 0v1M224 2v1M224 5v2M224 10v2M224 14v1M224 26v3M224 33v1M224 36v3M224 41v1M224 46v2M224 61v1M225 6v1M225 15v1M225 47v1M225 54v1M226 1v3M226 8v1M226 16v1M226 25v3M226 35v1M226 45v1M226 58v1M226 65v1M226 77v1M227 0v2M227 19v4M227 45v3M227 59v1M227 62v2M227 66v2M227 69v2M227 73v4M228 17v2M228 39v1M228 71v1M229 0v1M229 45v2M229 48v1M229 50v2M229 56v1M229 66v2M230 50v2M230 54v2M230 74v1M230 76v1M231 6v1M231 10v1M231 13v2M231 24v2M231 31v3M231 44v1M231 68v3M232 8v2M232 25v2M232 38v2M232 41v1M232 52v1M232 63v2M232 69v1M233 10v1M233 14v2M233 26v2M233 29v2M233 37v2M233 56v1M233 64v1M234 15v1M234 29v2M234 34v2M234 39v1M234 57v1M234 64v2M234 72v1M235 0v1M235 23v1M235 36v1M235 40v1M235 45v2M235 49v2M235 72v2M235 75v3M236 13v1M236 25v1M236 53v2M237 9v1M237 25v1M237 49v1M237 52v1M237 56v2M238 19v2M238 42v1M238 44v1M238 55v2M238 72v1M239 1v1M239 3v3M239 7v2M239 18v2M239 36v1M239 43v1M239 53v1M239 57v1M239 70v1M240 2v2M240 13v2M240 23v1M240 55v1M240 72v2M241 9v1M241 23v1M241 32v1M241 40v3M241 50v1M241 63v2M242 23v2M242 27v2M242 30v2M242 33v3M242 37v2M242 56v2M242 65v2M243 9v1M243 16v1M243 18v5M243 36v1M243 41v1M243 45v1M243 47v1M243 56v1M243 75v2M244 4v1M244 10v1M244 36v1M244 38v2M244 42v3M244 49v1M244 55v2M244 61v1M244 63v3M244 76v1M245 1v1M245 18v3M245 27v1M245 55v1M245 73v1M246 13v2M246 20v2M246 56v1M246 64v2M246 74v1M246 77v1M247 11v2M247 19v1M247 33v1M247 36v1M247 38v2M247 57v3M247 64v2M247 71v2M247 74v1M248 4v1M248 9v1M248 38v3M248 47v1M248 50v2M248 62v2M249 13v1M249 19v2M249 23v1M249 31v1M249 57v2M249 71v1M249 76v1M250 2v1M250 9v1M250 19v2M250 24v2M250 37v1M250 42v2M250 46v1M250 60v2M250 68v1M251 2v2M251 9v3M251 17v1M251 22v2M251 33v1M251 37v3M251 41v1M251 56v2M251 73v2M252 11v1M252 25v1M252 37v1M252 39v2M252 48v1M252 54v2M252 62v1M252 75v1M253 1v2M253 5v1M253 12v1M253 33v2M253 42v2M253 54v1M253 61v1M253 64v1M254 0v1M254 4v2M254 13v2M254 23v1M254 39v1M254 51v3M254 65v2M254 75v1M255 7v3M255 26v2M255 38v3M255 44v1M255 53v4M255 58v2M255 68v2M256 13v2M256 50v3M256 57v2M256 61v1M256 64v1M256 70v1M257 0v1M257 5v1M257 12v2M257 17v4M257 34v1M257 43v1M257 45v1M257 52v4M257 59v2M257 66v1M258 5v2M258 19v1M258 25v1M258 27v1M258 30v1M258 42v1M258 47v2M258 74v2M259 0v1M259 3v2M259 10v3M259 21v2M259 24v1M259 27v2M259 31v2M259 37v1M259 42v2M259 46v1M259 58v2M259 75v1M260 26v4M260 37v2M260 41v1M260 44v1M260 70v1M260 76v1M261 6v6M261 19v1M261 23v1M261 48v2M261 53v2M261 63v1M261 67v1M261 73v2M262 20v3M262 51v2M262 55v1M262 59v1M262 73v2M262 77v1M263 0v2M263 25v1M263 29v1M263 37v1M263 40v2M263 46v1M263 51v2M263 69v1M263 71v1M263 77v1M264 4v1M264 12v2M264 41v2M264 51v2M264 77v1M265 9v2M265 17v2M265 30v5M265 52v1M265 56v1M265 76v1M266 13v4M266 24v2M266 35v1M266 46v1M266 64v2M266 77v1M267 2v1M267 11v1M267 27v1M267 33v1M267 52v2M267 60v2M267 72v1M268 4v1M268 9v2M268 19v2M268 32v2M268 36v3M268 46v2M268 70v2M269 0v1M269 37v4M269 47v2M269 71v2M270 3v2M270 9v1M270 11v2M270 22v1M270 30v2M270 40v2M270 47v2M270 62v1M270 67v1M270 73v2M271 0v1M271 4v1M271 9v2M271 13v2M271 26v1M271 38v1M271 49v1M271 59v1M271 64v1M272 9v2M272 28v1M272 33v1M272 36v1M272 42v1M272 48v4M272 58v1M272 63v1M272 72v1M273 13v2M273 22v2M273 31v2M273 38v1M273 48v1M273 56v1M273 68v1M273 73v1M274 19v1M274 31v3M274 48v1M274 57v1M274 67v2M275 11v1M275 13v2M275 23v1M275 33v1M275 52v4M275 68v2M276 0v1M276 14v1M276 32v2M276 50v1M276 71v1M277 1v1M277 18v2M277 28v1M277 33v4M277 66v1M278 6v1M278 24v2M278 27v1M278 35v2M278 49v2M278 57v1M278 59v1M278 62v2M278 75v3M279 9v1M279 12v2M279 20v1M279 26v1M279 46v2M279 63v1M279 66v1M279 71v2M279 75v1M280 6v2M280 14v5M280 20v1M280 39v1M280 42v2M280 61v1M280 73v2M281 3v1M281 32v2M281 53v1M281 73v2M282 12v2M282 18v1M282 35v2M282 43v1M282 64v2M283 6v1M283 9v1M283 25v1M283 42v1M283 52v2M283 63v1M283 69v1M284 7v1M284 31v2M284 45v1M284 50v1M284 68v3M285 3v2M285 10v2M285 37v1M286 6v1M286 33v2M286 47v2M286 59v2M287 0v2M287 3v1M287 8v1M287 29v2M287 32v2M287 35v3M287 40v1M287 50v2M287 64v2M287 73v3M288 10v1M288 15v2M288 38v1M288 40v1M288 60v1M288 64v1M288 67v1M289 18v1M289 31v3M289 56v2M289 63v1M289 66v1M289 71v2M289 77v1M290 1v2M290 22v2M290 30v2M290 33v1M290 47v1M290 58v2M290 66v2M290 75v2M291 28v1M291 41v3M291 46v1M291 72v2M291 77v1M292 7v1M292 19v3M292 28v1M292 33v1M292 39v1M292 49v1M292 63v1M292 70v1M292 74v1M293 5v2M293 16v2M293 36v2M293 41v1M293 44v2M293 51v3M293 63v3M293 71v1M293 74v1M294 20v2M294 24v1M294 32v2M294 37v1M294 41v1M294 44v1M294 49v2M294 52v2M294 57v2M294 76v1M295 6v2M295 19v2M295 38v2M295 48v1M295 55v1M295 62v3M295 68v2M295 73v2M296 4v1M296 16v2M296 22v2M296 40v1M296 58v1M297 26v1M297 34v1M297 37v1M297 42v3M297 58v1M297 70v2M298 3v2M298 13v1M298 23v1M298 39v1M298 63v1M298 65v1M298 76v2M299 3v1M299 9v1M299 23v2M299 26v2M299 29v1M299 32v1M299 41v1M299 50v1M299 59v1M299 75v2"/>
<path fill="none" stroke="#ff4a00" stroke-width="0.98" transform="translate(395.18 192.9) scale(0.76900 1.50641)" d="M0 6v2M0 20v1M0 27v2M0 49v1M0 51v2M0 56v2M0 63v1M1 26v1M1 31v1M1 36v1M1 71v1M2 17v1M2 22v2M2 75v2M3 1v2M3 4v4M3 22v1M3 24v2M3 33v1M3 50v1M3 54v1M3 57v1M3 68v1M3 74v2M4 2v1M4 5v2M4 11v1M4 15v1M4 19v4M4 47v4M4 56v1M4 70v1M5 4v1M5 11v1M5 17v2M5 41v1M5 43v2M5 52v1M5 59v2M5 65v1M6 11v1M6 16v2M6 31v2M6 36v1M6 42v1M6 51v1M6 57v1M6 64v1M7 0v1M7 8v3M7 21v1M7 25v1M7 29v2M7 43v1M7 48v2M7 63v1M7 66v1M8 0v2M8 3v2M8 32v1M8 64v1M8 67v2M8 72v2M8 75v2M9 11v3M9 19v4M9 47v1M9 50v2M9 70v2M9 74v1M10 14v3M10 18v1M10 36v1M10 43v1M10 47v1M10 51v1M10 69v2M10 73v1M10 76v2M11 21v1M11 38v1M11 42v1M11 48v2M11 51v2M11 64v2M11 69v1M12 3v1M12 14v1M12 31v2M12 39v1M12 57v1M13 1v1M13 7v1M13 38v1M13 41v2M13 45v1M13 53v1M13 57v1M13 61v4M13 66v1M14 4v1M14 7v2M14 12v1M14 36v1M14 47v2M14 51v1M14 54v1M14 67v1M14 74v2M15 17v2M15 27v2M15 38v1M15 43v1M15 45v1M15 52v1M15 61v1M15 63v2M16 0v1M16 10v2M16 16v1M16 39v4M16 51v2M16 64v2M16 71v2M17 5v1M17 16v2M17 30v1M17 33v3M17 40v1M17 46v1M17 64v2M18 4v3M18 11v2M18 23v1M18 40v2M18 48v1M18 52v2M18 58v1M18 63v2M18 70v1M19 11v2M19 30v1M19 32v2M19 42v3M19 56v1M20 8v2M20 14v1M20 35v2M20 42v2M20 54v1M20 56v2M20 77v1M21 8v1M21 44v1M21 49v1M21 51v1M21 57v1M21 62v1M21 64v1M22 6v1M22 18v2M22 36v1M22 57v1M22 66v2M23 9v3M23 14v1M23 23v1M23 36v2M23 40v1M23 43v2M23 51v1M24 0v2M24 28v3M24 46v1M24 55v2M24 59v1M24 65v3M24 71v2M24 75v2M25 0v2M25 4v1M25 15v1M25 25v1M25 33v2M25 66v2M25 74v2M26 7v1M26 28v2M26 36v1M26 61v1M26 73v1M27 16v1M27 24v1M27 31v2M27 35v1M27 39v1M27 45v2M27 60v1M27 63v1M27 72v1M28 8v2M28 48v3M28 58v2M29 18v1M29 27v1M29 36v1M29 43v3M29 54v2M29 61v1M29 63v2M29 68v1M30 7v1M30 9v1M30 18v1M30 30v2M30 40v2M30 47v1M30 55v1M30 63v1M30 67v2M31 0v1M31 3v2M31 17v1M31 31v1M31 35v2M31 38v1M31 65v1M31 74v1M32 24v1M32 32v2M32 35v1M32 43v1M32 51v3M32 62v1M32 70v1M33 2v1M33 7v2M33 23v1M33 33v2M33 74v2M34 16v1M34 28v2M34 31v1M34 35v2M34 45v3M34 57v1M35 20v2M35 23v1M35 44v2M35 65v1M35 73v2M36 2v1M36 10v1M36 48v1M36 50v2M36 61v1M36 63v1M36 71v1M36 73v2M37 3v2M37 22v1M37 24v1M37 51v1M38 13v1M38 34v2M38 43v2M38 47v1M38 58v3M38 74v2M39 10v1M39 24v3M39 35v1M39 39v2M39 77v1M40 3v1M40 7v3M40 17v1M40 25v1M40 33v1M40 36v2M40 50v1M40 61v1M40 74v1M41 0v1M41 4v1M41 8v2M41 15v2M41 32v4M41 40v1M41 46v1M41 50v2M41 66v2M41 73v2M42 15v1M42 41v1M42 50v1M42 57v2M42 60v2M43 0v1M43 7v2M43 17v2M43 24v1M43 27v2M43 56v1M43 59v1M43 63v1M43 73v3M43 77v1M44 5v1M44 9v3M44 23v1M44 32v1M44 44v2M44 52v1M44 60v1M44 67v2M45 38v1M45 60v2M45 64v1M45 67v3M45 75v2M46 2v1M46 6v2M46 11v2M46 22v1M46 24v4M46 31v1M46 47v2M46 63v1M46 74v1M46 77v1M47 26v1M47 34v1M47 38v1M47 45v3M47 52v1M47 71v3M47 77v1M48 11v1M48 25v1M48 37v1M48 44v1M48 58v1M48 77v1M49 3v4M49 15v1M49 17v1M49 34v2M49 39v1M49 46v1M49 62v2M49 65v1M49 70v3M50 6v1M50 21v1M50 31v1M50 35v1M50 47v1M50 73v2M51 3v2M51 15v2M51 45v1M51 50v3M51 54v1M51 68v1M51 70v1M52 5v2M52 19v1M52 22v1M52 27v1M52 31v2M52 38v5M52 48v2M52 52v1M52 54v2M52 63v1M52 70v2M53 2v1M53 11v1M53 17v2M53 22v1M53 51v2M53 55v1M53 58v1M53 61v1M53 70v1M54 4v3M54 25v4M54 31v1M54 38v2M54 52v1M54 55v1M54 57v2M54 62v1M54 64v1M54 72v1M55 5v1M55 29v1M55 31v2M55 38v2M55 61v1M55 66v3M55 76v2M56 5v2M56 30v1M56 35v1M56 37v2M56 58v2M56 72v2M56 76v2M57 1v3M57 40v1M57 56v1M57 59v1M57 75v1M58 3v1M58 11v2M58 19v1M58 48v1M58 52v2M58 74v1M59 0v1M59 6v2M59 9v1M59 19v1M59 22v1M59 35v1M59 41v2M59 44v1M59 49v1M59 51v1M59 59v2M60 0v1M60 6v2M60 36v1M60 40v1M60 43v1M60 47v2M60 62v1M60 66v1M60 74v2M61 8v1M61 16v2M61 51v1M61 55v1M61 58v1M61 76v2M62 6v1M62 13v1M62 15v3M62 23v1M62 31v1M62 35v2M62 44v5M62 73v1M63 0v2M63 9v1M63 19v2M63 41v1M63 49v2M63 53v3M63 69v1M63 72v2M64 0v5M64 6v1M64 10v1M64 23v1M64 25v1M64 31v1M64 41v1M64 56v1M64 73v1M64 76v1M65 6v1M65 11v1M65 40v1M65 50v2M65 68v1M65 70v2M65 74v1M66 3v2M66 14v2M66 19v2M66 30v3M66 65v1M66 74v2M67 12v1M67 22v3M67 30v3M67 37v1M67 47v1M67 59v2M67 68v1M68 3v1M68 26v1M68 29v1M68 31v1M68 41v1M68 49v2M68 57v1M68 76v1M69 9v1M69 14v1M69 16v1M69 26v1M69 28v3M69 33v1M69 39v1M69 49v1M69 58v2M69 71v2M70 1v2M70 5v1M70 24v2M70 38v1M70 40v1M70 43v1M70 51v1M70 66v2M71 10v1M71 19v2M71 41v1M71 50v2M71 75v1M71 77v1M72 37v4M72 49v1M72 52v1M72 55v1M72 58v1M72 66v1M72 71v2M73 24v2M73 37v1M73 61v2M73 67v1M73 74v1M74 19v1M74 27v1M74 35v3M74 45v2M74 57v1M74 62v2M74 76v1M75 19v1M75 22v1M75 24v1M75 27v1M76 4v1M76 27v1M76 44v2M76 51v3M76 61v2M76 69v1M77 24v1M77 36v1M77 48v2M77 69v2M77 74v1M77 76v2M78 17v1M78 23v1M78 27v1M78 63v3M79 6v1M79 21v2M79 33v2M79 60v1M79 74v1M80 9v1M80 14v1M80 28v1M80 35v1M80 43v2M80 51v2M80 55v1M81 0v2M81 4v1M81 22v2M81 33v2M81 37v1M81 48v2M81 52v1M81 62v1M81 64v1M81 73v2M81 77v1M82 0v2M82 5v1M82 23v1M82 33v2M82 61v2M82 66v3M82 71v1M82 76v2M83 6v1M83 11v1M83 34v2M83 49v1M83 57v1M83 65v1M83 76v2M84 8v1M84 13v1M84 24v1M84 29v4M84 36v1M84 48v1M84 59v4M85 11v3M85 26v1M85 31v2M85 35v2M85 55v1M85 59v1M85 67v1M86 2v1M86 7v1M86 10v1M86 21v3M86 26v2M86 31v2M86 34v1M86 41v4M86 49v2M86 54v2M86 61v2M86 68v3M87 8v2M87 11v1M87 27v1M87 31v1M87 35v1M87 53v2M88 3v1M88 8v2M88 22v1M88 31v2M88 50v1M88 53v1M88 61v2M88 64v1M89 6v2M89 14v1M89 22v1M89 26v1M89 33v3M89 46v2M89 70v1M89 74v2M90 10v1M90 14v2M90 22v1M90 31v1M90 45v1M90 61v1M90 68v1M91 0v1M91 38v2M91 49v1M91 52v3M91 59v2M91 64v2M92 4v1M92 14v1M92 21v1M92 31v4M92 47v3M92 52v2M92 57v1M92 61v3M92 71v1M92 73v3M93 0v2M93 4v2M93 13v1M93 15v2M93 46v1M93 54v1M93 63v2M94 16v1M94 19v1M94 25v1M94 32v1M94 38v1M94 46v1M94 52v3M94 74v1M95 7v3M95 16v2M95 21v3M95 55v2M95 64v2M95 73v2M96 19v2M96 24v2M96 30v5M96 39v3M96 43v1M96 49v2M96 73v2M97 0v2M97 11v1M97 14v3M97 35v1M97 54v1M97 56v1M97 61v1M97 64v1M97 66v1M98 2v2M98 32v1M98 37v1M98 44v2M98 51v2M98 59v1M98 76v2M99 3v1M99 5v2M99 12v1M99 19v2M99 22v1M99 35v1M99 43v1M99 54v2M99 58v1M99 64v2M99 71v2M99 76v1M100 0v2M100 16v2M100 29v2M100 47v1M100 53v2M100 56v1M100 63v1M101 7v2M101 11v3M101 18v2M101 37v1M101 47v2M101 51v1M101 54v2M101 72v2M101 77v1M102 9v1M102 15v1M102 67v1M102 73v2M103 20v1M103 29v1M103 32v1M103 39v1M103 50v1M103 57v3M103 61v1M103 65v2M103 70v1M103 75v1M104 13v1M104 31v2M104 45v3M104 55v2M104 58v6M104 66v3M104 71v1M104 74v2M105 2v1M105 9v4M105 20v2M105 28v1M105 37v2M105 52v3M105 66v4M105 73v4M106 4v1M106 27v1M106 31v1M106 37v2M106 44v1M106 55v1M106 63v2M106 66v1M107 29v1M107 50v1M107 60v1M107 62v2M107 70v1M108 7v2M108 16v1M108 24v2M108 27v1M108 37v1M108 43v2M108 46v2M108 57v2M108 71v1M109 3v2M109 13v1M109 20v1M109 23v1M109 26v2M109 35v1M109 39v2M109 45v1M109 51v1M109 73v1M110 16v1M110 25v1M110 41v2M110 54v1M110 65v2M110 75v1M111 20v1M111 36v2M111 63v1M111 66v1M111 77v1M112 1v2M112 33v1M112 50v2M112 75v1M113 0v2M113 24v1M113 28v1M113 35v2M113 39v1M113 44v1M113 64v1M113 75v1M114 3v4M114 14v1M114 24v2M114 44v1M114 47v1M114 68v1M114 77v1M115 2v1M115 8v2M115 22v2M115 30v2M115 38v2M115 55v1M115 67v2M115 72v2M115 75v1M116 0v1M116 7v2M116 11v1M116 13v1M116 29v1M116 33v3M116 37v2M116 46v1M116 52v1M116 64v1M116 77v1M117 0v1M117 16v1M117 21v1M117 47v1M117 53v1M117 74v1M118 0v2M118 26v1M118 47v1M118 53v2M118 63v1M118 66v2M118 73v1M119 15v1M119 39v1M119 44v1M119 52v1M119 60v1M119 65v1M119 68v1M119 72v1M120 7v1M120 10v1M120 14v2M120 30v1M120 48v2M120 54v1M120 73v1M121 2v3M121 11v2M121 15v1M121 18v1M121 56v3M121 61v2M121 73v2M122 3v1M122 12v2M122 17v3M122 29v1M122 38v2M122 47v2M122 52v1M122 62v2M122 74v2M123 11v1M123 16v1M123 19v1M123 29v1M123 36v1M123 42v1M123 59v1M123 67v1M123 75v1M124 23v2M124 37v1M124 42v3M124 58v1M124 64v2M124 69v1M125 15v1M125 51v1M125 64v1M125 75v2M126 0v2M126 16v1M126 30v1M126 42v2M126 71v1M127 0v1M127 20v2M127 30v5M127 45v1M127 50v2M127 54v1M127 57v2M127 68v1M128 0v1M128 10v1M128 14v1M128 23v2M128 51v3M129 55v1M130 0v2M130 17v1M130 25v1M130 42v1M130 44v3M130 52v1M130 67v1M130 75v1M131 6v1M131 12v2M131 17v1M131 30v1M131 45v1M131 52v3M131 60v2M131 67v1M132 7v2M132 18v1M132 32v2M132 44v1M132 55v1M132 68v2M132 76v2M133 10v2M133 16v1M133 21v1M133 34v2M133 40v1M133 48v2M133 58v1M133 61v1M133 71v1M134 8v1M134 13v1M134 18v1M134 43v1M134 54v1M134 72v1M135 0v1M135 3v1M135 6v2M135 10v1M135 20v1M135 33v2M135 48v2M135 56v1M135 59v6M135 74v1M136 12v2M136 56v2M136 60v1M136 76v1M137 2v1M137 19v1M137 22v2M137 33v2M137 44v1M137 48v1M137 52v1M138 0v1M138 6v2M138 19v1M138 29v2M138 33v1M138 38v1M138 43v2M138 50v3M138 56v1M138 59v2M138 75v1M139 3v1M139 7v2M139 10v1M139 14v2M139 18v3M139 28v1M139 37v2M139 40v1M139 63v1M139 72v3M140 6v2M140 14v3M140 23v5M140 39v1M140 55v1M140 60v1M140 72v1M140 74v1M141 1v1M141 5v1M141 13v2M141 22v1M141 29v2M141 38v2M141 48v1M141 54v2M141 60v1M141 63v2M141 73v1M142 2v1M142 12v1M142 20v2M142 25v2M142 33v1M142 39v2M142 43v1M142 47v1M142 51v3M142 56v4M142 62v1M143 1v1M143 12v1M143 16v2M143 20v2M143 32v2M143 58v1M143 64v2M144 5v2M144 21v1M144 33v3M144 56v3M144 64v1M144 68v1M144 74v1M145 0v2M145 8v3M145 32v4M145 39v1M145 53v1M145 67v1M145 71v2M146 3v1M146 12v2M146 39v1M146 44v3M146 48v2M146 60v1M146 65v2M147 14v2M147 17v4M147 28v1M147 34v2M147 44v1M147 50v1M147 55v2M147 61v1M148 2v2M148 8v1M148 12v3M148 16v2M148 31v1M148 54v1M149 7v1M149 28v2M149 32v2M149 35v1M149 38v2M149 45v1M149 48v1M149 52v3M149 62v1M149 69v1M150 8v1M150 32v1M150 44v2M150 59v2M150 63v2M150 69v1M151 7v3M151 27v1M151 33v1M151 45v1M151 47v1M151 50v1M151 52v1M151 57v2M151 64v1M152 0v2M152 10v1M152 18v1M152 26v4M152 40v1M152 49v1M152 64v2M152 67v2M153 16v1M153 20v2M153 25v1M153 53v1M153 56v2M153 61v1M153 71v2M154 11v1M154 22v2M154 36v2M154 47v3M154 69v1M154 74v1M155 0v1M155 10v1M155 19v2M155 29v1M155 40v1M155 56v1M155 62v3M155 71v1M156 2v3M156 13v2M156 29v2M156 32v1M156 44v1M156 52v1M156 68v1M156 71v2M157 6v1M157 34v3M157 38v1M157 43v1M157 67v1M157 75v1M158 3v1M158 8v1M158 16v2M158 23v1M158 29v2M158 38v4M158 60v1M158 72v2M158 75v2M159 3v2M159 11v2M159 33v2M159 36v1M159 73v1M159 76v1M160 20v2M160 23v1M160 29v2M160 36v2M160 40v1M160 44v1M160 46v2M160 53v2M160 71v2M160 75v2M161 29v2M161 33v1M161 38v2M161 46v2M161 53v1M161 75v1M162 1v2M162 12v2M162 20v2M162 51v2M162 70v1M162 76v2M163 22v1M163 46v1M163 49v1M163 64v2M164 2v2M164 8v2M164 18v3M164 39v1M164 51v3M164 55v1M165 20v1M165 29v1M165 37v1M165 40v4M166 0v1M166 35v1M166 41v1M167 1v1M167 23v2M167 35v1M167 42v2M167 66v3M167 71v2M168 0v2M168 6v2M168 19v5M168 25v2M168 28v2M168 33v2M168 44v3M168 59v2M168 66v1M168 69v3M169 15v1M169 36v1M169 53v2M170 10v1M170 32v1M170 34v1M170 42v1M170 51v1M170 64v2M171 15v1M171 23v2M171 29v2M171 42v2M171 46v1M171 58v2M171 72v2M172 9v3M172 52v1M172 54v3M172 70v2M172 76v1M173 3v1M173 21v1M173 23v1M173 37v2M173 45v2M173 50v1M173 52v1M173 55v1M173 61v1M173 64v1M174 21v1M174 26v2M174 39v1M174 43v1M174 66v1M174 69v1M175 3v1M175 5v3M175 9v2M175 14v1M175 17v1M175 21v2M175 40v2M175 54v1M175 64v1M176 2v1M176 4v4M176 29v3M176 33v1M176 38v2M176 54v1M176 59v1M176 67v2M177 9v1M177 14v1M177 25v1M177 29v1M177 40v2M177 46v2M177 52v2M177 60v1M177 76v2M178 6v1M178 19v1M178 24v1M178 27v1M178 44v1M178 50v2M178 55v1M178 72v2M179 9v2M179 20v1M179 22v1M179 28v1M179 49v2M179 52v1M179 61v2M179 69v1M180 10v1M180 31v1M180 34v1M180 40v1M180 56v3M180 64v1M181 0v3M181 44v1M181 51v2M181 65v3M181 72v1M181 76v1M182 4v1M182 15v1M182 19v1M182 40v2M182 52v3M182 63v1M183 0v2M183 15v2M183 24v1M183 27v1M183 36v1M183 48v1M183 53v2M183 58v1M183 69v1M183 73v1M183 77v1M184 2v1M184 6v1M184 24v2M184 30v1M185 10v1M185 18v1M185 42v1M185 46v3M185 53v2M185 65v3M185 71v2M185 77v1M186 1v1M186 20v1M186 24v3M186 33v2M186 45v1M186 58v1M187 3v1M187 9v1M187 13v1M187 20v1M187 24v2M187 31v2M187 39v2M187 48v2M187 58v2M187 64v2M187 67v1M187 74v2M188 13v2M188 23v1M188 29v1M188 61v2M188 65v3M188 74v1M189 0v1M189 6v1M189 16v3M189 22v1M189 27v2M189 43v2M189 48v1M189 66v2M189 74v1M190 13v2M190 26v2M190 31v2M190 37v1M190 48v2M190 51v1M190 61v2M190 70v2M190 75v3M191 4v1M191 9v1M191 16v1M191 25v1M191 40v1M191 44v1M191 47v1M191 71v1M192 8v1M192 11v1M192 23v1M192 30v1M192 41v2M192 50v1M192 64v2M193 13v2M193 53v2M193 71v2M193 76v1M194 2v1M194 19v1M194 32v1M194 34v3M194 53v2M194 60v1M194 67v1M195 0v1M195 14v1M195 32v4M195 37v1M195 44v1M195 51v1M196 2v2M196 16v2M196 20v2M196 27v1M196 39v1M196 53v2M196 59v2M196 73v2M197 12v1M197 26v1M197 47v1M197 55v1M197 57v2M197 63v1M197 71v4M198 13v1M198 17v1M198 19v2M198 25v1M198 40v2M198 50v1M198 59v3M198 63v2M198 73v1M198 75v1M199 0v1M199 7v2M199 10v1M199 14v1M199 17v2M199 21v2M199 30v1M199 35v1M199 42v1M199 46v2M199 51v1M199 55v1M199 59v2M199 75v1M200 0v2M200 5v2M200 14v2M200 19v3M200 29v2M200 45v3M200 54v2M200 58v2M200 61v1M200 73v1M201 1v1M201 10v1M201 53v1M201 55v1M201 60v1M201 71v1M201 75v1M202 0v2M202 5v1M202 22v1M202 37v3M202 44v1M202 52v2M203 5v2M203 8v1M203 34v1M203 40v2M203 45v2M203 61v3M204 15v1M204 41v1M204 45v2M204 54v1M204 57v2M205 20v2M205 26v1M205 28v1M205 30v2M205 37v1M205 47v3M205 58v2M205 77v1M206 7v2M206 23v1M206 30v1M206 36v3M206 42v1M206 47v2M206 62v2M206 72v1M207 3v2M207 23v1M207 25v1M207 27v1M207 58v3M207 64v1M208 23v1M208 25v2M208 43v1M208 61v2M208 65v1M208 67v2M208 71v2M208 74v2M209 0v1M209 36v1M209 50v2M209 71v1M209 77v1M210 14v1M210 25v2M210 31v1M210 39v2M210 60v1M210 65v1M211 0v2M211 16v2M211 21v1M211 36v1M211 70v1M211 74v1M212 3v1M212 36v1M212 49v1M212 54v1M212 56v2M212 66v1M212 73v1M212 76v1M213 22v1M213 26v2M213 48v1M213 51v1M213 61v1M214 10v1M214 14v2M214 22v1M214 28v1M214 31v1M214 36v1M214 46v1M214 59v1M214 61v1M214 68v1M214 70v1M214 76v2M215 13v2M215 35v2M215 42v2M215 46v5M215 53v1M215 67v1M215 71v1M216 4v2M216 13v2M216 28v3M216 35v4M216 43v1M216 48v2M216 62v1M216 67v2M216 71v2M217 7v2M217 44v2M217 52v1M217 55v1M217 65v1M217 73v1M217 76v2M218 18v2M218 25v1M218 38v1M218 63v1M219 1v2M219 18v1M219 22v1M219 27v1M219 48v6M219 71v1M220 0v1M220 25v1M220 28v1M220 30v1M220 37v1M220 72v2M221 7v1M221 20v1M221 30v3M221 45v1M221 53v3M221 65v2M222 3v2M222 7v2M222 39v2M222 49v1M222 55v1M222 61v2M222 70v4M223 9v1M223 13v1M223 37v1M223 40v1M223 50v2M223 63v1M223 69v2M223 73v1M223 76v1M224 23v1M224 29v2M224 32v1M224 40v1M224 48v3M224 58v1M225 0v2M225 16v1M225 28v1M225 53v1M225 60v1M225 73v1M225 75v2M226 9v1M226 17v3M226 46v4M226 59v1M226 61v2M226 67v1M227 3v2M227 25v1M227 31v1M227 38v4M227 72v1M228 0v1M228 15v2M228 21v2M228 44v2M228 50v2M228 57v1M228 59v1M229 2v2M229 9v1M229 33v1M229 41v2M229 49v1M229 62v2M229 73v5M230 6v1M230 10v2M230 25v2M230 30v1M230 33v1M230 38v2M230 43v2M230 61v1M230 69v2M230 77v1M231 5v1M231 11v1M231 19v2M231 36v1M231 52v1M232 3v1M232 10v2M232 15v1M232 30v3M232 66v1M232 73v2M233 0v2M233 11v3M233 19v2M233 25v1M233 31v3M233 45v1M233 47v2M233 65v1M234 11v1M234 18v1M234 31v1M234 38v1M234 40v2M234 44v3M234 50v1M234 62v1M234 68v1M234 73v3M234 77v1M235 9v1M235 26v2M235 29v2M235 41v2M235 71v1M236 0v3M236 17v2M236 23v1M236 28v2M236 33v1M236 52v1M237 14v1M237 20v3M237 27v1M237 31v2M237 54v1M237 71v2M238 6v2M238 11v2M238 35v3M238 57v2M238 64v1M238 68v1M238 77v1M239 0v1M239 6v1M239 10v1M239 13v1M239 22v1M239 40v2M239 62v1M239 68v2M239 77v1M240 16v1M240 26v1M240 30v2M240 42v1M240 54v1M240 59v1M240 62v3M240 71v1M241 1v2M241 28v2M241 33v2M241 49v1M241 53v1M241 58v1M241 62v1M241 77v1M242 58v1M242 70v1M242 74v1M243 1v2M243 25v2M243 28v3M243 50v3M243 61v2M243 64v2M243 73v1M244 15v2M244 18v2M244 21v1M244 29v2M244 37v1M244 54v1M244 57v2M244 60v1M244 62v1M245 8v1M245 17v1M245 22v1M245 29v2M245 32v1M245 38v4M245 48v1M245 61v3M245 69v2M246 9v1M246 17v2M246 31v4M246 55v1M246 57v1M246 63v1M247 0v2M247 4v2M247 9v1M247 21v1M247 41v5M247 48v1M247 62v1M248 13v1M248 30v1M248 41v1M248 48v2M248 60v2M248 67v1M248 72v2M249 2v1M249 50v1M249 53v3M249 63v1M249 66v1M249 77v1M250 5v3M250 14v2M250 36v1M250 47v2M251 4v1M251 27v1M251 31v2M251 34v1M251 59v2M251 65v1M251 68v1M252 5v1M252 23v1M252 34v2M252 45v2M252 52v1M252 65v2M252 70v2M253 21v1M253 27v1M253 29v2M253 32v1M253 40v2M253 44v2M253 49v2M253 58v2M253 71v1M254 7v2M254 22v1M254 24v2M254 33v2M254 40v4M254 48v2M254 55v2M254 61v1M254 70v1M254 77v1M255 0v1M255 3v1M255 12v1M255 15v2M255 25v1M255 31v2M255 34v2M255 48v2M256 5v1M256 30v1M256 33v2M256 37v6M256 53v2M256 62v2M257 40v3M257 46v1M257 58v1M257 63v1M257 74v1M258 20v2M258 53v1M258 64v1M258 73v1M259 23v1M259 26v1M259 34v2M259 38v1M259 53v3M259 62v2M260 9v1M260 15v1M260 31v3M260 36v1M260 42v2M260 54v1M260 59v1M260 74v1M261 0v1M261 13v1M261 27v1M261 33v1M261 40v1M261 55v1M261 75v3M262 0v3M262 8v1M262 17v1M262 66v1M262 68v2M262 71v2M262 76v1M263 12v1M263 14v2M263 18v2M263 28v1M263 42v2M263 55v1M263 64v1M263 76v1M264 0v1M264 5v1M264 45v1M264 64v2M264 76v1M265 1v1M265 3v2M265 13v1M265 23v1M265 45v2M265 64v1M266 19v4M266 26v2M266 49v1M266 56v2M266 68v2M266 75v2M267 3v2M267 6v2M267 10v1M267 16v2M267 19v1M267 21v2M267 25v1M267 34v1M267 37v1M267 42v1M267 55v2M267 58v1M267 73v1M267 77v1M268 21v1M268 24v2M268 54v3M268 67v3M268 74v2M269 5v2M269 15v2M269 36v1M269 44v1M269 49v3M269 59v3M269 67v1M269 70v1M269 74v1M270 8v1M270 27v3M270 36v1M270 38v2M270 54v2M270 57v2M270 76v2M271 5v1M271 7v2M271 28v3M271 35v3M271 46v2M271 54v1M271 61v3M272 25v1M272 43v2M272 54v2M272 68v1M272 71v1M273 1v2M273 6v2M273 9v3M273 17v2M273 24v2M273 37v1M273 45v3M273 59v1M273 63v1M273 69v1M274 4v1M274 10v1M274 46v1M275 7v1M275 12v1M275 18v1M275 24v2M275 28v1M275 44v1M275 59v1M275 76v1M276 43v1M276 53v1M276 56v3M276 65v1M276 67v2M276 72v2M276 76v2M277 11v2M277 27v1M277 38v1M277 46v1M277 54v1M277 58v2M277 61v4M277 70v1M278 4v1M278 22v1M278 26v1M278 28v1M278 34v1M278 54v1M278 60v2M279 3v1M279 10v2M279 17v1M279 21v1M279 35v1M279 52v1M279 60v3M279 67v1M279 73v2M279 77v1M280 5v1M280 27v1M280 44v1M280 48v1M280 51v2M280 59v2M280 62v1M280 64v2M280 67v2M281 0v2M281 15v1M281 19v1M281 30v2M281 38v2M281 45v1M281 47v2M281 55v1M281 66v1M282 9v2M282 19v1M282 23v2M282 26v4M282 32v1M282 38v1M282 50v2M283 7v2M283 16v2M283 22v3M283 27v4M283 32v3M283 51v1M283 54v1M283 56v2M283 67v2M283 72v3M284 0v2M284 4v1M284 15v2M284 24v1M284 28v1M284 35v1M285 18v2M285 31v1M285 36v1M285 42v4M285 58v1M285 62v2M285 75v2M286 2v2M286 19v2M286 25v2M286 32v1M286 38v1M286 43v2M286 54v1M286 77v1M287 22v1M287 28v1M287 38v2M287 59v1M288 11v1M288 14v1M288 31v2M288 39v1M288 48v2M288 51v1M288 54v1M288 58v2M288 63v1M288 65v2M288 71v1M288 76v2M289 4v2M289 10v3M289 19v1M289 30v1M289 41v1M289 58v2M290 25v2M290 41v1M290 68v1M290 70v1M291 22v2M291 34v2M291 39v2M291 44v2M291 65v2M292 2v1M292 24v2M292 29v2M292 35v2M292 40v2M292 48v1M292 68v1M293 8v3M293 14v1M293 35v1M293 72v2M294 1v1M294 6v3M294 18v2M294 67v2M294 71v1M295 5v1M295 13v1M295 17v2M295 26v1M295 44v2M295 49v2M295 54v1M296 20v2M296 24v3M296 34v2M296 37v1M296 41v2M296 46v1M296 53v1M296 72v1M297 3v2M297 7v6M297 32v2M297 39v3M297 47v1M297 50v2M298 8v2M298 16v1M298 31v2M298 64v1M298 69v1M298 74v1M299 2v1M299 6v2M299 11v2M299 16v1M299 35v1M299 40v1M299 43v2"/>
<path fill="none" stroke="#ff8c00" stroke-width="0.98" transform="translate(395.18 192.9) scale(0.76900 1.50641)" d="M0 14v1M0 73v2M1 12v1M2 7v2M2 15v2M2 24v1M3 41v1M5 15v1M5 66v1M8 35v1M8 39v2M11 74v1M12 23v1M12 44v1M12 56v1M15 12v1M15 26v1M16 19v2M17 39v1M17 42v2M17 57v1M18 35v1M18 71v1M19 10v1M19 25v1M19 59v1M20 46v1M20 60v2M23 24v1M23 41v2M24 11v2M24 19v1M24 44v1M24 62v2M25 43v1M26 4v1M26 26v1M28 33v1M30 29v1M30 38v2M30 51v1M31 54v1M31 64v1M32 20v1M33 21v2M33 36v1M34 40v1M34 61v2M34 74v2M35 13v1M36 43v2M37 43v1M37 52v1M39 16v1M39 34v1M40 0v1M40 24v1M40 42v1M40 56v1M40 75v2M41 64v1M42 6v1M42 74v1M43 16v1M43 55v1M44 53v1M45 28v1M45 35v1M45 39v3M46 35v1M46 37v1M47 10v1M47 75v2M48 26v1M49 8v1M49 22v1M50 38v2M50 50v2M50 61v1M51 17v1M52 62v1M52 76v1M53 23v2M53 76v2M54 17v1M54 36v1M54 40v1M54 65v1M57 26v2M58 25v1M58 76v1M59 17v2M60 29v2M61 24v2M61 32v1M61 52v1M62 10v1M62 70v1M63 12v1M63 15v2M63 33v1M64 50v2M65 30v1M65 39v1M65 43v2M65 47v1M67 25v1M67 61v1M68 40v1M68 46v1M68 60v1M68 67v1M69 37v1M69 40v1M70 72v2M70 76v1M71 25v2M71 44v1M71 73v2M72 41v2M72 63v1M74 14v1M74 66v2M76 25v1M77 12v1M78 57v1M79 0v1M79 44v2M79 50v1M80 26v1M80 29v1M81 7v1M81 24v2M81 47v1M82 11v2M82 21v2M82 32v1M83 30v2M85 14v2M85 60v2M86 45v1M87 5v2M87 23v2M88 72v2M89 64v1M90 23v2M91 32v1M91 44v1M92 3v1M92 17v2M92 35v1M93 71v1M93 75v1M94 64v2M95 57v1M97 30v2M98 17v1M98 40v2M101 25v1M103 15v1M103 60v1M103 69v1M104 4v1M104 16v1M105 29v2M105 44v2M107 19v2M108 52v1M109 52v1M109 62v1M110 48v1M110 59v1M110 76v1M112 6v1M112 29v1M114 30v1M114 49v2M116 43v1M116 69v1M117 50v2M118 14v1M119 16v1M122 30v2M122 36v1M122 49v1M123 31v1M123 45v2M123 65v1M123 71v2M124 41v1M124 66v1M124 75v1M125 34v1M125 52v1M126 27v1M126 50v1M127 12v1M127 39v1M127 47v1M127 59v2M128 1v2M129 0v2M129 15v1M129 40v2M130 73v1M131 18v1M131 36v1M131 70v1M133 45v1M133 75v1M134 34v2M135 55v1M137 7v1M138 1v2M138 76v2M139 26v2M139 71v1M141 12v1M141 18v2M141 74v2M142 22v1M144 12v1M144 41v2M144 70v1M145 57v1M147 25v1M147 54v1M147 64v1M148 0v2M148 6v1M148 65v1M149 44v1M150 28v2M150 39v1M151 56v1M153 76v1M155 42v1M156 43v1M156 47v1M158 22v1M158 54v1M158 65v2M159 8v2M159 22v2M159 45v2M160 24v1M160 55v2M161 5v1M161 40v1M161 58v2M162 34v2M163 0v2M164 15v1M164 22v2M165 7v1M167 77v1M168 3v1M169 50v2M169 60v2M170 2v1M171 2v1M172 72v2M173 31v2M173 51v1M174 28v1M175 26v1M176 22v2M179 16v2M179 29v1M179 45v1M180 39v1M181 13v2M181 28v1M183 14v1M183 22v2M183 70v2M184 3v2M184 9v1M187 14v2M188 0v2M188 56v1M189 51v2M190 40v2M191 76v1M192 3v1M193 0v2M193 16v1M193 39v1M193 56v1M193 73v1M194 77v1M195 28v1M198 16v1M199 33v2M199 36v2M199 63v2M200 44v1M201 29v1M201 40v2M201 46v2M201 76v1M202 60v1M203 29v1M203 53v1M204 26v1M204 49v1M205 38v2M205 57v1M206 60v2M208 27v1M208 60v1M209 57v1M209 73v2M210 58v1M211 31v1M213 2v2M213 28v1M213 43v1M213 62v1M213 71v1M214 25v1M214 62v2M215 62v1M216 39v1M216 50v1M216 58v1M217 66v2M219 3v2M219 16v1M220 19v1M221 70v1M222 75v1M223 64v2M224 9v1M224 12v2M224 25v1M224 76v2M225 3v1M225 21v2M225 36v1M225 38v2M226 41v2M226 44v1M227 18v1M227 53v1M229 25v2M230 71v2M231 2v1M231 17v1M231 59v1M232 28v2M233 5v2M233 52v1M233 66v2M235 28v1M235 31v1M236 16v1M237 0v1M237 68v1M237 70v1M238 61v1M238 66v2M239 23v2M239 32v1M239 39v1M240 45v1M240 68v2M242 44v2M244 53v1M245 28v1M245 58v1M247 77v1M249 34v1M250 57v1M251 24v2M252 29v1M252 58v2M252 74v1M253 22v1M253 76v2M256 15v1M256 66v2M257 7v1M258 24v1M258 41v1M258 61v1M258 70v1M259 71v1M260 25v1M260 47v1M262 16v1M262 48v1M262 56v2M262 75v1M263 17v1M264 1v2M264 68v1M265 38v2M265 65v1M266 31v3M268 77v1M269 68v1M269 77v1M270 52v2M271 3v1M271 45v1M274 13v1M274 20v1M274 52v2M274 59v2M275 34v1M275 63v2M276 9v1M277 20v1M277 40v1M279 19v1M280 70v1M280 77v1M281 14v1M282 49v1M282 57v1M282 69v2M283 3v2M283 75v1M284 11v1M284 14v1M285 32v1M285 41v1M285 47v1M287 42v2M287 71v2M288 70v1M289 53v1M290 18v2M290 24v1M290 52v2M292 45v1M292 56v1M292 75v1M293 29v1M293 42v1M293 48v1M294 11v2M294 43v1M294 56v1M295 24v1M295 34v1M296 49v2M296 75v2M297 46v1M297 74v1M298 45v1M299 14v1M299 21v1"/>
<path fill="none" stroke="#ffd2b4" stroke-width="1.04" transform="translate(395.18 192.9) scale(0.76900 1.50641)" d="M0 53v1M1 3v1M1 34v2M2 51v1M3 0v1M3 58v2M4 33v1M4 45v1M5 34v1M6 33v1M8 50v2M10 21v1M10 48v1M10 55v1M11 8v1M12 1v2M12 17v1M12 22v1M12 45v2M13 25v1M13 32v2M13 43v1M13 46v2M14 27v1M14 44v2M14 57v1M14 60v2M15 16v1M15 31v1M16 45v1M16 49v1M16 69v1M17 26v1M17 72v2M18 51v1M18 76v2M19 41v1M19 51v1M20 48v2M21 17v1M21 66v2M22 7v1M22 15v1M22 60v2M25 39v1M25 41v1M26 5v2M26 19v2M26 22v1M27 11v1M27 38v1M28 11v1M29 15v2M31 5v1M32 57v1M33 54v2M33 58v1M35 51v1M36 33v1M36 69v1M38 67v1M38 71v1M39 41v1M40 69v1M42 18v1M42 54v1M43 29v1M43 45v1M43 57v2M44 43v1M45 16v1M45 27v1M46 13v1M46 30v1M46 44v1M47 50v1M47 65v2M48 64v1M49 58v2M49 69v1M50 25v1M51 27v1M51 32v1M51 42v2M52 9v2M52 13v2M52 30v1M53 29v1M53 54v1M53 62v1M53 66v1M55 1v1M56 19v1M56 51v2M57 36v1M57 66v2M57 76v2M58 14v1M58 39v1M59 15v1M59 76v2M60 73v1M61 54v1M61 68v1M62 14v1M62 51v1M63 21v2M63 28v1M63 31v2M63 48v1M63 57v1M63 74v2M64 19v2M64 44v1M64 48v1M65 52v1M65 72v2M65 75v1M66 38v1M67 46v1M68 4v2M68 9v2M68 36v1M68 55v1M69 31v1M69 57v1M69 60v1M71 13v1M71 58v4M71 68v1M73 48v2M74 15v2M74 18v1M74 49v1M75 30v1M75 59v1M76 8v1M76 56v2M77 7v1M77 11v1M77 62v1M78 0v2M78 14v1M78 60v1M78 62v1M79 5v1M79 18v2M79 51v1M80 48v1M81 55v1M82 18v2M82 60v1M82 72v1M83 67v1M85 6v1M86 73v1M86 75v1M86 77v1M87 7v1M87 55v1M88 39v1M89 23v2M89 40v1M89 42v2M89 52v1M89 68v1M91 15v1M91 74v2M93 58v1M94 6v2M94 41v2M94 47v1M95 0v2M95 24v1M95 38v2M95 58v1M96 63v2M97 65v1M98 14v1M98 22v2M98 50v1M99 18v1M99 32v1M99 36v1M100 33v1M100 60v1M100 71v2M101 2v2M101 21v1M101 42v1M102 47v1M103 9v2M103 13v2M104 27v2M105 55v1M106 0v1M106 43v1M107 6v1M107 40v2M108 6v1M108 61v2M110 62v1M111 13v2M111 22v1M111 25v1M111 31v1M112 56v2M113 21v2M113 56v1M113 62v1M114 18v1M115 69v1M116 22v1M117 1v1M117 15v1M118 16v1M118 57v1M118 77v1M119 34v1M119 61v1M119 75v2M120 37v1M120 44v1M120 59v1M121 43v1M121 51v2M121 66v2M122 53v2M123 32v2M123 50v1M123 68v3M124 55v1M125 5v1M125 44v1M125 72v2M126 36v2M126 54v1M126 76v1M127 10v2M127 29v1M128 59v1M129 26v1M129 34v2M130 31v2M130 48v1M131 31v3M131 44v1M132 42v2M133 57v1M135 4v1M135 11v1M135 17v2M135 30v2M135 38v1M135 51v2M137 46v2M139 61v2M140 64v2M141 2v2M141 44v1M142 37v1M142 74v1M143 34v1M143 46v2M143 74v2M144 46v1M144 54v2M146 52v2M147 36v1M147 38v2M148 21v1M148 36v1M148 41v1M149 41v1M149 72v1M150 5v2M150 33v1M150 53v1M150 72v2M151 13v2M151 18v1M151 43v2M152 47v2M153 3v1M153 14v1M153 17v1M154 28v1M155 7v1M155 47v2M156 42v1M157 49v1M157 77v1M158 4v2M159 13v1M159 47v1M160 22v1M160 49v2M161 56v1M161 60v2M161 76v1M163 28v1M163 39v2M164 45v1M165 2v2M166 37v2M166 45v1M166 60v2M166 71v2M167 4v2M168 2v1M168 50v1M170 8v2M170 47v1M171 13v1M171 35v1M171 38v2M172 22v2M172 45v1M172 47v1M172 69v1M173 9v2M173 69v1M174 11v1M174 32v1M175 52v1M175 66v2M176 26v1M176 52v2M177 18v1M177 49v1M178 1v1M179 18v2M179 46v2M179 51v1M179 77v1M182 33v1M182 36v2M182 65v1M183 55v1M184 18v2M184 69v2M185 4v1M185 30v2M185 64v1M186 52v1M186 65v1M187 33v1M188 15v2M190 34v1M190 42v1M192 40v1M193 18v2M193 51v2M193 62v1M194 39v2M194 47v2M194 73v2M195 17v1M196 23v2M196 31v2M196 55v2M196 69v1M199 5v1M200 40v2M200 69v1M201 16v1M202 11v2M202 71v2M203 1v1M203 64v1M205 70v1M206 69v2M206 77v1M207 22v1M208 22v1M208 39v1M208 53v1M209 46v1M210 9v1M210 19v1M211 42v2M212 69v1M213 31v1M213 57v1M214 6v1M214 32v1M214 60v1M215 4v2M216 20v2M217 0v2M217 12v1M217 37v2M217 43v1M218 27v2M219 8v1M219 17v1M222 41v1M223 8v1M225 57v1M225 74v1M227 61v1M228 38v1M228 69v2M229 21v2M230 7v2M230 45v1M232 1v2M232 77v1M233 74v2M234 5v2M235 25v1M236 31v1M237 6v1M237 37v1M238 22v2M238 31v2M239 61v1M240 11v1M240 60v1M241 3v2M241 72v1M242 43v1M242 46v2M243 8v1M243 13v2M243 66v1M245 44v2M249 9v2M251 8v1M251 52v1M252 1v2M253 0v1M254 17v2M254 69v1M255 28v2M255 50v1M255 64v1M256 68v2M258 13v1M258 22v2M258 39v2M260 10v1M260 48v1M260 61v1M261 21v2M261 30v2M262 5v2M263 20v1M263 68v1M264 15v2M264 38v1M268 58v2M269 62v1M270 46v1M270 63v1M272 0v2M272 14v1M272 21v1M272 45v2M272 59v2M273 21v1M273 36v1M273 39v1M273 54v2M273 58v1M274 56v1M274 74v1M275 19v1M275 26v2M276 24v1M278 2v2M278 44v1M279 33v2M279 51v1M280 23v1M280 69v1M281 65v1M281 72v1M283 0v2M284 5v1M284 62v1M284 71v1M285 70v1M286 15v1M286 46v1M287 66v1M287 69v1M288 47v1M288 68v2M289 44v2M290 37v2M290 46v1M290 51v1M291 9v1M291 11v2M291 21v1M291 57v3M292 15v2M292 69v1M293 58v1M293 62v1M294 77v1M296 39v1M296 47v1M296 59v1M296 71v1M297 38v1M298 12v1M299 28v1M299 31v1M299 33v1M299 42v1M299 72v2"/>
<path fill="none" stroke="#fff" stroke-width="1.04" transform="translate(395.18 192.9) scale(0.76900 1.50641)" d="M2 9v1M3 27v2M3 32v1M3 61v2M8 36v3M8 46v2M9 62v2M10 34v1M11 27v1M11 41v1M13 26v2M15 32v1M19 74v2M21 71v1M25 54v1M27 21v2M29 39v1M32 60v1M32 63v1M34 21v2M35 3v2M35 22v1M36 65v2M38 27v1M38 29v1M38 50v1M39 21v1M39 47v1M41 26v1M43 25v2M46 58v1M48 0v2M54 0v2M59 50v1M61 28v1M63 56v1M67 58v1M68 21v1M69 22v1M71 37v2M71 46v1M73 20v1M76 5v1M76 11v2M79 59v1M80 34v1M81 19v1M83 0v2M84 25v1M84 63v2M85 34v1M85 41v2M85 49v2M87 60v2M89 4v1M94 40v1M96 7v1M98 13v1M100 40v1M108 3v1M108 10v1M108 28v2M109 34v1M109 63v1M110 43v1M115 40v1M117 36v1M118 49v1M119 50v2M119 57v2M121 29v1M123 14v2M124 76v2M126 17v1M126 38v1M131 28v2M131 55v1M132 2v1M135 50v1M137 72v1M140 42v1M144 15v1M144 49v1M145 36v1M145 58v1M151 65v1M154 46v1M154 60v2M156 15v1M156 33v1M160 18v1M161 68v1M165 76v2M171 20v1M172 24v2M176 72v1M178 9v2M179 43v2M181 54v2M182 77v1M183 2v1M187 7v1M187 76v1M188 34v2M188 72v1M189 70v1M190 50v1M190 54v2M193 8v1M194 27v2M194 70v1M195 22v1M196 65v1M203 7v1M204 9v2M207 16v1M208 50v2M210 37v2M211 45v1M211 61v1M212 12v2M212 25v2M212 39v1M214 3v1M215 70v1M219 28v1M220 54v2M221 6v1M226 30v1M229 59v1M231 49v1M231 65v2M232 36v2M232 43v2M233 53v1M233 68v1M234 0v1M236 32v1M238 24v2M240 4v1M241 6v2M248 7v2M254 10v2M255 61v2M258 11v1M261 64v1M263 70v1M269 53v1M270 24v1M271 55v1M273 5v1M273 64v1M276 3v2M277 8v1M277 76v1M279 0v1M281 4v1M285 61v1M288 33v1M288 55v2M288 74v2M291 15v1M292 71v1M295 11v2"/>
<rect x="281.8" y="192.4" width="28.5" height="118.4" fill="url(#jet)" stroke="#2a2a2a" stroke-width="0.7"/>
<text x="311.9" y="202.2" text-anchor="start" font-size="11.3">50</text>
<text x="311.9" y="243" text-anchor="start" font-size="11.3">0</text>
<text x="311.9" y="283.9" text-anchor="start" font-size="11.3">-50</text>
<path d="M310.3 198.1h-2M281.8 198.1h2M310.3 238.9h-2M281.8 238.9h2M310.3 279.8h-2M281.8 279.8h2" stroke="#2a2a2a" stroke-width="0.7" fill="none"/>
<rect x="632.3" y="193" width="28.7" height="118.7" fill="url(#jet)" stroke="#2a2a2a" stroke-width="0.7"/>
<text x="662.6" y="211.8" text-anchor="start" font-size="11.3">-40</text>
<text x="662.6" y="235" text-anchor="start" font-size="11.3">-60</text>
<text x="662.6" y="258.2" text-anchor="start" font-size="11.3">-80</text>
<text x="662.6" y="281.4" text-anchor="start" font-size="11.3">-100</text>
<text x="662.6" y="304.7" text-anchor="start" font-size="11.3">-120</text>
<path d="M661 207.7h-2M632.3 207.7h2M661 230.9h-2M632.3 230.9h2M661 254.1h-2M632.3 254.1h2M661 277.3h-2M632.3 277.3h2M661 300.6h-2M632.3 300.6h2" stroke="#2a2a2a" stroke-width="0.7" fill="none"/>
<text x="42.1" y="197.1" text-anchor="end" font-size="11.3">4000</text>
<text x="42.1" y="226.3" text-anchor="end" font-size="11.3">3000</text>
<text x="42.1" y="255.5" text-anchor="end" font-size="11.3">2000</text>
<text x="42.1" y="284.7" text-anchor="end" font-size="11.3">1000</text>
<text x="42.1" y="313.9" text-anchor="end" font-size="11.3">0</text>
<text x="80.25" y="322.8" text-anchor="middle" font-size="11.3">0.5</text>
<text x="115.7" y="322.8" text-anchor="middle" font-size="11.3">1</text>
<text x="151.15" y="322.8" text-anchor="middle" font-size="11.3">1.5</text>
<text x="186.6" y="322.8" text-anchor="middle" font-size="11.3">2</text>
<text x="222.05" y="322.8" text-anchor="middle" font-size="11.3">2.5</text>
<text x="257.5" y="322.8" text-anchor="middle" font-size="11.3">3</text>
<text x="158.2" y="334.6" text-anchor="middle" font-size="11.1">Time (s)</text>
<text transform="translate(10.2 250.9) rotate(-90)" text-anchor="middle" font-size="11.4">Frequency (Hz)</text>
<text x="392.1" y="197.1" text-anchor="end" font-size="11.3">4000</text>
<text x="392.1" y="226.3" text-anchor="end" font-size="11.3">3000</text>
<text x="392.1" y="255.5" text-anchor="end" font-size="11.3">2000</text>
<text x="392.1" y="284.7" text-anchor="end" font-size="11.3">1000</text>
<text x="392.1" y="313.9" text-anchor="end" font-size="11.3">0</text>
<text x="430.25" y="322.8" text-anchor="middle" font-size="11.3">0.5</text>
<text x="465.7" y="322.8" text-anchor="middle" font-size="11.3">1</text>
<text x="501.15" y="322.8" text-anchor="middle" font-size="11.3">1.5</text>
<text x="536.6" y="322.8" text-anchor="middle" font-size="11.3">2</text>
<text x="572.05" y="322.8" text-anchor="middle" font-size="11.3">2.5</text>
<text x="607.5" y="322.8" text-anchor="middle" font-size="11.3">3</text>
<text x="508.2" y="334.6" text-anchor="middle" font-size="11.1">Time (s)</text>
<text transform="translate(360.2 250.9) rotate(-90)" text-anchor="middle" font-size="11.4">Frequency (Hz)</text>
</svg>
</body></html>
